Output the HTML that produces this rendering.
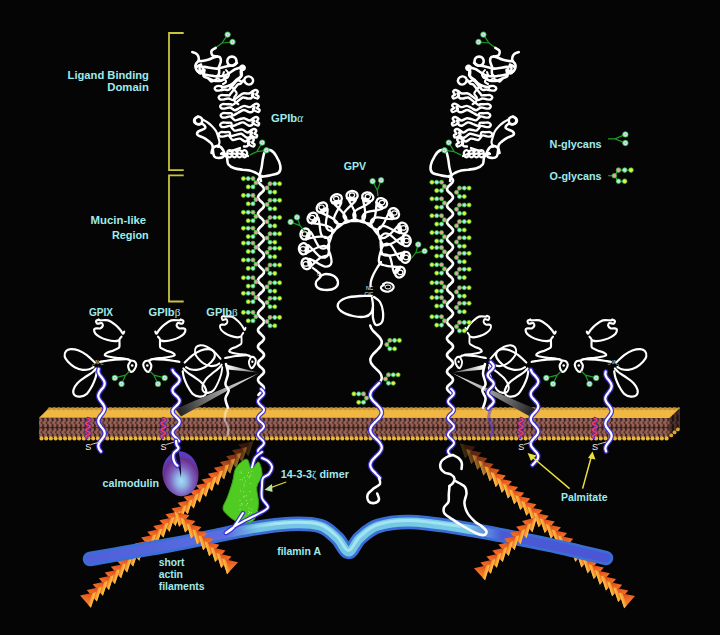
<!DOCTYPE html><html><head><meta charset="utf-8"><style>html,body{margin:0;padding:0;background:#050506;width:720px;height:635px;overflow:hidden}svg{display:block}text{font-family:"Liberation Sans",sans-serif}.t{font-weight:bold;fill:#a0eaea}</style></head><body>
<svg width="720" height="635" viewBox="0 0 720 635">
<rect width="720" height="635" fill="#050506"/>
<path d="M183.7,33 H169 V170.2 H183.7 M183.7,175.4 H169 V301.5 H183.7" fill="none" stroke="#c9c43c" stroke-width="1.8"/>
<defs><linearGradient id="actg" gradientUnits="userSpaceOnUse" x1="1" y1="5.5" x2="1" y2="-3">
<stop offset="0" stop-color="#d0341a"/><stop offset="0.35" stop-color="#e8561e"/><stop offset="1" stop-color="#f27c26"/></linearGradient>
<linearGradient id="acty" gradientUnits="userSpaceOnUse" x1="-3.7" y1="0" x2="-1.0" y2="0">
<stop offset="0" stop-color="#fbc84a"/><stop offset="0.6" stop-color="#f7a236"/><stop offset="1" stop-color="#f2862c"/></linearGradient>
<g id="atri"><polygon points="7.4,0 -3.7,6.5 -3.7,-6.5" fill="url(#actg)"/><polygon points="-3.7,6.5 -1.0,4.9 -1.0,-4.9 -3.7,-6.5" fill="url(#acty)"/></g></defs>
<use href="#atri" transform="translate(246.6,447.3) rotate(198.2) scale(1.2,1.2)" opacity="0.21"/><use href="#atri" transform="translate(240.5,453.1) rotate(198.2) scale(1.2,1.2)" opacity="0.38"/><use href="#atri" transform="translate(234.5,458.9) rotate(198.2) scale(1.2,1.2)" opacity="0.54"/><use href="#atri" transform="translate(228.4,464.7) rotate(198.2) scale(1.2,1.2)" opacity="0.71"/><use href="#atri" transform="translate(222.3,470.5) rotate(198.2) scale(1.2,1.2)" opacity="0.87"/><use href="#atri" transform="translate(216.3,476.4) rotate(198.2) scale(1.2,1.2)"/><use href="#atri" transform="translate(210.2,482.2) rotate(198.2) scale(1.2,1.2)"/><use href="#atri" transform="translate(204.2,488) rotate(198.2) scale(1.2,1.2)"/><use href="#atri" transform="translate(198.1,493.8) rotate(198.2) scale(1.2,1.2)"/><use href="#atri" transform="translate(192,499.6) rotate(198.2) scale(1.2,1.2)"/><use href="#atri" transform="translate(186,505.4) rotate(198.2) scale(1.2,1.2)"/><use href="#atri" transform="translate(179.9,511.3) rotate(198.2) scale(1.2,1.2)"/><use href="#atri" transform="translate(173.9,517.1) rotate(198.2) scale(1.2,1.2)"/><use href="#atri" transform="translate(167.8,522.9) rotate(198.2) scale(1.2,1.2)"/><use href="#atri" transform="translate(161.7,528.7) rotate(198.2) scale(1.2,1.2)"/><use href="#atri" transform="translate(155.7,534.5) rotate(198.2) scale(1.2,1.2)"/><use href="#atri" transform="translate(149.6,540.3) rotate(198.2) scale(1.2,1.2)"/><use href="#atri" transform="translate(143.5,546.2) rotate(198.2) scale(1.2,1.2)"/><use href="#atri" transform="translate(137.5,552) rotate(198.2) scale(1.2,1.2)"/><use href="#atri" transform="translate(131.4,557.8) rotate(198.2) scale(1.2,1.2)"/><use href="#atri" transform="translate(125.4,563.6) rotate(198.2) scale(1.2,1.2)"/><use href="#atri" transform="translate(119.3,569.4) rotate(198.2) scale(1.2,1.2)"/><use href="#atri" transform="translate(113.2,575.2) rotate(198.2) scale(1.2,1.2)"/><use href="#atri" transform="translate(107.2,581.1) rotate(198.2) scale(1.2,1.2)"/><use href="#atri" transform="translate(101.1,586.9) rotate(198.2) scale(1.2,1.2)"/><use href="#atri" transform="translate(95.1,592.7) rotate(198.2) scale(1.2,1.2)"/><use href="#atri" transform="translate(89,598.5) rotate(198.2) scale(1.272,1.272)"/>
<use href="#atri" transform="translate(466.8,449.5) rotate(-18.8) scale(1.2,-1.2)" opacity="0.22"/><use href="#atri" transform="translate(472.9,455.3) rotate(-18.8) scale(1.2,-1.2)" opacity="0.39"/><use href="#atri" transform="translate(479,461) rotate(-18.8) scale(1.2,-1.2)" opacity="0.55"/><use href="#atri" transform="translate(485.1,466.8) rotate(-18.8) scale(1.2,-1.2)" opacity="0.71"/><use href="#atri" transform="translate(491.3,472.5) rotate(-18.8) scale(1.2,-1.2)" opacity="0.88"/><use href="#atri" transform="translate(497.4,478.3) rotate(-18.8) scale(1.2,-1.2)"/><use href="#atri" transform="translate(503.5,484) rotate(-18.8) scale(1.2,-1.2)"/><use href="#atri" transform="translate(509.6,489.8) rotate(-18.8) scale(1.2,-1.2)"/><use href="#atri" transform="translate(515.8,495.5) rotate(-18.8) scale(1.2,-1.2)"/><use href="#atri" transform="translate(521.9,501.3) rotate(-18.8) scale(1.2,-1.2)"/><use href="#atri" transform="translate(528,507) rotate(-18.8) scale(1.2,-1.2)"/><use href="#atri" transform="translate(534.1,512.8) rotate(-18.8) scale(1.2,-1.2)"/><use href="#atri" transform="translate(540.3,518.5) rotate(-18.8) scale(1.2,-1.2)"/><use href="#atri" transform="translate(546.4,524.3) rotate(-18.8) scale(1.2,-1.2)"/><use href="#atri" transform="translate(552.5,530) rotate(-18.8) scale(1.2,-1.2)"/><use href="#atri" transform="translate(558.6,535.8) rotate(-18.8) scale(1.2,-1.2)"/><use href="#atri" transform="translate(564.8,541.5) rotate(-18.8) scale(1.2,-1.2)"/><use href="#atri" transform="translate(570.9,547.3) rotate(-18.8) scale(1.2,-1.2)"/><use href="#atri" transform="translate(577,553) rotate(-18.8) scale(1.2,-1.2)"/><use href="#atri" transform="translate(583.1,558.8) rotate(-18.8) scale(1.2,-1.2)"/><use href="#atri" transform="translate(589.3,564.5) rotate(-18.8) scale(1.2,-1.2)"/><use href="#atri" transform="translate(595.4,570.3) rotate(-18.8) scale(1.2,-1.2)"/><use href="#atri" transform="translate(601.5,576) rotate(-18.8) scale(1.2,-1.2)"/><use href="#atri" transform="translate(607.6,581.8) rotate(-18.8) scale(1.2,-1.2)"/><use href="#atri" transform="translate(613.8,587.5) rotate(-18.8) scale(1.2,-1.2)"/><use href="#atri" transform="translate(619.9,593.3) rotate(-18.8) scale(1.2,-1.2)"/><use href="#atri" transform="translate(626,599) rotate(-18.8) scale(1.272,-1.272)"/>
<defs><linearGradient id="filg" gradientUnits="userSpaceOnUse" x1="80" y1="0" x2="620" y2="0">
<stop offset="0" stop-color="#4e5ed8"/><stop offset="0.27" stop-color="#5a6ee0"/><stop offset="0.33" stop-color="#74c4e4"/>
<stop offset="0.72" stop-color="#78cce6"/><stop offset="0.78" stop-color="#4a5ad6"/><stop offset="1" stop-color="#4a56d4"/></linearGradient>
<linearGradient id="filh" gradientUnits="userSpaceOnUse" x1="80" y1="0" x2="620" y2="0">
<stop offset="0" stop-color="#5a6ee0" stop-opacity="0"/><stop offset="0.3" stop-color="#9ee0f0" stop-opacity="0"/><stop offset="0.36" stop-color="#a8e6f2" stop-opacity="1"/>
<stop offset="0.7" stop-color="#a0e2f0" stop-opacity="1"/><stop offset="0.76" stop-color="#5a6ee0" stop-opacity="0"/></linearGradient></defs><path d="M90,559 C96.7,557.8 116.7,554.3 130,552 C143.3,549.7 156.7,547.5 170,545 C183.3,542.5 196.7,539.7 210,537 C223.3,534.3 236.7,531.2 250,529 C263.3,526.8 278.3,524.5 290,524 C301.7,523.5 312.2,523.7 320,526 C327.8,528.3 332.2,533.7 337,538 C341.8,542.3 344.7,552 348.5,552 C352.3,552 355.1,542.3 360,538 C364.9,533.7 369.7,528.7 378,526 C386.3,523.3 397.2,521.8 410,522 C422.8,522.2 440,524.8 455,527 C470,529.2 484.2,532 500,535 C515.8,538 532.3,541.2 550,545 C567.7,548.8 596.7,555.8 606,558" fill="none" stroke="#3a6ed6" stroke-width="14.5" stroke-linecap="round" stroke-linejoin="round"/><path d="M90,559 C96.7,557.8 116.7,554.3 130,552 C143.3,549.7 156.7,547.5 170,545 C183.3,542.5 196.7,539.7 210,537 C223.3,534.3 236.7,531.2 250,529 C263.3,526.8 278.3,524.5 290,524 C301.7,523.5 312.2,523.7 320,526 C327.8,528.3 332.2,533.7 337,538 C341.8,542.3 344.7,552 348.5,552 C352.3,552 355.1,542.3 360,538 C364.9,533.7 369.7,528.7 378,526 C386.3,523.3 397.2,521.8 410,522 C422.8,522.2 440,524.8 455,527 C470,529.2 484.2,532 500,535 C515.8,538 532.3,541.2 550,545 C567.7,548.8 596.7,555.8 606,558" fill="none" stroke="url(#filg)" stroke-width="9" stroke-linecap="round" stroke-linejoin="round"/><path d="M90,559 C96.7,557.8 116.7,554.3 130,552 C143.3,549.7 156.7,547.5 170,545 C183.3,542.5 196.7,539.7 210,537 C223.3,534.3 236.7,531.2 250,529 C263.3,526.8 278.3,524.5 290,524 C301.7,523.5 312.2,523.7 320,526 C327.8,528.3 332.2,533.7 337,538 C341.8,542.3 344.7,552 348.5,552 C352.3,552 355.1,542.3 360,538 C364.9,533.7 369.7,528.7 378,526 C386.3,523.3 397.2,521.8 410,522 C422.8,522.2 440,524.8 455,527 C470,529.2 484.2,532 500,535 C515.8,538 532.3,541.2 550,545 C567.7,548.8 596.7,555.8 606,558" fill="none" stroke="url(#filh)" stroke-width="3" stroke-linecap="round" transform="translate(0,-1.5)"/>
<use href="#atri" transform="translate(181,517.9) rotate(-17.6) scale(1.2,-1.2)"/><use href="#atri" transform="translate(187,523.8) rotate(-17.6) scale(1.2,-1.2)"/><use href="#atri" transform="translate(193,529.7) rotate(-17.6) scale(1.2,-1.2)"/><use href="#atri" transform="translate(199,535.6) rotate(-17.6) scale(1.2,-1.2)"/><use href="#atri" transform="translate(205,541.5) rotate(-17.6) scale(1.2,-1.2)"/><use href="#atri" transform="translate(211,547.4) rotate(-17.6) scale(1.2,-1.2)"/><use href="#atri" transform="translate(217,553.2) rotate(-17.6) scale(1.2,-1.2)"/><use href="#atri" transform="translate(223,559.1) rotate(-17.6) scale(1.2,-1.2)"/><use href="#atri" transform="translate(229,565) rotate(-17.6) scale(1.272,-1.272)"/>
<use href="#atri" transform="translate(530.5,523.5) rotate(197) scale(1.2,1.2)"/><use href="#atri" transform="translate(524.6,529.4) rotate(197) scale(1.2,1.2)"/><use href="#atri" transform="translate(518.6,535.4) rotate(197) scale(1.2,1.2)"/><use href="#atri" transform="translate(512.7,541.3) rotate(197) scale(1.2,1.2)"/><use href="#atri" transform="translate(506.8,547.2) rotate(197) scale(1.2,1.2)"/><use href="#atri" transform="translate(500.8,553.2) rotate(197) scale(1.2,1.2)"/><use href="#atri" transform="translate(494.9,559.1) rotate(197) scale(1.2,1.2)"/><use href="#atri" transform="translate(488.9,565.1) rotate(197) scale(1.2,1.2)"/><use href="#atri" transform="translate(483,571) rotate(197) scale(1.272,1.272)"/>
<defs>
<pattern id="lip" x="0" y="418" width="4.7" height="9.5" patternUnits="userSpaceOnUse">
<rect width="4.7" height="9.5" fill="#3c221c"/>
<path d="M2.35,0 L3.9,2.4 L1.2,4.8 L3.9,7.1 L2.35,9.5" stroke="#976258" stroke-width="2.3" fill="none"/>
</pattern>
<pattern id="topb" x="0" y="405" width="4.7" height="6" patternUnits="userSpaceOnUse">
<circle cx="2.35" cy="3.5" r="2.1" fill="#b98a36"/>
</pattern>
</defs><polygon points="669.5,418 680,408 680,428.5 669.5,437.5" fill="url(#lip)"/><polygon points="669.5,418 680,408 680,428.5 669.5,437.5" fill="#000" opacity="0.5"/><rect x="39" y="417.5" width="630.5" height="19.5" fill="url(#lip)"/><rect x="39" y="427" width="630.5" height="1.2" fill="#2a160e" opacity="0.6"/><polygon points="39,417.8 49,408 680,408 669.5,418" fill="#f1b743"/><polygon points="46,410.5 49,407 680,407 677.5,410.5" fill="url(#topb)" opacity="0.8"/><circle cx="41.5" cy="438.4" r="2.1" fill="#eab736"/><circle cx="46.2" cy="438.4" r="2.1" fill="#eab736"/><circle cx="50.9" cy="438.4" r="2.1" fill="#eab736"/><circle cx="55.6" cy="438.4" r="2.1" fill="#eab736"/><circle cx="60.3" cy="438.4" r="2.1" fill="#eab736"/><circle cx="65" cy="438.4" r="2.1" fill="#eab736"/><circle cx="69.7" cy="438.4" r="2.1" fill="#eab736"/><circle cx="74.4" cy="438.4" r="2.1" fill="#eab736"/><circle cx="79.1" cy="438.4" r="2.1" fill="#eab736"/><circle cx="83.8" cy="438.4" r="2.1" fill="#eab736"/><circle cx="88.5" cy="438.4" r="2.1" fill="#eab736"/><circle cx="93.2" cy="438.4" r="2.1" fill="#eab736"/><circle cx="97.9" cy="438.4" r="2.1" fill="#eab736"/><circle cx="102.6" cy="438.4" r="2.1" fill="#eab736"/><circle cx="107.3" cy="438.4" r="2.1" fill="#eab736"/><circle cx="112" cy="438.4" r="2.1" fill="#eab736"/><circle cx="116.7" cy="438.4" r="2.1" fill="#eab736"/><circle cx="121.4" cy="438.4" r="2.1" fill="#eab736"/><circle cx="126.1" cy="438.4" r="2.1" fill="#eab736"/><circle cx="130.8" cy="438.4" r="2.1" fill="#eab736"/><circle cx="135.5" cy="438.4" r="2.1" fill="#eab736"/><circle cx="140.2" cy="438.4" r="2.1" fill="#eab736"/><circle cx="144.9" cy="438.4" r="2.1" fill="#eab736"/><circle cx="149.6" cy="438.4" r="2.1" fill="#eab736"/><circle cx="154.3" cy="438.4" r="2.1" fill="#eab736"/><circle cx="159" cy="438.4" r="2.1" fill="#eab736"/><circle cx="163.7" cy="438.4" r="2.1" fill="#eab736"/><circle cx="168.4" cy="438.4" r="2.1" fill="#eab736"/><circle cx="173.1" cy="438.4" r="2.1" fill="#eab736"/><circle cx="177.8" cy="438.4" r="2.1" fill="#eab736"/><circle cx="182.5" cy="438.4" r="2.1" fill="#eab736"/><circle cx="187.2" cy="438.4" r="2.1" fill="#eab736"/><circle cx="191.9" cy="438.4" r="2.1" fill="#eab736"/><circle cx="196.6" cy="438.4" r="2.1" fill="#eab736"/><circle cx="201.3" cy="438.4" r="2.1" fill="#eab736"/><circle cx="206" cy="438.4" r="2.1" fill="#eab736"/><circle cx="210.7" cy="438.4" r="2.1" fill="#eab736"/><circle cx="215.4" cy="438.4" r="2.1" fill="#eab736"/><circle cx="220.1" cy="438.4" r="2.1" fill="#eab736"/><circle cx="224.8" cy="438.4" r="2.1" fill="#eab736"/><circle cx="229.5" cy="438.4" r="2.1" fill="#eab736"/><circle cx="234.2" cy="438.4" r="2.1" fill="#eab736"/><circle cx="238.9" cy="438.4" r="2.1" fill="#eab736"/><circle cx="243.6" cy="438.4" r="2.1" fill="#eab736"/><circle cx="248.3" cy="438.4" r="2.1" fill="#eab736"/><circle cx="253" cy="438.4" r="2.1" fill="#eab736"/><circle cx="257.7" cy="438.4" r="2.1" fill="#eab736"/><circle cx="262.4" cy="438.4" r="2.1" fill="#eab736"/><circle cx="267.1" cy="438.4" r="2.1" fill="#eab736"/><circle cx="271.8" cy="438.4" r="2.1" fill="#eab736"/><circle cx="276.5" cy="438.4" r="2.1" fill="#eab736"/><circle cx="281.2" cy="438.4" r="2.1" fill="#eab736"/><circle cx="285.9" cy="438.4" r="2.1" fill="#eab736"/><circle cx="290.6" cy="438.4" r="2.1" fill="#eab736"/><circle cx="295.3" cy="438.4" r="2.1" fill="#eab736"/><circle cx="300" cy="438.4" r="2.1" fill="#eab736"/><circle cx="304.7" cy="438.4" r="2.1" fill="#eab736"/><circle cx="309.4" cy="438.4" r="2.1" fill="#eab736"/><circle cx="314.1" cy="438.4" r="2.1" fill="#eab736"/><circle cx="318.8" cy="438.4" r="2.1" fill="#eab736"/><circle cx="323.5" cy="438.4" r="2.1" fill="#eab736"/><circle cx="328.2" cy="438.4" r="2.1" fill="#eab736"/><circle cx="332.9" cy="438.4" r="2.1" fill="#eab736"/><circle cx="337.6" cy="438.4" r="2.1" fill="#eab736"/><circle cx="342.3" cy="438.4" r="2.1" fill="#eab736"/><circle cx="347" cy="438.4" r="2.1" fill="#eab736"/><circle cx="351.7" cy="438.4" r="2.1" fill="#eab736"/><circle cx="356.4" cy="438.4" r="2.1" fill="#eab736"/><circle cx="361.1" cy="438.4" r="2.1" fill="#eab736"/><circle cx="365.8" cy="438.4" r="2.1" fill="#eab736"/><circle cx="370.5" cy="438.4" r="2.1" fill="#eab736"/><circle cx="375.2" cy="438.4" r="2.1" fill="#eab736"/><circle cx="379.9" cy="438.4" r="2.1" fill="#eab736"/><circle cx="384.6" cy="438.4" r="2.1" fill="#eab736"/><circle cx="389.3" cy="438.4" r="2.1" fill="#eab736"/><circle cx="394" cy="438.4" r="2.1" fill="#eab736"/><circle cx="398.7" cy="438.4" r="2.1" fill="#eab736"/><circle cx="403.4" cy="438.4" r="2.1" fill="#eab736"/><circle cx="408.1" cy="438.4" r="2.1" fill="#eab736"/><circle cx="412.8" cy="438.4" r="2.1" fill="#eab736"/><circle cx="417.5" cy="438.4" r="2.1" fill="#eab736"/><circle cx="422.2" cy="438.4" r="2.1" fill="#eab736"/><circle cx="426.9" cy="438.4" r="2.1" fill="#eab736"/><circle cx="431.6" cy="438.4" r="2.1" fill="#eab736"/><circle cx="436.3" cy="438.4" r="2.1" fill="#eab736"/><circle cx="441" cy="438.4" r="2.1" fill="#eab736"/><circle cx="445.7" cy="438.4" r="2.1" fill="#eab736"/><circle cx="450.4" cy="438.4" r="2.1" fill="#eab736"/><circle cx="455.1" cy="438.4" r="2.1" fill="#eab736"/><circle cx="459.8" cy="438.4" r="2.1" fill="#eab736"/><circle cx="464.5" cy="438.4" r="2.1" fill="#eab736"/><circle cx="469.2" cy="438.4" r="2.1" fill="#eab736"/><circle cx="473.9" cy="438.4" r="2.1" fill="#eab736"/><circle cx="478.6" cy="438.4" r="2.1" fill="#eab736"/><circle cx="483.3" cy="438.4" r="2.1" fill="#eab736"/><circle cx="488" cy="438.4" r="2.1" fill="#eab736"/><circle cx="492.7" cy="438.4" r="2.1" fill="#eab736"/><circle cx="497.4" cy="438.4" r="2.1" fill="#eab736"/><circle cx="502.1" cy="438.4" r="2.1" fill="#eab736"/><circle cx="506.8" cy="438.4" r="2.1" fill="#eab736"/><circle cx="511.5" cy="438.4" r="2.1" fill="#eab736"/><circle cx="516.2" cy="438.4" r="2.1" fill="#eab736"/><circle cx="520.9" cy="438.4" r="2.1" fill="#eab736"/><circle cx="525.6" cy="438.4" r="2.1" fill="#eab736"/><circle cx="530.3" cy="438.4" r="2.1" fill="#eab736"/><circle cx="535" cy="438.4" r="2.1" fill="#eab736"/><circle cx="539.7" cy="438.4" r="2.1" fill="#eab736"/><circle cx="544.4" cy="438.4" r="2.1" fill="#eab736"/><circle cx="549.1" cy="438.4" r="2.1" fill="#eab736"/><circle cx="553.8" cy="438.4" r="2.1" fill="#eab736"/><circle cx="558.5" cy="438.4" r="2.1" fill="#eab736"/><circle cx="563.2" cy="438.4" r="2.1" fill="#eab736"/><circle cx="567.9" cy="438.4" r="2.1" fill="#eab736"/><circle cx="572.6" cy="438.4" r="2.1" fill="#eab736"/><circle cx="577.3" cy="438.4" r="2.1" fill="#eab736"/><circle cx="582" cy="438.4" r="2.1" fill="#eab736"/><circle cx="586.7" cy="438.4" r="2.1" fill="#eab736"/><circle cx="591.4" cy="438.4" r="2.1" fill="#eab736"/><circle cx="596.1" cy="438.4" r="2.1" fill="#eab736"/><circle cx="600.8" cy="438.4" r="2.1" fill="#eab736"/><circle cx="605.5" cy="438.4" r="2.1" fill="#eab736"/><circle cx="610.2" cy="438.4" r="2.1" fill="#eab736"/><circle cx="614.9" cy="438.4" r="2.1" fill="#eab736"/><circle cx="619.6" cy="438.4" r="2.1" fill="#eab736"/><circle cx="624.3" cy="438.4" r="2.1" fill="#eab736"/><circle cx="629" cy="438.4" r="2.1" fill="#eab736"/><circle cx="633.7" cy="438.4" r="2.1" fill="#eab736"/><circle cx="638.4" cy="438.4" r="2.1" fill="#eab736"/><circle cx="643.1" cy="438.4" r="2.1" fill="#eab736"/><circle cx="647.8" cy="438.4" r="2.1" fill="#eab736"/><circle cx="652.5" cy="438.4" r="2.1" fill="#eab736"/><circle cx="657.2" cy="438.4" r="2.1" fill="#eab736"/><circle cx="661.9" cy="438.4" r="2.1" fill="#eab736"/><circle cx="666.6" cy="438.4" r="2.1" fill="#eab736"/><circle cx="671.3" cy="435.4" r="1.9" fill="#d8a830"/><circle cx="674.6" cy="432.4" r="1.9" fill="#d8a830"/><circle cx="677.9" cy="429.4" r="1.9" fill="#d8a830"/>
<path d="M215.7,47.8 L222,43 L227.6,34.6 M222,43 L232.5,42" stroke="#1e9a22" stroke-width="1.2" fill="none"/><circle cx="227.6" cy="34.6" r="2.7" fill="#bff2fa" stroke="#3aba3a" stroke-width="0.8"/><circle cx="227.6" cy="34.6" r="0.9" fill="#d8a0b8"/><circle cx="232.5" cy="42" r="2.7" fill="#bff2fa" stroke="#3aba3a" stroke-width="0.8"/><circle cx="232.5" cy="42" r="0.9" fill="#d8a0b8"/><path d="M215.7,47.8 C215,48.2 212.5,49.5 211.8,50.4 C211.1,51.3 211.2,52.1 211.4,53 C211.6,53.9 211.7,55 212.7,55.6 C213.7,56.2 216.2,56.2 217.4,56.5 C218.6,56.8 219.4,56.6 220,57.3 C220.6,58 220.9,59.6 220.9,60.8 C220.9,61.9 220.4,63.1 220,64.2 C219.6,65.4 218.8,66.5 218.7,67.7 C218.6,68.9 219.2,70.1 219.2,71.2 C219.2,72.3 219.1,73.7 218.7,74.6 C218.3,75.5 216.9,76.1 216.6,76.4" fill="none" stroke="#fff" stroke-width="2.56" stroke-linecap="round" stroke-linejoin="round" /><path d="M198.4,61.2 C199.3,61.1 201.9,61.1 203.6,60.8 C205.3,60.5 207.2,60 208.8,59.5 C210.4,59 211.7,58.2 213.1,57.7 C214.5,57.2 216.7,56.7 217.4,56.5" fill="none" stroke="#fff" stroke-width="2.56" stroke-linecap="round" stroke-linejoin="round" /><path d="M192.3,52.1 C192.9,52.3 194.9,52.8 195.8,53.4 C196.8,54 197.5,54.7 198,55.6 C198.5,56.5 198.7,57.7 198.8,58.6 C198.9,59.5 198.8,60 198.4,60.8 C198,61.6 196.7,62.5 196.2,63.4 C195.7,64.3 195.4,65 195.4,66 C195.4,67 195.7,68.4 196.2,69.4 C196.7,70.4 197.5,71.4 198.4,72 C199.3,72.6 200.4,72.5 201.4,72.9 C202.4,73.3 203,74.2 204.5,74.6 C206,75 208.5,75.2 210.5,75.5 C212.5,75.8 214.3,76.4 216.6,76.4 C218.9,76.4 222.2,76.1 224.4,75.5 C226.6,74.9 227.9,73.9 229.6,72.9 C231.3,71.9 233.1,70.3 234.8,69.4 C236.5,68.5 238.6,68.1 240,67.7 C241.4,67.3 242.7,66.7 243.4,66.8 C244.1,66.9 244.2,68 244,68.5 C243.8,69 242.5,69.5 242,70 C241.5,70.5 241,70.1 240.8,71.2 C240.6,72.3 241.5,75 240.8,76.4 C240.1,77.8 237.8,78.7 236.5,79.8 C235.2,80.9 234.4,82.3 233,83.3 C231.6,84.3 229.8,85.3 228,86 C226.2,86.7 223,87.2 222,87.5" fill="none" stroke="#fff" stroke-width="2.56" stroke-linecap="round" stroke-linejoin="round" /><path d="M204,66.8 C204.9,67 207.5,67.4 209.6,67.7 C211.7,68 214.5,68.6 216.6,68.6 C218.7,68.6 220,67.9 222,67.5 C224,67.1 226.9,66.3 228.7,66 C230.5,65.7 231.6,66 233,65.5 C234.4,65 236.3,63.4 237,63" fill="none" stroke="#fff" stroke-width="2.56" stroke-linecap="round" stroke-linejoin="round" /><path d="M201,64.5 C200.8,65.1 199.5,66.8 199.5,68 C199.5,69.2 200.2,71.2 201,71.5 C201.8,71.8 204.1,69.2 204.5,70 C204.9,70.8 202.9,74.7 203.5,76 C204.1,77.3 206.2,77.3 207.9,78.1 C209.7,78.9 211.8,80.3 214,80.7 C216.2,81.1 219.2,81 220.9,80.7 C222.6,80.4 223.4,79.7 224.4,79 C225.4,78.3 226.6,76.9 227,76.5" fill="none" stroke="#fff" stroke-width="2.56" stroke-linecap="round" stroke-linejoin="round" /><path d="M236.5,61.2 C236.4,61.6 236.3,62.8 235.9,63.5 C235.5,64.2 234.9,64.8 234.2,65.2 C233.5,65.6 232.7,65.8 231.9,65.8 C231.1,65.8 230.3,65.6 229.6,65.2 C228.9,64.8 228.3,64.2 227.9,63.5 C227.5,62.8 227.3,62 227.3,61.2 C227.3,60.4 227.5,59.6 227.9,58.9 C228.3,58.2 228.9,57.6 229.6,57.2 C230.3,56.8 231.1,56.6 231.9,56.6 C232.7,56.6 233.5,56.8 234.2,57.2 C234.9,57.6 235.5,58.2 235.9,58.9 C236.3,59.6 236.4,60.8 236.5,61.2" fill="none" stroke="#fff" stroke-width="2.56" stroke-linecap="round" stroke-linejoin="round" /><path d="M196.5,67 C197.1,66.7 198.9,64.7 200,65 C201.1,65.3 202.9,67.6 203,69 C203.1,70.4 201.4,73.2 200.5,73.5 C199.6,73.8 198,71.4 197.5,71" fill="none" stroke="#fff" stroke-width="2.56" stroke-linecap="round" stroke-linejoin="round" /><path d="M222,87.5 C221.9,87.3 222.3,86.5 221.5,86.3 C220.7,86.1 218.1,85.8 217,86.1 C215.9,86.4 214.8,87.5 214.7,88.2 C214.6,88.9 215.5,90.2 216.5,90.5 C217.5,90.8 219.2,90.5 220.5,90.3 C221.8,90.1 223.1,89.6 224.5,89.5 C225.9,89.4 227.4,90.4 228.8,89.7 C230.3,88.9 231.8,86.6 233.2,85 C234.6,83.5 235.9,81 237.6,80.4 C239.2,79.8 241.6,82.1 242.9,81.6 C244.2,81.1 244.4,78.5 245.4,77.6 C246.4,76.7 247.7,76.2 248.9,76.4 C250.1,76.6 251.9,77.6 252.5,78.6 C253.1,79.6 253.1,81.6 252.5,82.6 C251.9,83.6 250.1,84.6 248.9,84.6 C247.7,84.6 246.2,83.6 245.4,82.8 C244.6,82 244.7,79.5 243.9,79.6 C243.2,79.7 241.9,82.8 240.9,83.6 C239.9,84.4 239,83.5 237.8,84.5 C236.6,85.5 235.1,88 233.7,89.7 C232.3,91.4 230.3,94 229.6,94.9 C228.9,95.8 230.2,95.2 229.5,95.3 C228.8,95.4 226.9,95.3 225.5,95.3 C224.1,95.3 222.1,94.8 221,95.1 C219.9,95.4 218.8,96.5 218.7,97.2 C218.6,97.9 219.5,99.2 220.5,99.5 C221.5,99.8 223.2,99.5 224.5,99.3 C225.8,99.1 227,98.4 228.5,98.5 C230,98.6 231.8,100.3 233.4,100 C235,99.7 236.6,97.8 238.2,96.8 C239.9,95.7 241.3,94 243.1,93.5 C244.9,92.9 247.4,93.8 249,93.5 C250.6,93.2 251.4,92 252.5,91.4 C253.6,90.8 254.6,89.9 255.5,90 C256.4,90.1 257.7,91.2 257.8,92 C257.9,92.8 255.9,93.8 256,94.5 C256.1,95.2 258.2,95.5 258.5,96.2 C258.8,96.9 258.2,98.3 257.5,98.5 C256.8,98.7 254.9,97.7 254,97.2 C253.1,96.7 252.1,96.1 252,95.5 C251.9,94.9 253.6,93.1 253.5,93.5 C253.4,93.9 252.4,97.2 251.5,98 C250.6,98.8 249.5,98.6 248,98.5 C246.5,98.4 244.5,97.1 242.8,97.5 C241,98 239.2,100.1 237.5,101.4 C235.8,102.7 233.3,104.8 232.2,105.2 C231.2,105.7 231.9,104.5 231,104.3 C230.1,104.1 228.4,104.3 227,104.3 C225.6,104.3 223.6,103.8 222.5,104.1 C221.4,104.4 220.3,105.5 220.2,106.2 C220.1,106.9 221,108.2 222,108.5 C223,108.8 224.7,108.5 226,108.3 C227.3,108.1 228.5,107.2 230,107.5 C231.5,107.8 233.2,110.1 234.8,110.2 C236.3,110.3 237.9,108.8 239.5,108 C241.1,107.3 242.5,106.1 244.2,105.9 C246,105.8 248.5,107.3 250,107.1 C251.5,106.9 252.4,105.6 253.5,105 C254.6,104.4 255.6,103.5 256.5,103.6 C257.4,103.7 258.7,104.8 258.8,105.6 C258.9,106.3 256.9,107.4 257,108.1 C257.1,108.8 259.2,109.1 259.5,109.8 C259.8,110.5 259.2,111.9 258.5,112.1 C257.8,112.3 255.9,111.3 255,110.8 C254.1,110.3 253.1,109.7 253,109.1 C252.9,108.5 254.6,106.7 254.5,107.1 C254.4,107.5 253.4,110.8 252.5,111.6 C251.6,112.4 250.5,112.4 249,112.1 C247.5,111.8 245.4,109.9 243.6,110 C241.8,110.1 240,111.8 238.2,112.7 C236.5,113.6 234,115.3 232.9,115.4 C231.8,115.5 232.4,113.7 231.5,113.3 C230.6,112.9 228.9,113.3 227.5,113.3 C226.1,113.3 224.1,112.8 223,113.1 C221.9,113.4 220.8,114.5 220.7,115.2 C220.6,115.9 221.5,117.2 222.5,117.5 C223.5,117.8 225.2,117.5 226.5,117.3 C227.8,117.1 229.1,116 230.5,116.5 C231.9,117 233.5,119.8 235,120.3 C236.5,120.7 238,119.6 239.5,119.2 C241,118.9 242.3,118 244,118.2 C245.7,118.4 248,120.5 249.5,120.5 C251,120.5 251.9,119 253,118.4 C254.1,117.8 255.1,116.9 256,117 C256.9,117.1 258.2,118.2 258.3,119 C258.4,119.8 256.4,120.8 256.5,121.5 C256.6,122.2 258.8,122.5 259,123.2 C259.2,123.9 258.8,125.3 258,125.5 C257.2,125.7 255.4,124.7 254.5,124.2 C253.6,123.7 252.6,123.1 252.5,122.5 C252.4,121.9 254.1,120.1 254,120.5 C253.9,120.9 252.9,124.2 252,125 C251.1,125.8 250,125.9 248.5,125.5 C247,125.1 244.9,122.6 243.1,122.4 C241.3,122.2 239.5,123.6 237.8,124.2 C236,124.7 233.5,126.1 232.4,125.9 C231.2,125.7 231.9,123.3 231,122.8 C230.1,122.3 228.4,122.8 227,122.8 C225.6,122.8 223.6,122.3 222.5,122.6 C221.4,122.9 220.3,124 220.2,124.7 C220.1,125.4 221,126.7 222,127 C223,127.3 224.7,127 226,126.8 C227.3,126.6 228.6,125.4 230,126 C231.4,126.6 232.8,129.7 234.1,130.4 C235.5,131.1 236.9,130.1 238.2,130 C239.6,129.9 240.8,129.2 242.4,129.6 C243.9,130 246.1,132.4 247.5,132.5 C248.9,132.6 249.9,131 251,130.4 C252.1,129.8 253.1,128.9 254,129 C254.9,129.1 256.2,130.2 256.3,131 C256.4,131.8 254.4,132.8 254.5,133.5 C254.6,134.2 256.8,134.5 257,135.2 C257.2,135.9 256.8,137.3 256,137.5 C255.2,137.7 253.4,136.7 252.5,136.2 C251.6,135.7 250.6,135.1 250.5,134.5 C250.4,133.9 252.1,132.1 252,132.5 C251.9,132.9 250.9,136.2 250,137 C249.1,137.8 248,138 246.5,137.5 C245,137 243,134.2 241.2,133.8 C239.5,133.4 237.8,134.5 236,134.9 C234.2,135.3 231.8,136.4 230.8,136 C229.7,135.6 230.4,132.9 229.5,132.3 C228.6,131.7 226.9,132.3 225.5,132.3 C224.1,132.3 222.1,131.8 221,132.1 C219.9,132.4 218.8,133.5 218.7,134.2 C218.6,134.9 219.5,136.2 220.5,136.5 C221.5,136.8 223.2,136.5 224.5,136.3 C225.8,136.1 227.2,134.9 228.5,135.5 C229.8,136.1 231.1,139.2 232.4,139.8 C233.7,140.4 235,139.4 236.2,139.2 C237.5,139.1 238.7,138.3 240.1,138.7 C241.6,139.1 243.6,141.4 245,141.5 C246.4,141.6 247.4,140 248.5,139.4 C249.6,138.8 250.6,137.9 251.5,138 C252.4,138.1 253.7,139.2 253.8,140 C253.9,140.8 251.9,141.8 252,142.5 C252.1,143.2 254.2,143.5 254.5,144.2 C254.8,144.9 254.2,146.3 253.5,146.5 C252.8,146.7 250.9,145.7 250,145.2 C249.1,144.7 248.1,144.1 248,143.5 C247.9,142.9 249.6,141.1 249.5,141.5 C249.4,141.9 248.4,145.2 247.5,146 C246.6,146.8 244.6,146.4 244,146.5" fill="none" stroke="#fff" stroke-width="2.43" stroke-linecap="round" stroke-linejoin="round" /><path d="M207.9,78.1 C208.4,78.7 210,81.1 211,81.5 C212,81.9 212.8,81.2 214,80.7 C215.2,80.2 216.8,78.5 218,78.5 C219.2,78.5 219.8,80.6 220.9,80.7 C222,80.8 223.6,78.8 224.4,79 C225.2,79.2 226.2,81.2 226,82 C225.8,82.8 223.5,83.7 223,84" fill="none" stroke="#fff" stroke-width="2.18" stroke-linecap="round" stroke-linejoin="round" /><path d="M226,70 C226.5,70.7 228.8,72.7 229,74 C229.2,75.3 228,77.7 227,78 C226,78.3 223.5,77 223,76 C222.5,75 223.8,72.7 224,72" fill="none" stroke="#fff" stroke-width="2.05" stroke-linecap="round" stroke-linejoin="round" /><path d="M244.8,67.8 C244.7,68 244.6,68.8 244.4,69.2 C244.1,69.5 243.6,69.8 243.2,70 C242.8,70.1 242.2,70.1 241.8,70 C241.4,69.8 240.9,69.5 240.6,69.2 C240.4,68.8 240.2,68.3 240.2,67.8 C240.2,67.3 240.4,66.8 240.6,66.4 C240.9,66.1 241.4,65.8 241.8,65.6 C242.2,65.5 242.8,65.5 243.2,65.6 C243.6,65.8 244.1,66.1 244.4,66.4 C244.6,66.8 244.7,67.6 244.8,67.8" fill="none" stroke="#fff" stroke-width="2.18" stroke-linecap="round" stroke-linejoin="round" /><path d="M241.7,70.8 C241.7,71.6 242.3,74.4 241.7,75.8 C241.1,77.2 239.5,78.2 238.3,79.2 C237.1,80.2 235.6,81 234.6,82 C233.6,83 233.3,84.2 232.5,85 C231.7,85.8 230.4,86.4 230,86.7" fill="none" stroke="#fff" stroke-width="2.3" stroke-linecap="round" stroke-linejoin="round" /><path d="M232.5,87.5 C233.2,88.5 236.4,91.6 236.7,93.3 C237,95 234.5,96.1 234.2,97.5 C233.9,98.9 234.3,100.6 235,101.7 C235.7,102.8 237.8,103.8 238.3,104.2" fill="none" stroke="#fff" stroke-width="2.18" stroke-linecap="round" stroke-linejoin="round" /><path d="M202.5,119.5 C203.2,119.9 205.4,120.9 207,122 C208.6,123.1 210.3,124.4 211.8,125.9 C213.3,127.4 215,129.2 216,131 C217,132.8 217.4,134.7 218,136.5 C218.6,138.3 219.5,140.2 219.5,142 C219.5,143.8 218.2,146.2 218,147" fill="none" stroke="#fff" stroke-width="2.18" stroke-linecap="round" stroke-linejoin="round" /><path d="M198,116.5 C197.4,116.9 195,117.9 194.5,119 C194,120.1 194.2,122.1 195,123 C195.8,123.9 197.8,124.3 199,124.5 C200.2,124.7 201.4,123.3 202.5,123.9 C203.6,124.5 206,126.7 205.3,128 C204.6,129.3 199.6,130.3 198.3,131.5 C197,132.7 196.7,133.9 197.6,135 C198.5,136.1 202,136.8 203.9,137.8 C205.8,138.8 207.4,140.1 208.8,141.2 C210.1,142.4 211.5,143.2 212.2,144.7 C212.9,146.2 212.6,148.3 212.9,150.3 C213.2,152.3 213.2,155.2 214.3,156.5 C215.4,157.8 217.6,158 219.2,157.9 C220.8,157.8 223.3,157.1 224,155.8 C224.7,154.5 224.2,151.9 223.3,150.3 C222.4,148.7 220.2,146.4 218.5,146 C216.8,145.6 214.2,146.8 213,148 C211.8,149.2 211.8,152.2 211.5,153" fill="none" stroke="#fff" stroke-width="2.56" stroke-linecap="round" stroke-linejoin="round" /><path d="M202.3,120.5 C202.2,120.9 202,122.1 201.6,122.7 C201.1,123.3 200.4,123.9 199.7,124.1 C199,124.3 198,124.3 197.3,124.1 C196.6,123.9 195.9,123.3 195.4,122.7 C195,122.1 194.7,121.2 194.7,120.5 C194.7,119.8 195,118.9 195.4,118.3 C195.9,117.7 196.6,117.1 197.3,116.9 C198,116.7 199,116.7 199.7,116.9 C200.4,117.1 201.1,117.7 201.6,118.3 C202,118.9 202.2,120.1 202.3,120.5" fill="none" stroke="#fff" stroke-width="2.56" stroke-linecap="round" stroke-linejoin="round" /><path d="M221,154 C222,153.9 225.7,154.2 226.8,153.7 C227.9,153.2 227.1,151.8 227.6,151.2 C228,150.6 228.9,150.1 229.5,150.1 C230.1,150.1 231,150.6 231.4,151.2 C231.9,151.8 232.2,152.9 232.2,153.7 C232.2,154.5 231.9,155.6 231.4,156.2 C231,156.8 230.1,157.3 229.5,157.3 C228.9,157.3 228,156.8 227.6,156.2 C227.1,155.6 226.1,154.1 226.8,153.7 C227.5,153.3 230.8,154.1 231.8,153.7 C232.8,153.3 232.1,151.8 232.6,151.2 C233,150.6 233.9,150.1 234.5,150.1 C235.1,150.1 236,150.6 236.4,151.2 C236.9,151.8 237.2,152.9 237.2,153.7 C237.2,154.5 236.9,155.6 236.4,156.2 C236,156.8 235.1,157.3 234.5,157.3 C233.9,157.3 233,156.8 232.6,156.2 C232.1,155.6 231.1,154.1 231.8,153.7 C232.5,153.3 235.8,154.1 236.8,153.7 C237.8,153.3 237.1,151.8 237.6,151.2 C238,150.6 238.9,150.1 239.5,150.1 C240.1,150.1 241,150.6 241.4,151.2 C241.9,151.8 242.2,152.9 242.2,153.7 C242.2,154.5 241.9,155.6 241.4,156.2 C241,156.8 240.1,157.3 239.5,157.3 C238.9,157.3 238,156.8 237.6,156.2 C237.1,155.6 236.1,154.1 236.8,153.7 C237.5,153.3 240.8,154.1 241.8,153.7 C242.8,153.3 242.1,151.8 242.6,151.2 C243,150.6 243.9,150.1 244.5,150.1 C245.1,150.1 246,150.6 246.4,151.2 C246.9,151.8 247.2,152.9 247.2,153.7 C247.2,154.5 246.9,155.6 246.4,156.2 C246,156.8 245.1,157.3 244.5,157.3 C243.9,157.3 243,156.8 242.6,156.2 C242.1,155.6 240.9,153.7 241.8,153.7 C242.7,153.7 247,155.6 248,156" fill="none" stroke="#fff" stroke-width="2.3" stroke-linecap="round" stroke-linejoin="round" /><path d="M222,153 C222.8,153.7 225.8,155.3 226.8,157.2 C227.8,159.1 226.9,162.3 228.2,164.2 C229.5,166 232,167.4 234.4,168.3 C236.8,169.2 240.2,169.3 242.8,169.7 C245.4,170 247.6,169.9 249.7,170.4 C251.8,170.9 253.7,171.7 255.3,172.5 C256.9,173.3 258.4,173.9 259.4,175.3 C260.3,176.7 260.7,180.1 261,181" fill="none" stroke="#fff" stroke-width="2.56" stroke-linecap="round" stroke-linejoin="round" /><path d="M259.4,175.3 C259.8,174.1 260.9,170.8 261.5,168 C262.1,165.2 262.3,161.3 262.9,158.6 C263.5,155.9 263.7,153.1 265,151.7 C266.3,150.3 268.8,149.6 270.6,150.3 C272.5,151 274.5,153.2 276.1,155.8 C277.7,158.4 279.8,162.8 280.3,165.6 C280.8,168.4 280.5,170.9 278.9,172.5 C277.3,174.1 273.4,174.6 270.6,175.3 C267.8,176 263.6,176.5 262.2,176.7" fill="none" stroke="#fff" stroke-width="2.56" stroke-linecap="round" stroke-linejoin="round" /><path d="M249.7,155.1 L256.7,151.7 L262.2,142.6 M256.7,151.7 L266.4,150.3" stroke="#1e9a22" stroke-width="1.2" fill="none"/><circle cx="262.2" cy="142.6" r="2.7" fill="#bff2fa" stroke="#3aba3a" stroke-width="0.8"/><circle cx="262.2" cy="142.6" r="0.9" fill="#d8a0b8"/><circle cx="266.4" cy="150.3" r="2.7" fill="#bff2fa" stroke="#3aba3a" stroke-width="0.8"/><circle cx="266.4" cy="150.3" r="0.9" fill="#d8a0b8"/><path d="M240,148 C239,148.3 235.7,149.5 234,150 C232.3,150.5 230.7,150.8 230,151" fill="none" stroke="#fff" stroke-width="2.3" stroke-linecap="round" stroke-linejoin="round" /><path d="M261.6,176 C261.2,176.3 260,177.4 259.4,178.1 C258.8,178.8 258.2,179.4 258.1,180.1 C257.9,180.8 258.1,181.5 258.5,182.2 C258.8,182.9 259.7,183.6 260.3,184.3 C261,185 262,185.6 262.6,186.3 C263.2,187 263.8,187.7 263.9,188.4 C264.1,189.1 263.9,189.8 263.6,190.5 C263.2,191.2 262.4,191.8 261.7,192.5 C261,193.2 260,193.9 259.4,194.6 C258.8,195.3 258.3,196 258.1,196.7 C257.9,197.3 258.1,198 258.4,198.7 C258.8,199.4 259.6,200.1 260.3,200.8 C260.9,201.5 261.9,202.2 262.5,202.9 C263.1,203.5 263.7,204.2 263.9,204.9 C264.1,205.6 263.9,206.3 263.6,207 C263.2,207.7 262.5,208.4 261.8,209.1 C261.1,209.7 260.1,210.4 259.5,211.1 C258.9,211.8 258.3,212.5 258.1,213.2 C257.9,213.9 258,214.6 258.4,215.3 C258.7,215.9 259.5,216.6 260.2,217.3 C260.9,218 261.8,218.7 262.5,219.4 C263.1,220.1 263.7,220.8 263.9,221.5 C264.1,222.1 264,222.8 263.6,223.5 C263.3,224.2 262.5,224.9 261.9,225.6 C261.2,226.3 260.2,227 259.6,227.7 C259,228.3 258.3,229 258.1,229.7 C257.9,230.4 258,231.1 258.3,231.8 C258.7,232.5 259.4,233.2 260.1,233.8 C260.8,234.5 261.8,235.2 262.4,235.9 C263,236.6 263.6,237.3 263.9,238 C264.1,238.7 264,239.4 263.7,240 C263.4,240.7 262.6,241.4 261.9,242.1 C261.3,242.8 260.3,243.5 259.7,244.2 C259,244.9 258.4,245.6 258.2,246.2 C257.9,246.9 258,247.6 258.3,248.3 C258.6,249 259.4,249.7 260,250.4 C260.7,251.1 261.7,251.8 262.3,252.4 C262.9,253.1 263.6,253.8 263.8,254.5 C264.1,255.2 264,255.9 263.7,256.6 C263.4,257.3 262.7,258 262,258.6 C261.3,259.3 260.4,260 259.7,260.7 C259.1,261.4 258.4,262.1 258.2,262.8 C257.9,263.5 258,264.2 258.3,264.8 C258.6,265.5 259.3,266.2 260,266.9 C260.6,267.6 261.6,268.3 262.2,269 C262.9,269.7 263.6,270.3 263.8,271 C264.1,271.7 264,272.4 263.7,273.1 C263.5,273.8 262.7,274.5 262.1,275.2 C261.4,275.9 260.4,276.5 259.8,277.2 C259.2,277.9 258.5,278.6 258.2,279.3 C258,280 258,280.7 258.2,281.4 C258.5,282.1 259.2,282.7 259.9,283.4 C260.5,284.1 261.5,284.8 262.2,285.5 C262.8,286.2 263.5,286.9 263.8,287.6 C264,288.3 264,288.9 263.8,289.6 C263.5,290.3 262.8,291 262.2,291.7 C261.5,292.4 260.5,293.1 259.9,293.8 C259.2,294.5 258.5,295.1 258.2,295.8 C258,296.5 258,297.2 258.2,297.9 C258.5,298.6 259.2,299.3 259.8,300 C260.4,300.7 261.4,301.3 262.1,302 C262.7,302.7 263.5,303.4 263.7,304.1 C264,304.8 264.1,305.5 263.8,306.2 C263.6,306.8 262.9,307.5 262.2,308.2 C261.6,308.9 260.6,309.6 260,310.3 C259.3,311 258.6,311.7 258.3,312.4 C258,313 257.9,313.7 258.2,314.4 C258.4,315.1 259.1,315.8 259.7,316.5 C260.4,317.2 261.3,317.9 262,318.6 C262.7,319.2 263.4,319.9 263.7,320.6 C264,321.3 264.1,322 263.8,322.7 C263.6,323.4 262.9,324.1 262.3,324.8 C261.7,325.4 260.7,326.1 260,326.8 C259.4,327.5 258.6,328.2 258.3,328.9 C258,329.6 257.9,330.3 258.2,331 C258.4,331.6 259,332.3 259.7,333 C260.3,333.7 261.3,334.4 261.9,335.1 C262.6,335.8 263.4,336.5 263.7,337.2 C264,337.8 264.1,338.5 263.9,339.2 C263.6,339.9 263,340.6 262.4,341.3 C261.8,342 260.8,342.7 260.1,343.3 C259.4,344 258.7,344.7 258.3,345.4 C258,346.1 257.9,346.8 258.1,347.5 C258.3,348.2 259,348.9 259.6,349.5 C260.2,350.2 261.2,350.9 261.9,351.6 C262.5,352.3 263.3,353 263.6,353.7 C264,354.4 264.1,355.1 263.9,355.7 C263.7,356.4 263.1,357.1 262.5,357.8 C261.8,358.5 260.9,359.2 260.2,359.9 C259.5,360.6 258.7,361.3 258.4,361.9 C258,362.6 257.9,363.3 258.1,364 C258.3,364.7 258.9,365.4 259.5,366.1 C260.1,366.8 261.1,367.5 261.8,368.1 C262.5,368.8 263.2,369.5 263.6,370.2 C263.9,370.9 264.1,371.6 263.9,372.3 C263.7,373 263.1,373.7 262.5,374.3 C261.9,375 260.9,375.7 260.3,376.4 C259.6,377.1 258.8,377.8 258.4,378.5 C258.1,379.2 257.9,379.8 258.1,380.5 C258.3,381.2 258.8,381.9 259.4,382.6 C260,383.3 261,384 261.7,384.7 C262.4,385.4 263.2,386 263.6,386.7 C263.9,387.4 264.1,388.1 263.9,388.8 C263.8,389.5 263.2,390.2 262.6,390.9 C262,391.6 261,392.2 260.3,392.9 C259.7,393.6 258.8,394.7 258.5,395" fill="none" stroke="#fff" stroke-width="2.69" stroke-linecap="round" stroke-linejoin="round" /><path d="M98.8,319.7 C98.3,319.9 96.3,320.3 96.1,321 C95.9,321.7 96.6,323.4 97.5,323.7 C98.4,324 100.6,322.7 101.5,323 C102.4,323.3 103,324.8 102.8,325.7 C102.6,326.6 101.2,327.9 100.1,328.4 C99,328.8 97.1,328.2 96.1,328.4 C95.1,328.6 94.2,328.8 94.1,329.7 C94,330.6 94.5,332.5 95.5,333.7 C96.5,334.9 98.2,336.1 100.1,337.1 C102,338.1 104.3,339 106.8,339.7 C109.2,340.4 112.8,341 114.8,341.1 C116.8,341.2 118.2,340.5 118.9,340.4" fill="none" stroke="#fff" stroke-width="2.18" stroke-linecap="round" stroke-linejoin="round" /><path d="M98.8,319.7 C99,319.8 98.5,320.3 100.1,320.4 C101.7,320.5 105.8,319.7 108.2,320.4 C110.7,321.1 112.8,322.8 114.8,324.4 C116.8,325.9 118.8,328.1 120.2,329.7 C121.6,331.2 122.2,333.4 122.9,333.7 C123.6,334 124,332 124.2,331.7" fill="none" stroke="#fff" stroke-width="2.18" stroke-linecap="round" stroke-linejoin="round" /><path d="M121.5,336.7 C121.2,337.2 119.8,338.2 119.5,339.5 C119.2,340.8 119.6,343 119.5,344.4 C119.4,345.8 119.9,346.8 118.9,347.8 C117.9,348.8 115.4,349.7 113.5,350.5 C111.6,351.3 109,351.7 107.5,352.5 C106,353.3 104.7,354.4 104.8,355.1 C104.9,355.8 106.3,356.1 108.2,356.5 C110.1,356.9 113.5,357.5 116.2,357.8 C118.9,358.1 121.8,358.1 124.2,358.5 C126.7,358.9 129.2,360.1 130.9,360.5 C132.6,360.9 133.3,360.5 134.2,361.2 C135.1,361.9 136.3,363.1 136.3,364.5 C136.3,365.9 135.1,368.6 134.2,369.8 C133.3,371 131.8,372 130.9,371.9 C130,371.8 129.4,370.3 128.9,369.2 C128.4,368.1 128,366.5 128.2,365.2 C128.4,363.9 130.4,362.2 130.2,361.2 C130,360.2 129.7,359.3 126.9,359.1 C124.1,358.9 117.3,359.5 113.5,359.8 C109.7,360.1 106.3,360.9 104.1,361.2 C101.9,361.5 100.8,361.7 100.1,361.8" fill="none" stroke="#fff" stroke-width="2.18" stroke-linecap="round" stroke-linejoin="round" /><circle cx="132.2" cy="365.5" r="1.3" fill="#fff"/><path d="M94.8,362.5 C93.5,361.3 89.5,357.1 86.8,355.1 C84.1,353.1 81.4,351.5 78.7,350.5 C76,349.5 72.8,349 70.7,349.1 C68.6,349.2 67,349.9 66,351.1 C65,352.3 64.4,354.7 64.7,356.5 C65,358.3 66.3,360 68,361.8 C69.7,363.6 72.2,365.9 74.7,367.2 C77.2,368.5 80.2,369.5 82.7,369.8 C85.2,370.1 87.6,369.6 89.4,369.2 C91.2,368.8 92.7,367.5 93.4,367.2" fill="none" stroke="#fff" stroke-width="2.18" stroke-linecap="round" stroke-linejoin="round" /><path d="M96.1,368.5 C95.4,369.2 94.1,370.9 92.1,372.5 C90.1,374.1 86.5,376.1 84.1,377.9 C81.6,379.7 79.2,381.2 77.4,383.2 C75.6,385.2 73.9,387.9 73.4,389.9 C73,391.9 73.6,394.2 74.7,395.3 C75.8,396.4 78.1,396.8 80.1,396.6 C82.1,396.4 84.8,395.7 86.8,393.9 C88.8,392.1 90.6,388.6 92.1,385.9 C93.5,383.2 94.7,380.3 95.5,377.9 C96.3,375.4 96.6,372.3 96.8,371.2" fill="none" stroke="#fff" stroke-width="2.18" stroke-linecap="round" stroke-linejoin="round" /><text x="95.5" y="364" font-family="Liberation Sans" font-size="4.5" fill="#fff">N</text><text x="92" y="367" font-family="Liberation Sans" font-size="4" fill="#fff">C</text><text x="100.5" y="365" font-family="Liberation Sans" font-size="4" fill="#fff">C</text><path d="M129.6,371.2 L125.6,375.2 L114.8,377.9 M125.6,375.2 L121.5,383.9" stroke="#1e9a22" stroke-width="1.2" fill="none"/><circle cx="114.8" cy="377.9" r="2.7" fill="#bff2fa" stroke="#3aba3a" stroke-width="0.8"/><circle cx="114.8" cy="377.9" r="0.9" fill="#d8a0b8"/><circle cx="121.5" cy="383.9" r="2.7" fill="#bff2fa" stroke="#3aba3a" stroke-width="0.8"/><circle cx="121.5" cy="383.9" r="0.9" fill="#d8a0b8"/><g transform="translate(279.5,0) scale(-1,1)"><path d="M98.8,319.7 C98.3,319.9 96.3,320.3 96.1,321 C95.9,321.7 96.6,323.4 97.5,323.7 C98.4,324 100.6,322.7 101.5,323 C102.4,323.3 103,324.8 102.8,325.7 C102.6,326.6 101.2,327.9 100.1,328.4 C99,328.8 97.1,328.2 96.1,328.4 C95.1,328.6 94.2,328.8 94.1,329.7 C94,330.6 94.5,332.5 95.5,333.7 C96.5,334.9 98.2,336.1 100.1,337.1 C102,338.1 104.3,339 106.8,339.7 C109.2,340.4 112.8,341 114.8,341.1 C116.8,341.2 118.2,340.5 118.9,340.4" fill="none" stroke="#fff" stroke-width="2.18" stroke-linecap="round" stroke-linejoin="round" /><path d="M98.8,319.7 C99,319.8 98.5,320.3 100.1,320.4 C101.7,320.5 105.8,319.7 108.2,320.4 C110.7,321.1 112.8,322.8 114.8,324.4 C116.8,325.9 118.8,328.1 120.2,329.7 C121.6,331.2 122.2,333.4 122.9,333.7 C123.6,334 124,332 124.2,331.7" fill="none" stroke="#fff" stroke-width="2.18" stroke-linecap="round" stroke-linejoin="round" /><path d="M121.5,336.7 C121.2,337.2 119.8,338.2 119.5,339.5 C119.2,340.8 119.6,343 119.5,344.4 C119.4,345.8 119.9,346.8 118.9,347.8 C117.9,348.8 115.4,349.7 113.5,350.5 C111.6,351.3 109,351.7 107.5,352.5 C106,353.3 104.7,354.4 104.8,355.1 C104.9,355.8 106.3,356.1 108.2,356.5 C110.1,356.9 113.5,357.5 116.2,357.8 C118.9,358.1 121.8,358.1 124.2,358.5 C126.7,358.9 129.2,360.1 130.9,360.5 C132.6,360.9 133.3,360.5 134.2,361.2 C135.1,361.9 136.3,363.1 136.3,364.5 C136.3,365.9 135.1,368.6 134.2,369.8 C133.3,371 131.8,372 130.9,371.9 C130,371.8 129.4,370.3 128.9,369.2 C128.4,368.1 128,366.5 128.2,365.2 C128.4,363.9 130.4,362.2 130.2,361.2 C130,360.2 129.7,359.3 126.9,359.1 C124.1,358.9 117.3,359.5 113.5,359.8 C109.7,360.1 106.3,360.9 104.1,361.2 C101.9,361.5 100.8,361.7 100.1,361.8" fill="none" stroke="#fff" stroke-width="2.18" stroke-linecap="round" stroke-linejoin="round" /><circle cx="132.2" cy="365.5" r="1.3" fill="#fff"/><path d="M94.8,362.5 C93.5,361.3 89.5,357.1 86.8,355.1 C84.1,353.1 81.4,351.5 78.7,350.5 C76,349.5 72.8,349 70.7,349.1 C68.6,349.2 67,349.9 66,351.1 C65,352.3 64.4,354.7 64.7,356.5 C65,358.3 66.3,360 68,361.8 C69.7,363.6 72.2,365.9 74.7,367.2 C77.2,368.5 80.2,369.5 82.7,369.8 C85.2,370.1 87.6,369.6 89.4,369.2 C91.2,368.8 92.7,367.5 93.4,367.2" fill="none" stroke="#fff" stroke-width="2.18" stroke-linecap="round" stroke-linejoin="round" /><path d="M96.1,368.5 C95.4,369.2 94.1,370.9 92.1,372.5 C90.1,374.1 86.5,376.1 84.1,377.9 C81.6,379.7 79.2,381.2 77.4,383.2 C75.6,385.2 73.9,387.9 73.4,389.9 C73,391.9 73.6,394.2 74.7,395.3 C75.8,396.4 78.1,396.8 80.1,396.6 C82.1,396.4 84.8,395.7 86.8,393.9 C88.8,392.1 90.6,388.6 92.1,385.9 C93.5,383.2 94.7,380.3 95.5,377.9 C96.3,375.4 96.6,372.3 96.8,371.2" fill="none" stroke="#fff" stroke-width="2.18" stroke-linecap="round" stroke-linejoin="round" /><path d="M129.6,371.2 L125.6,375.2 L114.8,377.9 M125.6,375.2 L121.5,383.9" stroke="#1e9a22" stroke-width="1.2" fill="none"/><circle cx="114.8" cy="377.9" r="2.7" fill="#bff2fa" stroke="#3aba3a" stroke-width="0.8"/><circle cx="114.8" cy="377.9" r="0.9" fill="#d8a0b8"/><circle cx="121.5" cy="383.9" r="2.7" fill="#bff2fa" stroke="#3aba3a" stroke-width="0.8"/><circle cx="121.5" cy="383.9" r="0.9" fill="#d8a0b8"/></g><g transform="translate(223.2,358) scale(0.85,1) translate(-97.9,-361.8)"><path d="M98.8,319.7 C98.3,319.9 96.3,320.3 96.1,321 C95.9,321.7 96.6,323.4 97.5,323.7 C98.4,324 100.6,322.7 101.5,323 C102.4,323.3 103,324.8 102.8,325.7 C102.6,326.6 101.2,327.9 100.1,328.4 C99,328.8 97.1,328.2 96.1,328.4 C95.1,328.6 94.2,328.8 94.1,329.7 C94,330.6 94.5,332.5 95.5,333.7 C96.5,334.9 98.2,336.1 100.1,337.1 C102,338.1 104.3,339 106.8,339.7 C109.2,340.4 112.8,341 114.8,341.1 C116.8,341.2 118.2,340.5 118.9,340.4" fill="none" stroke="#fff" stroke-width="2.18" stroke-linecap="round" stroke-linejoin="round" /><path d="M98.8,319.7 C99,319.8 98.5,320.3 100.1,320.4 C101.7,320.5 105.8,319.7 108.2,320.4 C110.7,321.1 112.8,322.8 114.8,324.4 C116.8,325.9 118.8,328.1 120.2,329.7 C121.6,331.2 122.2,333.4 122.9,333.7 C123.6,334 124,332 124.2,331.7" fill="none" stroke="#fff" stroke-width="2.18" stroke-linecap="round" stroke-linejoin="round" /><path d="M121.5,336.7 C121.2,337.2 119.8,338.2 119.5,339.5 C119.2,340.8 119.6,343 119.5,344.4 C119.4,345.8 119.9,346.8 118.9,347.8 C117.9,348.8 115.4,349.7 113.5,350.5 C111.6,351.3 109,351.7 107.5,352.5 C106,353.3 104.7,354.4 104.8,355.1 C104.9,355.8 106.3,356.1 108.2,356.5 C110.1,356.9 113.5,357.5 116.2,357.8 C118.9,358.1 121.8,358.1 124.2,358.5 C126.7,358.9 129.2,360.1 130.9,360.5 C132.6,360.9 133.3,360.5 134.2,361.2 C135.1,361.9 136.3,363.1 136.3,364.5 C136.3,365.9 135.1,368.6 134.2,369.8 C133.3,371 131.8,372 130.9,371.9 C130,371.8 129.4,370.3 128.9,369.2 C128.4,368.1 128,366.5 128.2,365.2 C128.4,363.9 130.4,362.2 130.2,361.2 C130,360.2 129.7,359.3 126.9,359.1 C124.1,358.9 117.3,359.5 113.5,359.8 C109.7,360.1 106.3,360.9 104.1,361.2 C101.9,361.5 100.8,361.7 100.1,361.8" fill="none" stroke="#fff" stroke-width="2.18" stroke-linecap="round" stroke-linejoin="round" /><circle cx="132.2" cy="365.5" r="1.3" fill="#fff"/><path d="M94.8,362.5 C93.5,361.3 89.5,357.1 86.8,355.1 C84.1,353.1 81.4,351.5 78.7,350.5 C76,349.5 72.8,349 70.7,349.1 C68.6,349.2 67,349.9 66,351.1 C65,352.3 64.4,354.7 64.7,356.5 C65,358.3 66.3,360 68,361.8 C69.7,363.6 72.2,365.9 74.7,367.2 C77.2,368.5 80.2,369.5 82.7,369.8 C85.2,370.1 87.6,369.6 89.4,369.2 C91.2,368.8 92.7,367.5 93.4,367.2" fill="none" stroke="#fff" stroke-width="2.18" stroke-linecap="round" stroke-linejoin="round" /><path d="M96.1,368.5 C95.4,369.2 94.1,370.9 92.1,372.5 C90.1,374.1 86.5,376.1 84.1,377.9 C81.6,379.7 79.2,381.2 77.4,383.2 C75.6,385.2 73.9,387.9 73.4,389.9 C73,391.9 73.6,394.2 74.7,395.3 C75.8,396.4 78.1,396.8 80.1,396.6 C82.1,396.4 84.8,395.7 86.8,393.9 C88.8,392.1 90.6,388.6 92.1,385.9 C93.5,383.2 94.7,380.3 95.5,377.9 C96.3,375.4 96.6,372.3 96.8,371.2" fill="none" stroke="#fff" stroke-width="2.18" stroke-linecap="round" stroke-linejoin="round" /></g><defs><linearGradient id="wg1" gradientUnits="userSpaceOnUse" x1="178" y1="412" x2="258" y2="373"><stop offset="0" stop-color="#222"/><stop offset="0.6" stop-color="#aaa"/><stop offset="1" stop-color="#eee"/></linearGradient>
<linearGradient id="wg2" gradientUnits="userSpaceOnUse" x1="227" y1="367" x2="258" y2="372"><stop offset="0" stop-color="#fff"/><stop offset="1" stop-color="#666"/></linearGradient></defs><polygon points="175.5,409 181,416.5 258.5,373.3" fill="url(#wg1)"/><polygon points="226.5,364.5 227,369.5 258,372.5" fill="url(#wg2)"/><path d="M226,364 C226.3,365.6 228.1,370.2 228,373.5 C227.9,376.8 225.3,381.1 225.4,384 C225.5,386.9 228.7,388.2 228.7,390.6 C228.7,393 225.5,395.6 225.4,398.5 C225.3,401.4 227.6,406.2 228,407.8" fill="none" stroke="#fff" stroke-width="2.56" stroke-linecap="round" stroke-linejoin="round" />
<g transform="translate(711,0) scale(-1,1)"><path d="M215.7,47.8 L222,43 L227.6,34.6 M222,43 L232.5,42" stroke="#1e9a22" stroke-width="1.2" fill="none"/><circle cx="227.6" cy="34.6" r="2.7" fill="#bff2fa" stroke="#3aba3a" stroke-width="0.8"/><circle cx="227.6" cy="34.6" r="0.9" fill="#d8a0b8"/><circle cx="232.5" cy="42" r="2.7" fill="#bff2fa" stroke="#3aba3a" stroke-width="0.8"/><circle cx="232.5" cy="42" r="0.9" fill="#d8a0b8"/><path d="M215.7,47.8 C215,48.2 212.5,49.5 211.8,50.4 C211.1,51.3 211.2,52.1 211.4,53 C211.6,53.9 211.7,55 212.7,55.6 C213.7,56.2 216.2,56.2 217.4,56.5 C218.6,56.8 219.4,56.6 220,57.3 C220.6,58 220.9,59.6 220.9,60.8 C220.9,61.9 220.4,63.1 220,64.2 C219.6,65.4 218.8,66.5 218.7,67.7 C218.6,68.9 219.2,70.1 219.2,71.2 C219.2,72.3 219.1,73.7 218.7,74.6 C218.3,75.5 216.9,76.1 216.6,76.4" fill="none" stroke="#fff" stroke-width="2.56" stroke-linecap="round" stroke-linejoin="round" /><path d="M198.4,61.2 C199.3,61.1 201.9,61.1 203.6,60.8 C205.3,60.5 207.2,60 208.8,59.5 C210.4,59 211.7,58.2 213.1,57.7 C214.5,57.2 216.7,56.7 217.4,56.5" fill="none" stroke="#fff" stroke-width="2.56" stroke-linecap="round" stroke-linejoin="round" /><path d="M192.3,52.1 C192.9,52.3 194.9,52.8 195.8,53.4 C196.8,54 197.5,54.7 198,55.6 C198.5,56.5 198.7,57.7 198.8,58.6 C198.9,59.5 198.8,60 198.4,60.8 C198,61.6 196.7,62.5 196.2,63.4 C195.7,64.3 195.4,65 195.4,66 C195.4,67 195.7,68.4 196.2,69.4 C196.7,70.4 197.5,71.4 198.4,72 C199.3,72.6 200.4,72.5 201.4,72.9 C202.4,73.3 203,74.2 204.5,74.6 C206,75 208.5,75.2 210.5,75.5 C212.5,75.8 214.3,76.4 216.6,76.4 C218.9,76.4 222.2,76.1 224.4,75.5 C226.6,74.9 227.9,73.9 229.6,72.9 C231.3,71.9 233.1,70.3 234.8,69.4 C236.5,68.5 238.6,68.1 240,67.7 C241.4,67.3 242.7,66.7 243.4,66.8 C244.1,66.9 244.2,68 244,68.5 C243.8,69 242.5,69.5 242,70 C241.5,70.5 241,70.1 240.8,71.2 C240.6,72.3 241.5,75 240.8,76.4 C240.1,77.8 237.8,78.7 236.5,79.8 C235.2,80.9 234.4,82.3 233,83.3 C231.6,84.3 229.8,85.3 228,86 C226.2,86.7 223,87.2 222,87.5" fill="none" stroke="#fff" stroke-width="2.56" stroke-linecap="round" stroke-linejoin="round" /><path d="M204,66.8 C204.9,67 207.5,67.4 209.6,67.7 C211.7,68 214.5,68.6 216.6,68.6 C218.7,68.6 220,67.9 222,67.5 C224,67.1 226.9,66.3 228.7,66 C230.5,65.7 231.6,66 233,65.5 C234.4,65 236.3,63.4 237,63" fill="none" stroke="#fff" stroke-width="2.56" stroke-linecap="round" stroke-linejoin="round" /><path d="M201,64.5 C200.8,65.1 199.5,66.8 199.5,68 C199.5,69.2 200.2,71.2 201,71.5 C201.8,71.8 204.1,69.2 204.5,70 C204.9,70.8 202.9,74.7 203.5,76 C204.1,77.3 206.2,77.3 207.9,78.1 C209.7,78.9 211.8,80.3 214,80.7 C216.2,81.1 219.2,81 220.9,80.7 C222.6,80.4 223.4,79.7 224.4,79 C225.4,78.3 226.6,76.9 227,76.5" fill="none" stroke="#fff" stroke-width="2.56" stroke-linecap="round" stroke-linejoin="round" /><path d="M236.5,61.2 C236.4,61.6 236.3,62.8 235.9,63.5 C235.5,64.2 234.9,64.8 234.2,65.2 C233.5,65.6 232.7,65.8 231.9,65.8 C231.1,65.8 230.3,65.6 229.6,65.2 C228.9,64.8 228.3,64.2 227.9,63.5 C227.5,62.8 227.3,62 227.3,61.2 C227.3,60.4 227.5,59.6 227.9,58.9 C228.3,58.2 228.9,57.6 229.6,57.2 C230.3,56.8 231.1,56.6 231.9,56.6 C232.7,56.6 233.5,56.8 234.2,57.2 C234.9,57.6 235.5,58.2 235.9,58.9 C236.3,59.6 236.4,60.8 236.5,61.2" fill="none" stroke="#fff" stroke-width="2.56" stroke-linecap="round" stroke-linejoin="round" /><path d="M196.5,67 C197.1,66.7 198.9,64.7 200,65 C201.1,65.3 202.9,67.6 203,69 C203.1,70.4 201.4,73.2 200.5,73.5 C199.6,73.8 198,71.4 197.5,71" fill="none" stroke="#fff" stroke-width="2.56" stroke-linecap="round" stroke-linejoin="round" /><path d="M222,87.5 C221.9,87.3 222.3,86.5 221.5,86.3 C220.7,86.1 218.1,85.8 217,86.1 C215.9,86.4 214.8,87.5 214.7,88.2 C214.6,88.9 215.5,90.2 216.5,90.5 C217.5,90.8 219.2,90.5 220.5,90.3 C221.8,90.1 223.1,89.6 224.5,89.5 C225.9,89.4 227.4,90.4 228.8,89.7 C230.3,88.9 231.8,86.6 233.2,85 C234.6,83.5 235.9,81 237.6,80.4 C239.2,79.8 241.6,82.1 242.9,81.6 C244.2,81.1 244.4,78.5 245.4,77.6 C246.4,76.7 247.7,76.2 248.9,76.4 C250.1,76.6 251.9,77.6 252.5,78.6 C253.1,79.6 253.1,81.6 252.5,82.6 C251.9,83.6 250.1,84.6 248.9,84.6 C247.7,84.6 246.2,83.6 245.4,82.8 C244.6,82 244.7,79.5 243.9,79.6 C243.2,79.7 241.9,82.8 240.9,83.6 C239.9,84.4 239,83.5 237.8,84.5 C236.6,85.5 235.1,88 233.7,89.7 C232.3,91.4 230.3,94 229.6,94.9 C228.9,95.8 230.2,95.2 229.5,95.3 C228.8,95.4 226.9,95.3 225.5,95.3 C224.1,95.3 222.1,94.8 221,95.1 C219.9,95.4 218.8,96.5 218.7,97.2 C218.6,97.9 219.5,99.2 220.5,99.5 C221.5,99.8 223.2,99.5 224.5,99.3 C225.8,99.1 227,98.4 228.5,98.5 C230,98.6 231.8,100.3 233.4,100 C235,99.7 236.6,97.8 238.2,96.8 C239.9,95.7 241.3,94 243.1,93.5 C244.9,92.9 247.4,93.8 249,93.5 C250.6,93.2 251.4,92 252.5,91.4 C253.6,90.8 254.6,89.9 255.5,90 C256.4,90.1 257.7,91.2 257.8,92 C257.9,92.8 255.9,93.8 256,94.5 C256.1,95.2 258.2,95.5 258.5,96.2 C258.8,96.9 258.2,98.3 257.5,98.5 C256.8,98.7 254.9,97.7 254,97.2 C253.1,96.7 252.1,96.1 252,95.5 C251.9,94.9 253.6,93.1 253.5,93.5 C253.4,93.9 252.4,97.2 251.5,98 C250.6,98.8 249.5,98.6 248,98.5 C246.5,98.4 244.5,97.1 242.8,97.5 C241,98 239.2,100.1 237.5,101.4 C235.8,102.7 233.3,104.8 232.2,105.2 C231.2,105.7 231.9,104.5 231,104.3 C230.1,104.1 228.4,104.3 227,104.3 C225.6,104.3 223.6,103.8 222.5,104.1 C221.4,104.4 220.3,105.5 220.2,106.2 C220.1,106.9 221,108.2 222,108.5 C223,108.8 224.7,108.5 226,108.3 C227.3,108.1 228.5,107.2 230,107.5 C231.5,107.8 233.2,110.1 234.8,110.2 C236.3,110.3 237.9,108.8 239.5,108 C241.1,107.3 242.5,106.1 244.2,105.9 C246,105.8 248.5,107.3 250,107.1 C251.5,106.9 252.4,105.6 253.5,105 C254.6,104.4 255.6,103.5 256.5,103.6 C257.4,103.7 258.7,104.8 258.8,105.6 C258.9,106.3 256.9,107.4 257,108.1 C257.1,108.8 259.2,109.1 259.5,109.8 C259.8,110.5 259.2,111.9 258.5,112.1 C257.8,112.3 255.9,111.3 255,110.8 C254.1,110.3 253.1,109.7 253,109.1 C252.9,108.5 254.6,106.7 254.5,107.1 C254.4,107.5 253.4,110.8 252.5,111.6 C251.6,112.4 250.5,112.4 249,112.1 C247.5,111.8 245.4,109.9 243.6,110 C241.8,110.1 240,111.8 238.2,112.7 C236.5,113.6 234,115.3 232.9,115.4 C231.8,115.5 232.4,113.7 231.5,113.3 C230.6,112.9 228.9,113.3 227.5,113.3 C226.1,113.3 224.1,112.8 223,113.1 C221.9,113.4 220.8,114.5 220.7,115.2 C220.6,115.9 221.5,117.2 222.5,117.5 C223.5,117.8 225.2,117.5 226.5,117.3 C227.8,117.1 229.1,116 230.5,116.5 C231.9,117 233.5,119.8 235,120.3 C236.5,120.7 238,119.6 239.5,119.2 C241,118.9 242.3,118 244,118.2 C245.7,118.4 248,120.5 249.5,120.5 C251,120.5 251.9,119 253,118.4 C254.1,117.8 255.1,116.9 256,117 C256.9,117.1 258.2,118.2 258.3,119 C258.4,119.8 256.4,120.8 256.5,121.5 C256.6,122.2 258.8,122.5 259,123.2 C259.2,123.9 258.8,125.3 258,125.5 C257.2,125.7 255.4,124.7 254.5,124.2 C253.6,123.7 252.6,123.1 252.5,122.5 C252.4,121.9 254.1,120.1 254,120.5 C253.9,120.9 252.9,124.2 252,125 C251.1,125.8 250,125.9 248.5,125.5 C247,125.1 244.9,122.6 243.1,122.4 C241.3,122.2 239.5,123.6 237.8,124.2 C236,124.7 233.5,126.1 232.4,125.9 C231.2,125.7 231.9,123.3 231,122.8 C230.1,122.3 228.4,122.8 227,122.8 C225.6,122.8 223.6,122.3 222.5,122.6 C221.4,122.9 220.3,124 220.2,124.7 C220.1,125.4 221,126.7 222,127 C223,127.3 224.7,127 226,126.8 C227.3,126.6 228.6,125.4 230,126 C231.4,126.6 232.8,129.7 234.1,130.4 C235.5,131.1 236.9,130.1 238.2,130 C239.6,129.9 240.8,129.2 242.4,129.6 C243.9,130 246.1,132.4 247.5,132.5 C248.9,132.6 249.9,131 251,130.4 C252.1,129.8 253.1,128.9 254,129 C254.9,129.1 256.2,130.2 256.3,131 C256.4,131.8 254.4,132.8 254.5,133.5 C254.6,134.2 256.8,134.5 257,135.2 C257.2,135.9 256.8,137.3 256,137.5 C255.2,137.7 253.4,136.7 252.5,136.2 C251.6,135.7 250.6,135.1 250.5,134.5 C250.4,133.9 252.1,132.1 252,132.5 C251.9,132.9 250.9,136.2 250,137 C249.1,137.8 248,138 246.5,137.5 C245,137 243,134.2 241.2,133.8 C239.5,133.4 237.8,134.5 236,134.9 C234.2,135.3 231.8,136.4 230.8,136 C229.7,135.6 230.4,132.9 229.5,132.3 C228.6,131.7 226.9,132.3 225.5,132.3 C224.1,132.3 222.1,131.8 221,132.1 C219.9,132.4 218.8,133.5 218.7,134.2 C218.6,134.9 219.5,136.2 220.5,136.5 C221.5,136.8 223.2,136.5 224.5,136.3 C225.8,136.1 227.2,134.9 228.5,135.5 C229.8,136.1 231.1,139.2 232.4,139.8 C233.7,140.4 235,139.4 236.2,139.2 C237.5,139.1 238.7,138.3 240.1,138.7 C241.6,139.1 243.6,141.4 245,141.5 C246.4,141.6 247.4,140 248.5,139.4 C249.6,138.8 250.6,137.9 251.5,138 C252.4,138.1 253.7,139.2 253.8,140 C253.9,140.8 251.9,141.8 252,142.5 C252.1,143.2 254.2,143.5 254.5,144.2 C254.8,144.9 254.2,146.3 253.5,146.5 C252.8,146.7 250.9,145.7 250,145.2 C249.1,144.7 248.1,144.1 248,143.5 C247.9,142.9 249.6,141.1 249.5,141.5 C249.4,141.9 248.4,145.2 247.5,146 C246.6,146.8 244.6,146.4 244,146.5" fill="none" stroke="#fff" stroke-width="2.43" stroke-linecap="round" stroke-linejoin="round" /><path d="M207.9,78.1 C208.4,78.7 210,81.1 211,81.5 C212,81.9 212.8,81.2 214,80.7 C215.2,80.2 216.8,78.5 218,78.5 C219.2,78.5 219.8,80.6 220.9,80.7 C222,80.8 223.6,78.8 224.4,79 C225.2,79.2 226.2,81.2 226,82 C225.8,82.8 223.5,83.7 223,84" fill="none" stroke="#fff" stroke-width="2.18" stroke-linecap="round" stroke-linejoin="round" /><path d="M226,70 C226.5,70.7 228.8,72.7 229,74 C229.2,75.3 228,77.7 227,78 C226,78.3 223.5,77 223,76 C222.5,75 223.8,72.7 224,72" fill="none" stroke="#fff" stroke-width="2.05" stroke-linecap="round" stroke-linejoin="round" /><path d="M244.8,67.8 C244.7,68 244.6,68.8 244.4,69.2 C244.1,69.5 243.6,69.8 243.2,70 C242.8,70.1 242.2,70.1 241.8,70 C241.4,69.8 240.9,69.5 240.6,69.2 C240.4,68.8 240.2,68.3 240.2,67.8 C240.2,67.3 240.4,66.8 240.6,66.4 C240.9,66.1 241.4,65.8 241.8,65.6 C242.2,65.5 242.8,65.5 243.2,65.6 C243.6,65.8 244.1,66.1 244.4,66.4 C244.6,66.8 244.7,67.6 244.8,67.8" fill="none" stroke="#fff" stroke-width="2.18" stroke-linecap="round" stroke-linejoin="round" /><path d="M241.7,70.8 C241.7,71.6 242.3,74.4 241.7,75.8 C241.1,77.2 239.5,78.2 238.3,79.2 C237.1,80.2 235.6,81 234.6,82 C233.6,83 233.3,84.2 232.5,85 C231.7,85.8 230.4,86.4 230,86.7" fill="none" stroke="#fff" stroke-width="2.3" stroke-linecap="round" stroke-linejoin="round" /><path d="M232.5,87.5 C233.2,88.5 236.4,91.6 236.7,93.3 C237,95 234.5,96.1 234.2,97.5 C233.9,98.9 234.3,100.6 235,101.7 C235.7,102.8 237.8,103.8 238.3,104.2" fill="none" stroke="#fff" stroke-width="2.18" stroke-linecap="round" stroke-linejoin="round" /><path d="M202.5,119.5 C203.2,119.9 205.4,120.9 207,122 C208.6,123.1 210.3,124.4 211.8,125.9 C213.3,127.4 215,129.2 216,131 C217,132.8 217.4,134.7 218,136.5 C218.6,138.3 219.5,140.2 219.5,142 C219.5,143.8 218.2,146.2 218,147" fill="none" stroke="#fff" stroke-width="2.18" stroke-linecap="round" stroke-linejoin="round" /><path d="M198,116.5 C197.4,116.9 195,117.9 194.5,119 C194,120.1 194.2,122.1 195,123 C195.8,123.9 197.8,124.3 199,124.5 C200.2,124.7 201.4,123.3 202.5,123.9 C203.6,124.5 206,126.7 205.3,128 C204.6,129.3 199.6,130.3 198.3,131.5 C197,132.7 196.7,133.9 197.6,135 C198.5,136.1 202,136.8 203.9,137.8 C205.8,138.8 207.4,140.1 208.8,141.2 C210.1,142.4 211.5,143.2 212.2,144.7 C212.9,146.2 212.6,148.3 212.9,150.3 C213.2,152.3 213.2,155.2 214.3,156.5 C215.4,157.8 217.6,158 219.2,157.9 C220.8,157.8 223.3,157.1 224,155.8 C224.7,154.5 224.2,151.9 223.3,150.3 C222.4,148.7 220.2,146.4 218.5,146 C216.8,145.6 214.2,146.8 213,148 C211.8,149.2 211.8,152.2 211.5,153" fill="none" stroke="#fff" stroke-width="2.56" stroke-linecap="round" stroke-linejoin="round" /><path d="M202.3,120.5 C202.2,120.9 202,122.1 201.6,122.7 C201.1,123.3 200.4,123.9 199.7,124.1 C199,124.3 198,124.3 197.3,124.1 C196.6,123.9 195.9,123.3 195.4,122.7 C195,122.1 194.7,121.2 194.7,120.5 C194.7,119.8 195,118.9 195.4,118.3 C195.9,117.7 196.6,117.1 197.3,116.9 C198,116.7 199,116.7 199.7,116.9 C200.4,117.1 201.1,117.7 201.6,118.3 C202,118.9 202.2,120.1 202.3,120.5" fill="none" stroke="#fff" stroke-width="2.56" stroke-linecap="round" stroke-linejoin="round" /><path d="M221,154 C222,153.9 225.7,154.2 226.8,153.7 C227.9,153.2 227.1,151.8 227.6,151.2 C228,150.6 228.9,150.1 229.5,150.1 C230.1,150.1 231,150.6 231.4,151.2 C231.9,151.8 232.2,152.9 232.2,153.7 C232.2,154.5 231.9,155.6 231.4,156.2 C231,156.8 230.1,157.3 229.5,157.3 C228.9,157.3 228,156.8 227.6,156.2 C227.1,155.6 226.1,154.1 226.8,153.7 C227.5,153.3 230.8,154.1 231.8,153.7 C232.8,153.3 232.1,151.8 232.6,151.2 C233,150.6 233.9,150.1 234.5,150.1 C235.1,150.1 236,150.6 236.4,151.2 C236.9,151.8 237.2,152.9 237.2,153.7 C237.2,154.5 236.9,155.6 236.4,156.2 C236,156.8 235.1,157.3 234.5,157.3 C233.9,157.3 233,156.8 232.6,156.2 C232.1,155.6 231.1,154.1 231.8,153.7 C232.5,153.3 235.8,154.1 236.8,153.7 C237.8,153.3 237.1,151.8 237.6,151.2 C238,150.6 238.9,150.1 239.5,150.1 C240.1,150.1 241,150.6 241.4,151.2 C241.9,151.8 242.2,152.9 242.2,153.7 C242.2,154.5 241.9,155.6 241.4,156.2 C241,156.8 240.1,157.3 239.5,157.3 C238.9,157.3 238,156.8 237.6,156.2 C237.1,155.6 236.1,154.1 236.8,153.7 C237.5,153.3 240.8,154.1 241.8,153.7 C242.8,153.3 242.1,151.8 242.6,151.2 C243,150.6 243.9,150.1 244.5,150.1 C245.1,150.1 246,150.6 246.4,151.2 C246.9,151.8 247.2,152.9 247.2,153.7 C247.2,154.5 246.9,155.6 246.4,156.2 C246,156.8 245.1,157.3 244.5,157.3 C243.9,157.3 243,156.8 242.6,156.2 C242.1,155.6 240.9,153.7 241.8,153.7 C242.7,153.7 247,155.6 248,156" fill="none" stroke="#fff" stroke-width="2.3" stroke-linecap="round" stroke-linejoin="round" /><path d="M222,153 C222.8,153.7 225.8,155.3 226.8,157.2 C227.8,159.1 226.9,162.3 228.2,164.2 C229.5,166 232,167.4 234.4,168.3 C236.8,169.2 240.2,169.3 242.8,169.7 C245.4,170 247.6,169.9 249.7,170.4 C251.8,170.9 253.7,171.7 255.3,172.5 C256.9,173.3 258.4,173.9 259.4,175.3 C260.3,176.7 260.7,180.1 261,181" fill="none" stroke="#fff" stroke-width="2.56" stroke-linecap="round" stroke-linejoin="round" /><path d="M259.4,175.3 C259.8,174.1 260.9,170.8 261.5,168 C262.1,165.2 262.3,161.3 262.9,158.6 C263.5,155.9 263.7,153.1 265,151.7 C266.3,150.3 268.8,149.6 270.6,150.3 C272.5,151 274.5,153.2 276.1,155.8 C277.7,158.4 279.8,162.8 280.3,165.6 C280.8,168.4 280.5,170.9 278.9,172.5 C277.3,174.1 273.4,174.6 270.6,175.3 C267.8,176 263.6,176.5 262.2,176.7" fill="none" stroke="#fff" stroke-width="2.56" stroke-linecap="round" stroke-linejoin="round" /><path d="M249.7,155.1 L256.7,151.7 L262.2,142.6 M256.7,151.7 L266.4,150.3" stroke="#1e9a22" stroke-width="1.2" fill="none"/><circle cx="262.2" cy="142.6" r="2.7" fill="#bff2fa" stroke="#3aba3a" stroke-width="0.8"/><circle cx="262.2" cy="142.6" r="0.9" fill="#d8a0b8"/><circle cx="266.4" cy="150.3" r="2.7" fill="#bff2fa" stroke="#3aba3a" stroke-width="0.8"/><circle cx="266.4" cy="150.3" r="0.9" fill="#d8a0b8"/><path d="M240,148 C239,148.3 235.7,149.5 234,150 C232.3,150.5 230.7,150.8 230,151" fill="none" stroke="#fff" stroke-width="2.3" stroke-linecap="round" stroke-linejoin="round" /><path d="M261.6,176 C261.2,176.3 260,177.4 259.4,178.1 C258.8,178.8 258.2,179.4 258.1,180.1 C257.9,180.8 258.1,181.5 258.5,182.2 C258.8,182.9 259.7,183.6 260.3,184.3 C261,185 262,185.6 262.6,186.3 C263.2,187 263.8,187.7 263.9,188.4 C264.1,189.1 263.9,189.8 263.6,190.5 C263.2,191.2 262.4,191.8 261.7,192.5 C261,193.2 260,193.9 259.4,194.6 C258.8,195.3 258.3,196 258.1,196.7 C257.9,197.3 258.1,198 258.4,198.7 C258.8,199.4 259.6,200.1 260.3,200.8 C260.9,201.5 261.9,202.2 262.5,202.9 C263.1,203.5 263.7,204.2 263.9,204.9 C264.1,205.6 263.9,206.3 263.6,207 C263.2,207.7 262.5,208.4 261.8,209.1 C261.1,209.7 260.1,210.4 259.5,211.1 C258.9,211.8 258.3,212.5 258.1,213.2 C257.9,213.9 258,214.6 258.4,215.3 C258.7,215.9 259.5,216.6 260.2,217.3 C260.9,218 261.8,218.7 262.5,219.4 C263.1,220.1 263.7,220.8 263.9,221.5 C264.1,222.1 264,222.8 263.6,223.5 C263.3,224.2 262.5,224.9 261.9,225.6 C261.2,226.3 260.2,227 259.6,227.7 C259,228.3 258.3,229 258.1,229.7 C257.9,230.4 258,231.1 258.3,231.8 C258.7,232.5 259.4,233.2 260.1,233.8 C260.8,234.5 261.8,235.2 262.4,235.9 C263,236.6 263.6,237.3 263.9,238 C264.1,238.7 264,239.4 263.7,240 C263.4,240.7 262.6,241.4 261.9,242.1 C261.3,242.8 260.3,243.5 259.7,244.2 C259,244.9 258.4,245.6 258.2,246.2 C257.9,246.9 258,247.6 258.3,248.3 C258.6,249 259.4,249.7 260,250.4 C260.7,251.1 261.7,251.8 262.3,252.4 C262.9,253.1 263.6,253.8 263.8,254.5 C264.1,255.2 264,255.9 263.7,256.6 C263.4,257.3 262.7,258 262,258.6 C261.3,259.3 260.4,260 259.7,260.7 C259.1,261.4 258.4,262.1 258.2,262.8 C257.9,263.5 258,264.2 258.3,264.8 C258.6,265.5 259.3,266.2 260,266.9 C260.6,267.6 261.6,268.3 262.2,269 C262.9,269.7 263.6,270.3 263.8,271 C264.1,271.7 264,272.4 263.7,273.1 C263.5,273.8 262.7,274.5 262.1,275.2 C261.4,275.9 260.4,276.5 259.8,277.2 C259.2,277.9 258.5,278.6 258.2,279.3 C258,280 258,280.7 258.2,281.4 C258.5,282.1 259.2,282.7 259.9,283.4 C260.5,284.1 261.5,284.8 262.2,285.5 C262.8,286.2 263.5,286.9 263.8,287.6 C264,288.3 264,288.9 263.8,289.6 C263.5,290.3 262.8,291 262.2,291.7 C261.5,292.4 260.5,293.1 259.9,293.8 C259.2,294.5 258.5,295.1 258.2,295.8 C258,296.5 258,297.2 258.2,297.9 C258.5,298.6 259.2,299.3 259.8,300 C260.4,300.7 261.4,301.3 262.1,302 C262.7,302.7 263.5,303.4 263.7,304.1 C264,304.8 264.1,305.5 263.8,306.2 C263.6,306.8 262.9,307.5 262.2,308.2 C261.6,308.9 260.6,309.6 260,310.3 C259.3,311 258.6,311.7 258.3,312.4 C258,313 257.9,313.7 258.2,314.4 C258.4,315.1 259.1,315.8 259.7,316.5 C260.4,317.2 261.3,317.9 262,318.6 C262.7,319.2 263.4,319.9 263.7,320.6 C264,321.3 264.1,322 263.8,322.7 C263.6,323.4 262.9,324.1 262.3,324.8 C261.7,325.4 260.7,326.1 260,326.8 C259.4,327.5 258.6,328.2 258.3,328.9 C258,329.6 257.9,330.3 258.2,331 C258.4,331.6 259,332.3 259.7,333 C260.3,333.7 261.3,334.4 261.9,335.1 C262.6,335.8 263.4,336.5 263.7,337.2 C264,337.8 264.1,338.5 263.9,339.2 C263.6,339.9 263,340.6 262.4,341.3 C261.8,342 260.8,342.7 260.1,343.3 C259.4,344 258.7,344.7 258.3,345.4 C258,346.1 257.9,346.8 258.1,347.5 C258.3,348.2 259,348.9 259.6,349.5 C260.2,350.2 261.2,350.9 261.9,351.6 C262.5,352.3 263.3,353 263.6,353.7 C264,354.4 264.1,355.1 263.9,355.7 C263.7,356.4 263.1,357.1 262.5,357.8 C261.8,358.5 260.9,359.2 260.2,359.9 C259.5,360.6 258.7,361.3 258.4,361.9 C258,362.6 257.9,363.3 258.1,364 C258.3,364.7 258.9,365.4 259.5,366.1 C260.1,366.8 261.1,367.5 261.8,368.1 C262.5,368.8 263.2,369.5 263.6,370.2 C263.9,370.9 264.1,371.6 263.9,372.3 C263.7,373 263.1,373.7 262.5,374.3 C261.9,375 260.9,375.7 260.3,376.4 C259.6,377.1 258.8,377.8 258.4,378.5 C258.1,379.2 257.9,379.8 258.1,380.5 C258.3,381.2 258.8,381.9 259.4,382.6 C260,383.3 261,384 261.7,384.7 C262.4,385.4 263.2,386 263.6,386.7 C263.9,387.4 264.1,388.1 263.9,388.8 C263.8,389.5 263.2,390.2 262.6,390.9 C262,391.6 261,392.2 260.3,392.9 C259.7,393.6 258.8,394.7 258.5,395" fill="none" stroke="#fff" stroke-width="2.69" stroke-linecap="round" stroke-linejoin="round" /><path d="M98.8,319.7 C98.3,319.9 96.3,320.3 96.1,321 C95.9,321.7 96.6,323.4 97.5,323.7 C98.4,324 100.6,322.7 101.5,323 C102.4,323.3 103,324.8 102.8,325.7 C102.6,326.6 101.2,327.9 100.1,328.4 C99,328.8 97.1,328.2 96.1,328.4 C95.1,328.6 94.2,328.8 94.1,329.7 C94,330.6 94.5,332.5 95.5,333.7 C96.5,334.9 98.2,336.1 100.1,337.1 C102,338.1 104.3,339 106.8,339.7 C109.2,340.4 112.8,341 114.8,341.1 C116.8,341.2 118.2,340.5 118.9,340.4" fill="none" stroke="#fff" stroke-width="2.18" stroke-linecap="round" stroke-linejoin="round" /><path d="M98.8,319.7 C99,319.8 98.5,320.3 100.1,320.4 C101.7,320.5 105.8,319.7 108.2,320.4 C110.7,321.1 112.8,322.8 114.8,324.4 C116.8,325.9 118.8,328.1 120.2,329.7 C121.6,331.2 122.2,333.4 122.9,333.7 C123.6,334 124,332 124.2,331.7" fill="none" stroke="#fff" stroke-width="2.18" stroke-linecap="round" stroke-linejoin="round" /><path d="M121.5,336.7 C121.2,337.2 119.8,338.2 119.5,339.5 C119.2,340.8 119.6,343 119.5,344.4 C119.4,345.8 119.9,346.8 118.9,347.8 C117.9,348.8 115.4,349.7 113.5,350.5 C111.6,351.3 109,351.7 107.5,352.5 C106,353.3 104.7,354.4 104.8,355.1 C104.9,355.8 106.3,356.1 108.2,356.5 C110.1,356.9 113.5,357.5 116.2,357.8 C118.9,358.1 121.8,358.1 124.2,358.5 C126.7,358.9 129.2,360.1 130.9,360.5 C132.6,360.9 133.3,360.5 134.2,361.2 C135.1,361.9 136.3,363.1 136.3,364.5 C136.3,365.9 135.1,368.6 134.2,369.8 C133.3,371 131.8,372 130.9,371.9 C130,371.8 129.4,370.3 128.9,369.2 C128.4,368.1 128,366.5 128.2,365.2 C128.4,363.9 130.4,362.2 130.2,361.2 C130,360.2 129.7,359.3 126.9,359.1 C124.1,358.9 117.3,359.5 113.5,359.8 C109.7,360.1 106.3,360.9 104.1,361.2 C101.9,361.5 100.8,361.7 100.1,361.8" fill="none" stroke="#fff" stroke-width="2.18" stroke-linecap="round" stroke-linejoin="round" /><circle cx="132.2" cy="365.5" r="1.3" fill="#fff"/><path d="M94.8,362.5 C93.5,361.3 89.5,357.1 86.8,355.1 C84.1,353.1 81.4,351.5 78.7,350.5 C76,349.5 72.8,349 70.7,349.1 C68.6,349.2 67,349.9 66,351.1 C65,352.3 64.4,354.7 64.7,356.5 C65,358.3 66.3,360 68,361.8 C69.7,363.6 72.2,365.9 74.7,367.2 C77.2,368.5 80.2,369.5 82.7,369.8 C85.2,370.1 87.6,369.6 89.4,369.2 C91.2,368.8 92.7,367.5 93.4,367.2" fill="none" stroke="#fff" stroke-width="2.18" stroke-linecap="round" stroke-linejoin="round" /><path d="M96.1,368.5 C95.4,369.2 94.1,370.9 92.1,372.5 C90.1,374.1 86.5,376.1 84.1,377.9 C81.6,379.7 79.2,381.2 77.4,383.2 C75.6,385.2 73.9,387.9 73.4,389.9 C73,391.9 73.6,394.2 74.7,395.3 C75.8,396.4 78.1,396.8 80.1,396.6 C82.1,396.4 84.8,395.7 86.8,393.9 C88.8,392.1 90.6,388.6 92.1,385.9 C93.5,383.2 94.7,380.3 95.5,377.9 C96.3,375.4 96.6,372.3 96.8,371.2" fill="none" stroke="#fff" stroke-width="2.18" stroke-linecap="round" stroke-linejoin="round" /><text x="95.5" y="364" font-family="Liberation Sans" font-size="4.5" fill="#fff">N</text><text x="92" y="367" font-family="Liberation Sans" font-size="4" fill="#fff">C</text><text x="100.5" y="365" font-family="Liberation Sans" font-size="4" fill="#fff">C</text><path d="M129.6,371.2 L125.6,375.2 L114.8,377.9 M125.6,375.2 L121.5,383.9" stroke="#1e9a22" stroke-width="1.2" fill="none"/><circle cx="114.8" cy="377.9" r="2.7" fill="#bff2fa" stroke="#3aba3a" stroke-width="0.8"/><circle cx="114.8" cy="377.9" r="0.9" fill="#d8a0b8"/><circle cx="121.5" cy="383.9" r="2.7" fill="#bff2fa" stroke="#3aba3a" stroke-width="0.8"/><circle cx="121.5" cy="383.9" r="0.9" fill="#d8a0b8"/><g transform="translate(279.5,0) scale(-1,1)"><path d="M98.8,319.7 C98.3,319.9 96.3,320.3 96.1,321 C95.9,321.7 96.6,323.4 97.5,323.7 C98.4,324 100.6,322.7 101.5,323 C102.4,323.3 103,324.8 102.8,325.7 C102.6,326.6 101.2,327.9 100.1,328.4 C99,328.8 97.1,328.2 96.1,328.4 C95.1,328.6 94.2,328.8 94.1,329.7 C94,330.6 94.5,332.5 95.5,333.7 C96.5,334.9 98.2,336.1 100.1,337.1 C102,338.1 104.3,339 106.8,339.7 C109.2,340.4 112.8,341 114.8,341.1 C116.8,341.2 118.2,340.5 118.9,340.4" fill="none" stroke="#fff" stroke-width="2.18" stroke-linecap="round" stroke-linejoin="round" /><path d="M98.8,319.7 C99,319.8 98.5,320.3 100.1,320.4 C101.7,320.5 105.8,319.7 108.2,320.4 C110.7,321.1 112.8,322.8 114.8,324.4 C116.8,325.9 118.8,328.1 120.2,329.7 C121.6,331.2 122.2,333.4 122.9,333.7 C123.6,334 124,332 124.2,331.7" fill="none" stroke="#fff" stroke-width="2.18" stroke-linecap="round" stroke-linejoin="round" /><path d="M121.5,336.7 C121.2,337.2 119.8,338.2 119.5,339.5 C119.2,340.8 119.6,343 119.5,344.4 C119.4,345.8 119.9,346.8 118.9,347.8 C117.9,348.8 115.4,349.7 113.5,350.5 C111.6,351.3 109,351.7 107.5,352.5 C106,353.3 104.7,354.4 104.8,355.1 C104.9,355.8 106.3,356.1 108.2,356.5 C110.1,356.9 113.5,357.5 116.2,357.8 C118.9,358.1 121.8,358.1 124.2,358.5 C126.7,358.9 129.2,360.1 130.9,360.5 C132.6,360.9 133.3,360.5 134.2,361.2 C135.1,361.9 136.3,363.1 136.3,364.5 C136.3,365.9 135.1,368.6 134.2,369.8 C133.3,371 131.8,372 130.9,371.9 C130,371.8 129.4,370.3 128.9,369.2 C128.4,368.1 128,366.5 128.2,365.2 C128.4,363.9 130.4,362.2 130.2,361.2 C130,360.2 129.7,359.3 126.9,359.1 C124.1,358.9 117.3,359.5 113.5,359.8 C109.7,360.1 106.3,360.9 104.1,361.2 C101.9,361.5 100.8,361.7 100.1,361.8" fill="none" stroke="#fff" stroke-width="2.18" stroke-linecap="round" stroke-linejoin="round" /><circle cx="132.2" cy="365.5" r="1.3" fill="#fff"/><path d="M94.8,362.5 C93.5,361.3 89.5,357.1 86.8,355.1 C84.1,353.1 81.4,351.5 78.7,350.5 C76,349.5 72.8,349 70.7,349.1 C68.6,349.2 67,349.9 66,351.1 C65,352.3 64.4,354.7 64.7,356.5 C65,358.3 66.3,360 68,361.8 C69.7,363.6 72.2,365.9 74.7,367.2 C77.2,368.5 80.2,369.5 82.7,369.8 C85.2,370.1 87.6,369.6 89.4,369.2 C91.2,368.8 92.7,367.5 93.4,367.2" fill="none" stroke="#fff" stroke-width="2.18" stroke-linecap="round" stroke-linejoin="round" /><path d="M96.1,368.5 C95.4,369.2 94.1,370.9 92.1,372.5 C90.1,374.1 86.5,376.1 84.1,377.9 C81.6,379.7 79.2,381.2 77.4,383.2 C75.6,385.2 73.9,387.9 73.4,389.9 C73,391.9 73.6,394.2 74.7,395.3 C75.8,396.4 78.1,396.8 80.1,396.6 C82.1,396.4 84.8,395.7 86.8,393.9 C88.8,392.1 90.6,388.6 92.1,385.9 C93.5,383.2 94.7,380.3 95.5,377.9 C96.3,375.4 96.6,372.3 96.8,371.2" fill="none" stroke="#fff" stroke-width="2.18" stroke-linecap="round" stroke-linejoin="round" /><path d="M129.6,371.2 L125.6,375.2 L114.8,377.9 M125.6,375.2 L121.5,383.9" stroke="#1e9a22" stroke-width="1.2" fill="none"/><circle cx="114.8" cy="377.9" r="2.7" fill="#bff2fa" stroke="#3aba3a" stroke-width="0.8"/><circle cx="114.8" cy="377.9" r="0.9" fill="#d8a0b8"/><circle cx="121.5" cy="383.9" r="2.7" fill="#bff2fa" stroke="#3aba3a" stroke-width="0.8"/><circle cx="121.5" cy="383.9" r="0.9" fill="#d8a0b8"/></g><g transform="translate(223.2,358) scale(0.85,1) translate(-97.9,-361.8)"><path d="M98.8,319.7 C98.3,319.9 96.3,320.3 96.1,321 C95.9,321.7 96.6,323.4 97.5,323.7 C98.4,324 100.6,322.7 101.5,323 C102.4,323.3 103,324.8 102.8,325.7 C102.6,326.6 101.2,327.9 100.1,328.4 C99,328.8 97.1,328.2 96.1,328.4 C95.1,328.6 94.2,328.8 94.1,329.7 C94,330.6 94.5,332.5 95.5,333.7 C96.5,334.9 98.2,336.1 100.1,337.1 C102,338.1 104.3,339 106.8,339.7 C109.2,340.4 112.8,341 114.8,341.1 C116.8,341.2 118.2,340.5 118.9,340.4" fill="none" stroke="#fff" stroke-width="2.18" stroke-linecap="round" stroke-linejoin="round" /><path d="M98.8,319.7 C99,319.8 98.5,320.3 100.1,320.4 C101.7,320.5 105.8,319.7 108.2,320.4 C110.7,321.1 112.8,322.8 114.8,324.4 C116.8,325.9 118.8,328.1 120.2,329.7 C121.6,331.2 122.2,333.4 122.9,333.7 C123.6,334 124,332 124.2,331.7" fill="none" stroke="#fff" stroke-width="2.18" stroke-linecap="round" stroke-linejoin="round" /><path d="M121.5,336.7 C121.2,337.2 119.8,338.2 119.5,339.5 C119.2,340.8 119.6,343 119.5,344.4 C119.4,345.8 119.9,346.8 118.9,347.8 C117.9,348.8 115.4,349.7 113.5,350.5 C111.6,351.3 109,351.7 107.5,352.5 C106,353.3 104.7,354.4 104.8,355.1 C104.9,355.8 106.3,356.1 108.2,356.5 C110.1,356.9 113.5,357.5 116.2,357.8 C118.9,358.1 121.8,358.1 124.2,358.5 C126.7,358.9 129.2,360.1 130.9,360.5 C132.6,360.9 133.3,360.5 134.2,361.2 C135.1,361.9 136.3,363.1 136.3,364.5 C136.3,365.9 135.1,368.6 134.2,369.8 C133.3,371 131.8,372 130.9,371.9 C130,371.8 129.4,370.3 128.9,369.2 C128.4,368.1 128,366.5 128.2,365.2 C128.4,363.9 130.4,362.2 130.2,361.2 C130,360.2 129.7,359.3 126.9,359.1 C124.1,358.9 117.3,359.5 113.5,359.8 C109.7,360.1 106.3,360.9 104.1,361.2 C101.9,361.5 100.8,361.7 100.1,361.8" fill="none" stroke="#fff" stroke-width="2.18" stroke-linecap="round" stroke-linejoin="round" /><circle cx="132.2" cy="365.5" r="1.3" fill="#fff"/><path d="M94.8,362.5 C93.5,361.3 89.5,357.1 86.8,355.1 C84.1,353.1 81.4,351.5 78.7,350.5 C76,349.5 72.8,349 70.7,349.1 C68.6,349.2 67,349.9 66,351.1 C65,352.3 64.4,354.7 64.7,356.5 C65,358.3 66.3,360 68,361.8 C69.7,363.6 72.2,365.9 74.7,367.2 C77.2,368.5 80.2,369.5 82.7,369.8 C85.2,370.1 87.6,369.6 89.4,369.2 C91.2,368.8 92.7,367.5 93.4,367.2" fill="none" stroke="#fff" stroke-width="2.18" stroke-linecap="round" stroke-linejoin="round" /><path d="M96.1,368.5 C95.4,369.2 94.1,370.9 92.1,372.5 C90.1,374.1 86.5,376.1 84.1,377.9 C81.6,379.7 79.2,381.2 77.4,383.2 C75.6,385.2 73.9,387.9 73.4,389.9 C73,391.9 73.6,394.2 74.7,395.3 C75.8,396.4 78.1,396.8 80.1,396.6 C82.1,396.4 84.8,395.7 86.8,393.9 C88.8,392.1 90.6,388.6 92.1,385.9 C93.5,383.2 94.7,380.3 95.5,377.9 C96.3,375.4 96.6,372.3 96.8,371.2" fill="none" stroke="#fff" stroke-width="2.18" stroke-linecap="round" stroke-linejoin="round" /></g><defs><linearGradient id="wg1" gradientUnits="userSpaceOnUse" x1="178" y1="412" x2="258" y2="373"><stop offset="0" stop-color="#222"/><stop offset="0.6" stop-color="#aaa"/><stop offset="1" stop-color="#eee"/></linearGradient>
<linearGradient id="wg2" gradientUnits="userSpaceOnUse" x1="227" y1="367" x2="258" y2="372"><stop offset="0" stop-color="#fff"/><stop offset="1" stop-color="#666"/></linearGradient></defs><polygon points="175.5,409 181,416.5 258.5,373.3" fill="url(#wg1)"/><polygon points="226.5,364.5 227,369.5 258,372.5" fill="url(#wg2)"/><path d="M226,364 C226.3,365.6 228.1,370.2 228,373.5 C227.9,376.8 225.3,381.1 225.4,384 C225.5,386.9 228.7,388.2 228.7,390.6 C228.7,393 225.5,395.6 225.4,398.5 C225.3,401.4 227.6,406.2 228,407.8" fill="none" stroke="#fff" stroke-width="2.56" stroke-linecap="round" stroke-linejoin="round" /></g>
<path d="M256,182.8 L253,178.6 L243.4,178.6 M256,182.8 L253,186.9 L248.2,186.9" stroke="#22c020" stroke-width="1.2" fill="none"/><circle cx="256" cy="182.8" r="2.05" fill="#e8a0b4" stroke="#3cc834" stroke-width="0.75"/><circle cx="253" cy="178.6" r="2.05" fill="#e8a0b4" stroke="#3cc834" stroke-width="0.75"/><circle cx="248.2" cy="178.6" r="2.05" fill="#aee8f0" stroke="#3cc834" stroke-width="0.75"/><circle cx="243.4" cy="178.6" r="2.05" fill="#eef048" stroke="#3cc834" stroke-width="0.75"/><circle cx="253" cy="186.9" r="2.05" fill="#aee8f0" stroke="#3cc834" stroke-width="0.75"/><circle cx="248.2" cy="186.9" r="2.05" fill="#eef048" stroke="#3cc834" stroke-width="0.75"/>
<path d="M256,199.6 L253,195.4 L243.4,195.4 M256,199.6 L253,203.8 L248.2,203.8" stroke="#22c020" stroke-width="1.2" fill="none"/><circle cx="256" cy="199.6" r="2.05" fill="#e8a0b4" stroke="#3cc834" stroke-width="0.75"/><circle cx="253" cy="195.4" r="2.05" fill="#e8a0b4" stroke="#3cc834" stroke-width="0.75"/><circle cx="248.2" cy="195.4" r="2.05" fill="#aee8f0" stroke="#3cc834" stroke-width="0.75"/><circle cx="243.4" cy="195.4" r="2.05" fill="#eef048" stroke="#3cc834" stroke-width="0.75"/><circle cx="253" cy="203.8" r="2.05" fill="#aee8f0" stroke="#3cc834" stroke-width="0.75"/><circle cx="248.2" cy="203.8" r="2.05" fill="#eef048" stroke="#3cc834" stroke-width="0.75"/>
<path d="M256,216.5 L253,212.3 L243.4,212.3 M256,216.5 L253,220.7 L248.2,220.7" stroke="#22c020" stroke-width="1.2" fill="none"/><circle cx="256" cy="216.5" r="2.05" fill="#e8a0b4" stroke="#3cc834" stroke-width="0.75"/><circle cx="253" cy="212.3" r="2.05" fill="#e8a0b4" stroke="#3cc834" stroke-width="0.75"/><circle cx="248.2" cy="212.3" r="2.05" fill="#aee8f0" stroke="#3cc834" stroke-width="0.75"/><circle cx="243.4" cy="212.3" r="2.05" fill="#eef048" stroke="#3cc834" stroke-width="0.75"/><circle cx="253" cy="220.7" r="2.05" fill="#aee8f0" stroke="#3cc834" stroke-width="0.75"/><circle cx="248.2" cy="220.7" r="2.05" fill="#eef048" stroke="#3cc834" stroke-width="0.75"/>
<path d="M256,232.4 L253,228.2 L243.4,228.2 M256,232.4 L253,236.6 L248.2,236.6" stroke="#22c020" stroke-width="1.2" fill="none"/><circle cx="256" cy="232.4" r="2.05" fill="#e8a0b4" stroke="#3cc834" stroke-width="0.75"/><circle cx="253" cy="228.2" r="2.05" fill="#e8a0b4" stroke="#3cc834" stroke-width="0.75"/><circle cx="248.2" cy="228.2" r="2.05" fill="#aee8f0" stroke="#3cc834" stroke-width="0.75"/><circle cx="243.4" cy="228.2" r="2.05" fill="#eef048" stroke="#3cc834" stroke-width="0.75"/><circle cx="253" cy="236.6" r="2.05" fill="#aee8f0" stroke="#3cc834" stroke-width="0.75"/><circle cx="248.2" cy="236.6" r="2.05" fill="#eef048" stroke="#3cc834" stroke-width="0.75"/>
<path d="M256,247.3 L253,243.1 L243.4,243.1 M256,247.3 L253,251.5 L248.2,251.5" stroke="#22c020" stroke-width="1.2" fill="none"/><circle cx="256" cy="247.3" r="2.05" fill="#e8a0b4" stroke="#3cc834" stroke-width="0.75"/><circle cx="253" cy="243.1" r="2.05" fill="#e8a0b4" stroke="#3cc834" stroke-width="0.75"/><circle cx="248.2" cy="243.1" r="2.05" fill="#aee8f0" stroke="#3cc834" stroke-width="0.75"/><circle cx="243.4" cy="243.1" r="2.05" fill="#eef048" stroke="#3cc834" stroke-width="0.75"/><circle cx="253" cy="251.5" r="2.05" fill="#aee8f0" stroke="#3cc834" stroke-width="0.75"/><circle cx="248.2" cy="251.5" r="2.05" fill="#eef048" stroke="#3cc834" stroke-width="0.75"/>
<path d="M256,264.2 L253,260 L243.4,260 M256,264.2 L253,268.4 L248.2,268.4" stroke="#22c020" stroke-width="1.2" fill="none"/><circle cx="256" cy="264.2" r="2.05" fill="#e8a0b4" stroke="#3cc834" stroke-width="0.75"/><circle cx="253" cy="260" r="2.05" fill="#e8a0b4" stroke="#3cc834" stroke-width="0.75"/><circle cx="248.2" cy="260" r="2.05" fill="#aee8f0" stroke="#3cc834" stroke-width="0.75"/><circle cx="243.4" cy="260" r="2.05" fill="#eef048" stroke="#3cc834" stroke-width="0.75"/><circle cx="253" cy="268.4" r="2.05" fill="#aee8f0" stroke="#3cc834" stroke-width="0.75"/><circle cx="248.2" cy="268.4" r="2.05" fill="#eef048" stroke="#3cc834" stroke-width="0.75"/>
<path d="M256,281.9 L253,277.7 L243.4,277.7 M256,281.9 L253,286.1 L248.2,286.1" stroke="#22c020" stroke-width="1.2" fill="none"/><circle cx="256" cy="281.9" r="2.05" fill="#e8a0b4" stroke="#3cc834" stroke-width="0.75"/><circle cx="253" cy="277.7" r="2.05" fill="#e8a0b4" stroke="#3cc834" stroke-width="0.75"/><circle cx="248.2" cy="277.7" r="2.05" fill="#aee8f0" stroke="#3cc834" stroke-width="0.75"/><circle cx="243.4" cy="277.7" r="2.05" fill="#eef048" stroke="#3cc834" stroke-width="0.75"/><circle cx="253" cy="286.1" r="2.05" fill="#aee8f0" stroke="#3cc834" stroke-width="0.75"/><circle cx="248.2" cy="286.1" r="2.05" fill="#eef048" stroke="#3cc834" stroke-width="0.75"/>
<path d="M256,297.5 L253,293.3 L243.4,293.3 M256,297.5 L253,301.7 L248.2,301.7" stroke="#22c020" stroke-width="1.2" fill="none"/><circle cx="256" cy="297.5" r="2.05" fill="#e8a0b4" stroke="#3cc834" stroke-width="0.75"/><circle cx="253" cy="293.3" r="2.05" fill="#e8a0b4" stroke="#3cc834" stroke-width="0.75"/><circle cx="248.2" cy="293.3" r="2.05" fill="#aee8f0" stroke="#3cc834" stroke-width="0.75"/><circle cx="243.4" cy="293.3" r="2.05" fill="#eef048" stroke="#3cc834" stroke-width="0.75"/><circle cx="253" cy="301.7" r="2.05" fill="#aee8f0" stroke="#3cc834" stroke-width="0.75"/><circle cx="248.2" cy="301.7" r="2.05" fill="#eef048" stroke="#3cc834" stroke-width="0.75"/>
<path d="M256,316.6 L253,312.4 L243.4,312.4 M256,316.6 L253,320.8 L248.2,320.8" stroke="#22c020" stroke-width="1.2" fill="none"/><circle cx="256" cy="316.6" r="2.05" fill="#e8a0b4" stroke="#3cc834" stroke-width="0.75"/><circle cx="253" cy="312.4" r="2.05" fill="#e8a0b4" stroke="#3cc834" stroke-width="0.75"/><circle cx="248.2" cy="312.4" r="2.05" fill="#aee8f0" stroke="#3cc834" stroke-width="0.75"/><circle cx="243.4" cy="312.4" r="2.05" fill="#eef048" stroke="#3cc834" stroke-width="0.75"/><circle cx="253" cy="320.8" r="2.05" fill="#aee8f0" stroke="#3cc834" stroke-width="0.75"/><circle cx="248.2" cy="320.8" r="2.05" fill="#eef048" stroke="#3cc834" stroke-width="0.75"/>
<path d="M267,187.9 L270,183.7 L279.6,183.7 M267,187.9 L270,192.1 L274.8,192.1" stroke="#22c020" stroke-width="1.2" fill="none"/><circle cx="267" cy="187.9" r="2.05" fill="#e8a0b4" stroke="#3cc834" stroke-width="0.75"/><circle cx="270" cy="183.7" r="2.05" fill="#e8a0b4" stroke="#3cc834" stroke-width="0.75"/><circle cx="274.8" cy="183.7" r="2.05" fill="#aee8f0" stroke="#3cc834" stroke-width="0.75"/><circle cx="279.6" cy="183.7" r="2.05" fill="#eef048" stroke="#3cc834" stroke-width="0.75"/><circle cx="270" cy="192.1" r="2.05" fill="#aee8f0" stroke="#3cc834" stroke-width="0.75"/><circle cx="274.8" cy="192.1" r="2.05" fill="#eef048" stroke="#3cc834" stroke-width="0.75"/>
<path d="M267,204.5 L270,200.3 L279.6,200.3 M267,204.5 L270,208.7 L274.8,208.7" stroke="#22c020" stroke-width="1.2" fill="none"/><circle cx="267" cy="204.5" r="2.05" fill="#e8a0b4" stroke="#3cc834" stroke-width="0.75"/><circle cx="270" cy="200.3" r="2.05" fill="#e8a0b4" stroke="#3cc834" stroke-width="0.75"/><circle cx="274.8" cy="200.3" r="2.05" fill="#aee8f0" stroke="#3cc834" stroke-width="0.75"/><circle cx="279.6" cy="200.3" r="2.05" fill="#eef048" stroke="#3cc834" stroke-width="0.75"/><circle cx="270" cy="208.7" r="2.05" fill="#aee8f0" stroke="#3cc834" stroke-width="0.75"/><circle cx="274.8" cy="208.7" r="2.05" fill="#eef048" stroke="#3cc834" stroke-width="0.75"/>
<path d="M267,221.7 L270,217.5 L279.6,217.5 M267,221.7 L270,225.9 L274.8,225.9" stroke="#22c020" stroke-width="1.2" fill="none"/><circle cx="267" cy="221.7" r="2.05" fill="#e8a0b4" stroke="#3cc834" stroke-width="0.75"/><circle cx="270" cy="217.5" r="2.05" fill="#e8a0b4" stroke="#3cc834" stroke-width="0.75"/><circle cx="274.8" cy="217.5" r="2.05" fill="#aee8f0" stroke="#3cc834" stroke-width="0.75"/><circle cx="279.6" cy="217.5" r="2.05" fill="#eef048" stroke="#3cc834" stroke-width="0.75"/><circle cx="270" cy="225.9" r="2.05" fill="#aee8f0" stroke="#3cc834" stroke-width="0.75"/><circle cx="274.8" cy="225.9" r="2.05" fill="#eef048" stroke="#3cc834" stroke-width="0.75"/>
<path d="M267,238 L270,233.8 L279.6,233.8 M267,238 L270,242.2 L274.8,242.2" stroke="#22c020" stroke-width="1.2" fill="none"/><circle cx="267" cy="238" r="2.05" fill="#e8a0b4" stroke="#3cc834" stroke-width="0.75"/><circle cx="270" cy="233.8" r="2.05" fill="#e8a0b4" stroke="#3cc834" stroke-width="0.75"/><circle cx="274.8" cy="233.8" r="2.05" fill="#aee8f0" stroke="#3cc834" stroke-width="0.75"/><circle cx="279.6" cy="233.8" r="2.05" fill="#eef048" stroke="#3cc834" stroke-width="0.75"/><circle cx="270" cy="242.2" r="2.05" fill="#aee8f0" stroke="#3cc834" stroke-width="0.75"/><circle cx="274.8" cy="242.2" r="2.05" fill="#eef048" stroke="#3cc834" stroke-width="0.75"/>
<path d="M267,252.5 L270,248.3 L279.6,248.3 M267,252.5 L270,256.7 L274.8,256.7" stroke="#22c020" stroke-width="1.2" fill="none"/><circle cx="267" cy="252.5" r="2.05" fill="#e8a0b4" stroke="#3cc834" stroke-width="0.75"/><circle cx="270" cy="248.3" r="2.05" fill="#e8a0b4" stroke="#3cc834" stroke-width="0.75"/><circle cx="274.8" cy="248.3" r="2.05" fill="#aee8f0" stroke="#3cc834" stroke-width="0.75"/><circle cx="279.6" cy="248.3" r="2.05" fill="#eef048" stroke="#3cc834" stroke-width="0.75"/><circle cx="270" cy="256.7" r="2.05" fill="#aee8f0" stroke="#3cc834" stroke-width="0.75"/><circle cx="274.8" cy="256.7" r="2.05" fill="#eef048" stroke="#3cc834" stroke-width="0.75"/>
<path d="M267,269.2 L270,265 L279.6,265 M267,269.2 L270,273.4 L274.8,273.4" stroke="#22c020" stroke-width="1.2" fill="none"/><circle cx="267" cy="269.2" r="2.05" fill="#e8a0b4" stroke="#3cc834" stroke-width="0.75"/><circle cx="270" cy="265" r="2.05" fill="#e8a0b4" stroke="#3cc834" stroke-width="0.75"/><circle cx="274.8" cy="265" r="2.05" fill="#aee8f0" stroke="#3cc834" stroke-width="0.75"/><circle cx="279.6" cy="265" r="2.05" fill="#eef048" stroke="#3cc834" stroke-width="0.75"/><circle cx="270" cy="273.4" r="2.05" fill="#aee8f0" stroke="#3cc834" stroke-width="0.75"/><circle cx="274.8" cy="273.4" r="2.05" fill="#eef048" stroke="#3cc834" stroke-width="0.75"/>
<path d="M267,286.9 L270,282.7 L279.6,282.7 M267,286.9 L270,291.1 L274.8,291.1" stroke="#22c020" stroke-width="1.2" fill="none"/><circle cx="267" cy="286.9" r="2.05" fill="#e8a0b4" stroke="#3cc834" stroke-width="0.75"/><circle cx="270" cy="282.7" r="2.05" fill="#e8a0b4" stroke="#3cc834" stroke-width="0.75"/><circle cx="274.8" cy="282.7" r="2.05" fill="#aee8f0" stroke="#3cc834" stroke-width="0.75"/><circle cx="279.6" cy="282.7" r="2.05" fill="#eef048" stroke="#3cc834" stroke-width="0.75"/><circle cx="270" cy="291.1" r="2.05" fill="#aee8f0" stroke="#3cc834" stroke-width="0.75"/><circle cx="274.8" cy="291.1" r="2.05" fill="#eef048" stroke="#3cc834" stroke-width="0.75"/>
<path d="M267,302.5 L270,298.3 L279.6,298.3 M267,302.5 L270,306.7 L274.8,306.7" stroke="#22c020" stroke-width="1.2" fill="none"/><circle cx="267" cy="302.5" r="2.05" fill="#e8a0b4" stroke="#3cc834" stroke-width="0.75"/><circle cx="270" cy="298.3" r="2.05" fill="#e8a0b4" stroke="#3cc834" stroke-width="0.75"/><circle cx="274.8" cy="298.3" r="2.05" fill="#aee8f0" stroke="#3cc834" stroke-width="0.75"/><circle cx="279.6" cy="298.3" r="2.05" fill="#eef048" stroke="#3cc834" stroke-width="0.75"/><circle cx="270" cy="306.7" r="2.05" fill="#aee8f0" stroke="#3cc834" stroke-width="0.75"/><circle cx="274.8" cy="306.7" r="2.05" fill="#eef048" stroke="#3cc834" stroke-width="0.75"/>
<path d="M267,321.6 L270,317.4 L279.6,317.4 M267,321.6 L270,325.8 L274.8,325.8" stroke="#22c020" stroke-width="1.2" fill="none"/><circle cx="267" cy="321.6" r="2.05" fill="#e8a0b4" stroke="#3cc834" stroke-width="0.75"/><circle cx="270" cy="317.4" r="2.05" fill="#e8a0b4" stroke="#3cc834" stroke-width="0.75"/><circle cx="274.8" cy="317.4" r="2.05" fill="#aee8f0" stroke="#3cc834" stroke-width="0.75"/><circle cx="279.6" cy="317.4" r="2.05" fill="#eef048" stroke="#3cc834" stroke-width="0.75"/><circle cx="270" cy="325.8" r="2.05" fill="#aee8f0" stroke="#3cc834" stroke-width="0.75"/><circle cx="274.8" cy="325.8" r="2.05" fill="#eef048" stroke="#3cc834" stroke-width="0.75"/>
<path d="M444.5,186.4 L441.5,182.2 L431.9,182.2 M444.5,186.4 L441.5,190.6 L436.7,190.6" stroke="#22c020" stroke-width="1.2" fill="none"/><circle cx="444.5" cy="186.4" r="2.05" fill="#e8a0b4" stroke="#3cc834" stroke-width="0.75"/><circle cx="441.5" cy="182.2" r="2.05" fill="#e8a0b4" stroke="#3cc834" stroke-width="0.75"/><circle cx="436.7" cy="182.2" r="2.05" fill="#aee8f0" stroke="#3cc834" stroke-width="0.75"/><circle cx="431.9" cy="182.2" r="2.05" fill="#eef048" stroke="#3cc834" stroke-width="0.75"/><circle cx="441.5" cy="190.6" r="2.05" fill="#aee8f0" stroke="#3cc834" stroke-width="0.75"/><circle cx="436.7" cy="190.6" r="2.05" fill="#eef048" stroke="#3cc834" stroke-width="0.75"/>
<path d="M444.5,203 L441.5,198.8 L431.9,198.8 M444.5,203 L441.5,207.2 L436.7,207.2" stroke="#22c020" stroke-width="1.2" fill="none"/><circle cx="444.5" cy="203" r="2.05" fill="#e8a0b4" stroke="#3cc834" stroke-width="0.75"/><circle cx="441.5" cy="198.8" r="2.05" fill="#e8a0b4" stroke="#3cc834" stroke-width="0.75"/><circle cx="436.7" cy="198.8" r="2.05" fill="#aee8f0" stroke="#3cc834" stroke-width="0.75"/><circle cx="431.9" cy="198.8" r="2.05" fill="#eef048" stroke="#3cc834" stroke-width="0.75"/><circle cx="441.5" cy="207.2" r="2.05" fill="#aee8f0" stroke="#3cc834" stroke-width="0.75"/><circle cx="436.7" cy="207.2" r="2.05" fill="#eef048" stroke="#3cc834" stroke-width="0.75"/>
<path d="M444.5,219.9 L441.5,215.7 L431.9,215.7 M444.5,219.9 L441.5,224.1 L436.7,224.1" stroke="#22c020" stroke-width="1.2" fill="none"/><circle cx="444.5" cy="219.9" r="2.05" fill="#e8a0b4" stroke="#3cc834" stroke-width="0.75"/><circle cx="441.5" cy="215.7" r="2.05" fill="#e8a0b4" stroke="#3cc834" stroke-width="0.75"/><circle cx="436.7" cy="215.7" r="2.05" fill="#aee8f0" stroke="#3cc834" stroke-width="0.75"/><circle cx="431.9" cy="215.7" r="2.05" fill="#eef048" stroke="#3cc834" stroke-width="0.75"/><circle cx="441.5" cy="224.1" r="2.05" fill="#aee8f0" stroke="#3cc834" stroke-width="0.75"/><circle cx="436.7" cy="224.1" r="2.05" fill="#eef048" stroke="#3cc834" stroke-width="0.75"/>
<path d="M444.5,236.8 L441.5,232.6 L431.9,232.6 M444.5,236.8 L441.5,241 L436.7,241" stroke="#22c020" stroke-width="1.2" fill="none"/><circle cx="444.5" cy="236.8" r="2.05" fill="#e8a0b4" stroke="#3cc834" stroke-width="0.75"/><circle cx="441.5" cy="232.6" r="2.05" fill="#e8a0b4" stroke="#3cc834" stroke-width="0.75"/><circle cx="436.7" cy="232.6" r="2.05" fill="#aee8f0" stroke="#3cc834" stroke-width="0.75"/><circle cx="431.9" cy="232.6" r="2.05" fill="#eef048" stroke="#3cc834" stroke-width="0.75"/><circle cx="441.5" cy="241" r="2.05" fill="#aee8f0" stroke="#3cc834" stroke-width="0.75"/><circle cx="436.7" cy="241" r="2.05" fill="#eef048" stroke="#3cc834" stroke-width="0.75"/>
<path d="M444.5,251.8 L441.5,247.6 L431.9,247.6 M444.5,251.8 L441.5,256 L436.7,256" stroke="#22c020" stroke-width="1.2" fill="none"/><circle cx="444.5" cy="251.8" r="2.05" fill="#e8a0b4" stroke="#3cc834" stroke-width="0.75"/><circle cx="441.5" cy="247.6" r="2.05" fill="#e8a0b4" stroke="#3cc834" stroke-width="0.75"/><circle cx="436.7" cy="247.6" r="2.05" fill="#aee8f0" stroke="#3cc834" stroke-width="0.75"/><circle cx="431.9" cy="247.6" r="2.05" fill="#eef048" stroke="#3cc834" stroke-width="0.75"/><circle cx="441.5" cy="256" r="2.05" fill="#aee8f0" stroke="#3cc834" stroke-width="0.75"/><circle cx="436.7" cy="256" r="2.05" fill="#eef048" stroke="#3cc834" stroke-width="0.75"/>
<path d="M444.5,268.9 L441.5,264.7 L431.9,264.7 M444.5,268.9 L441.5,273.1 L436.7,273.1" stroke="#22c020" stroke-width="1.2" fill="none"/><circle cx="444.5" cy="268.9" r="2.05" fill="#e8a0b4" stroke="#3cc834" stroke-width="0.75"/><circle cx="441.5" cy="264.7" r="2.05" fill="#e8a0b4" stroke="#3cc834" stroke-width="0.75"/><circle cx="436.7" cy="264.7" r="2.05" fill="#aee8f0" stroke="#3cc834" stroke-width="0.75"/><circle cx="431.9" cy="264.7" r="2.05" fill="#eef048" stroke="#3cc834" stroke-width="0.75"/><circle cx="441.5" cy="273.1" r="2.05" fill="#aee8f0" stroke="#3cc834" stroke-width="0.75"/><circle cx="436.7" cy="273.1" r="2.05" fill="#eef048" stroke="#3cc834" stroke-width="0.75"/>
<path d="M444.5,286.9 L441.5,282.7 L431.9,282.7 M444.5,286.9 L441.5,291.1 L436.7,291.1" stroke="#22c020" stroke-width="1.2" fill="none"/><circle cx="444.5" cy="286.9" r="2.05" fill="#e8a0b4" stroke="#3cc834" stroke-width="0.75"/><circle cx="441.5" cy="282.7" r="2.05" fill="#e8a0b4" stroke="#3cc834" stroke-width="0.75"/><circle cx="436.7" cy="282.7" r="2.05" fill="#aee8f0" stroke="#3cc834" stroke-width="0.75"/><circle cx="431.9" cy="282.7" r="2.05" fill="#eef048" stroke="#3cc834" stroke-width="0.75"/><circle cx="441.5" cy="291.1" r="2.05" fill="#aee8f0" stroke="#3cc834" stroke-width="0.75"/><circle cx="436.7" cy="291.1" r="2.05" fill="#eef048" stroke="#3cc834" stroke-width="0.75"/>
<path d="M444.5,301.8 L441.5,297.6 L431.9,297.6 M444.5,301.8 L441.5,306 L436.7,306" stroke="#22c020" stroke-width="1.2" fill="none"/><circle cx="444.5" cy="301.8" r="2.05" fill="#e8a0b4" stroke="#3cc834" stroke-width="0.75"/><circle cx="441.5" cy="297.6" r="2.05" fill="#e8a0b4" stroke="#3cc834" stroke-width="0.75"/><circle cx="436.7" cy="297.6" r="2.05" fill="#aee8f0" stroke="#3cc834" stroke-width="0.75"/><circle cx="431.9" cy="297.6" r="2.05" fill="#eef048" stroke="#3cc834" stroke-width="0.75"/><circle cx="441.5" cy="306" r="2.05" fill="#aee8f0" stroke="#3cc834" stroke-width="0.75"/><circle cx="436.7" cy="306" r="2.05" fill="#eef048" stroke="#3cc834" stroke-width="0.75"/>
<path d="M444.5,320.9 L441.5,316.7 L431.9,316.7 M444.5,320.9 L441.5,325.1 L436.7,325.1" stroke="#22c020" stroke-width="1.2" fill="none"/><circle cx="444.5" cy="320.9" r="2.05" fill="#e8a0b4" stroke="#3cc834" stroke-width="0.75"/><circle cx="441.5" cy="316.7" r="2.05" fill="#e8a0b4" stroke="#3cc834" stroke-width="0.75"/><circle cx="436.7" cy="316.7" r="2.05" fill="#aee8f0" stroke="#3cc834" stroke-width="0.75"/><circle cx="431.9" cy="316.7" r="2.05" fill="#eef048" stroke="#3cc834" stroke-width="0.75"/><circle cx="441.5" cy="325.1" r="2.05" fill="#aee8f0" stroke="#3cc834" stroke-width="0.75"/><circle cx="436.7" cy="325.1" r="2.05" fill="#eef048" stroke="#3cc834" stroke-width="0.75"/>
<path d="M456.5,192.3 L459.5,188.1 L469.1,188.1 M456.5,192.3 L459.5,196.5 L464.3,196.5" stroke="#22c020" stroke-width="1.2" fill="none"/><circle cx="456.5" cy="192.3" r="2.05" fill="#e8a0b4" stroke="#3cc834" stroke-width="0.75"/><circle cx="459.5" cy="188.1" r="2.05" fill="#e8a0b4" stroke="#3cc834" stroke-width="0.75"/><circle cx="464.3" cy="188.1" r="2.05" fill="#aee8f0" stroke="#3cc834" stroke-width="0.75"/><circle cx="469.1" cy="188.1" r="2.05" fill="#eef048" stroke="#3cc834" stroke-width="0.75"/><circle cx="459.5" cy="196.5" r="2.05" fill="#aee8f0" stroke="#3cc834" stroke-width="0.75"/><circle cx="464.3" cy="196.5" r="2.05" fill="#eef048" stroke="#3cc834" stroke-width="0.75"/>
<path d="M456.5,209.2 L459.5,205 L469.1,205 M456.5,209.2 L459.5,213.4 L464.3,213.4" stroke="#22c020" stroke-width="1.2" fill="none"/><circle cx="456.5" cy="209.2" r="2.05" fill="#e8a0b4" stroke="#3cc834" stroke-width="0.75"/><circle cx="459.5" cy="205" r="2.05" fill="#e8a0b4" stroke="#3cc834" stroke-width="0.75"/><circle cx="464.3" cy="205" r="2.05" fill="#aee8f0" stroke="#3cc834" stroke-width="0.75"/><circle cx="469.1" cy="205" r="2.05" fill="#eef048" stroke="#3cc834" stroke-width="0.75"/><circle cx="459.5" cy="213.4" r="2.05" fill="#aee8f0" stroke="#3cc834" stroke-width="0.75"/><circle cx="464.3" cy="213.4" r="2.05" fill="#eef048" stroke="#3cc834" stroke-width="0.75"/>
<path d="M456.5,225.8 L459.5,221.6 L469.1,221.6 M456.5,225.8 L459.5,230 L464.3,230" stroke="#22c020" stroke-width="1.2" fill="none"/><circle cx="456.5" cy="225.8" r="2.05" fill="#e8a0b4" stroke="#3cc834" stroke-width="0.75"/><circle cx="459.5" cy="221.6" r="2.05" fill="#e8a0b4" stroke="#3cc834" stroke-width="0.75"/><circle cx="464.3" cy="221.6" r="2.05" fill="#aee8f0" stroke="#3cc834" stroke-width="0.75"/><circle cx="469.1" cy="221.6" r="2.05" fill="#eef048" stroke="#3cc834" stroke-width="0.75"/><circle cx="459.5" cy="230" r="2.05" fill="#aee8f0" stroke="#3cc834" stroke-width="0.75"/><circle cx="464.3" cy="230" r="2.05" fill="#eef048" stroke="#3cc834" stroke-width="0.75"/>
<path d="M456.5,242 L459.5,237.8 L469.1,237.8 M456.5,242 L459.5,246.2 L464.3,246.2" stroke="#22c020" stroke-width="1.2" fill="none"/><circle cx="456.5" cy="242" r="2.05" fill="#e8a0b4" stroke="#3cc834" stroke-width="0.75"/><circle cx="459.5" cy="237.8" r="2.05" fill="#e8a0b4" stroke="#3cc834" stroke-width="0.75"/><circle cx="464.3" cy="237.8" r="2.05" fill="#aee8f0" stroke="#3cc834" stroke-width="0.75"/><circle cx="469.1" cy="237.8" r="2.05" fill="#eef048" stroke="#3cc834" stroke-width="0.75"/><circle cx="459.5" cy="246.2" r="2.05" fill="#aee8f0" stroke="#3cc834" stroke-width="0.75"/><circle cx="464.3" cy="246.2" r="2.05" fill="#eef048" stroke="#3cc834" stroke-width="0.75"/>
<path d="M456.5,257.5 L459.5,253.3 L469.1,253.3 M456.5,257.5 L459.5,261.7 L464.3,261.7" stroke="#22c020" stroke-width="1.2" fill="none"/><circle cx="456.5" cy="257.5" r="2.05" fill="#e8a0b4" stroke="#3cc834" stroke-width="0.75"/><circle cx="459.5" cy="253.3" r="2.05" fill="#e8a0b4" stroke="#3cc834" stroke-width="0.75"/><circle cx="464.3" cy="253.3" r="2.05" fill="#aee8f0" stroke="#3cc834" stroke-width="0.75"/><circle cx="469.1" cy="253.3" r="2.05" fill="#eef048" stroke="#3cc834" stroke-width="0.75"/><circle cx="459.5" cy="261.7" r="2.05" fill="#aee8f0" stroke="#3cc834" stroke-width="0.75"/><circle cx="464.3" cy="261.7" r="2.05" fill="#eef048" stroke="#3cc834" stroke-width="0.75"/>
<path d="M456.5,273.4 L459.5,269.2 L469.1,269.2 M456.5,273.4 L459.5,277.6 L464.3,277.6" stroke="#22c020" stroke-width="1.2" fill="none"/><circle cx="456.5" cy="273.4" r="2.05" fill="#e8a0b4" stroke="#3cc834" stroke-width="0.75"/><circle cx="459.5" cy="269.2" r="2.05" fill="#e8a0b4" stroke="#3cc834" stroke-width="0.75"/><circle cx="464.3" cy="269.2" r="2.05" fill="#aee8f0" stroke="#3cc834" stroke-width="0.75"/><circle cx="469.1" cy="269.2" r="2.05" fill="#eef048" stroke="#3cc834" stroke-width="0.75"/><circle cx="459.5" cy="277.6" r="2.05" fill="#aee8f0" stroke="#3cc834" stroke-width="0.75"/><circle cx="464.3" cy="277.6" r="2.05" fill="#eef048" stroke="#3cc834" stroke-width="0.75"/>
<path d="M456.5,291.9 L459.5,287.7 L469.1,287.7 M456.5,291.9 L459.5,296.1 L464.3,296.1" stroke="#22c020" stroke-width="1.2" fill="none"/><circle cx="456.5" cy="291.9" r="2.05" fill="#e8a0b4" stroke="#3cc834" stroke-width="0.75"/><circle cx="459.5" cy="287.7" r="2.05" fill="#e8a0b4" stroke="#3cc834" stroke-width="0.75"/><circle cx="464.3" cy="287.7" r="2.05" fill="#aee8f0" stroke="#3cc834" stroke-width="0.75"/><circle cx="469.1" cy="287.7" r="2.05" fill="#eef048" stroke="#3cc834" stroke-width="0.75"/><circle cx="459.5" cy="296.1" r="2.05" fill="#aee8f0" stroke="#3cc834" stroke-width="0.75"/><circle cx="464.3" cy="296.1" r="2.05" fill="#eef048" stroke="#3cc834" stroke-width="0.75"/>
<path d="M456.5,307.5 L459.5,303.3 L469.1,303.3 M456.5,307.5 L459.5,311.7 L464.3,311.7" stroke="#22c020" stroke-width="1.2" fill="none"/><circle cx="456.5" cy="307.5" r="2.05" fill="#e8a0b4" stroke="#3cc834" stroke-width="0.75"/><circle cx="459.5" cy="303.3" r="2.05" fill="#e8a0b4" stroke="#3cc834" stroke-width="0.75"/><circle cx="464.3" cy="303.3" r="2.05" fill="#aee8f0" stroke="#3cc834" stroke-width="0.75"/><circle cx="469.1" cy="303.3" r="2.05" fill="#eef048" stroke="#3cc834" stroke-width="0.75"/><circle cx="459.5" cy="311.7" r="2.05" fill="#aee8f0" stroke="#3cc834" stroke-width="0.75"/><circle cx="464.3" cy="311.7" r="2.05" fill="#eef048" stroke="#3cc834" stroke-width="0.75"/>
<path d="M456.5,326.6 L459.5,322.4 L469.1,322.4 M456.5,326.6 L459.5,330.8 L464.3,330.8" stroke="#22c020" stroke-width="1.2" fill="none"/><circle cx="456.5" cy="326.6" r="2.05" fill="#e8a0b4" stroke="#3cc834" stroke-width="0.75"/><circle cx="459.5" cy="322.4" r="2.05" fill="#e8a0b4" stroke="#3cc834" stroke-width="0.75"/><circle cx="464.3" cy="322.4" r="2.05" fill="#aee8f0" stroke="#3cc834" stroke-width="0.75"/><circle cx="469.1" cy="322.4" r="2.05" fill="#eef048" stroke="#3cc834" stroke-width="0.75"/><circle cx="459.5" cy="330.8" r="2.05" fill="#aee8f0" stroke="#3cc834" stroke-width="0.75"/><circle cx="464.3" cy="330.8" r="2.05" fill="#eef048" stroke="#3cc834" stroke-width="0.75"/>
<path d="M328.2,255.2 C326.9,255.6 323.3,255.8 320.6,257.5 C317.8,259.3 313.5,263.9 311.7,265.6 C309.9,267.3 310.6,267.2 309.9,267.8 C309.2,268.4 308.3,269.1 307.4,269.2 C306.5,269.4 305.4,269.1 304.5,268.6 C303.7,268 302.8,267.1 302.3,266.1 C301.8,265.1 301.5,263.8 301.6,262.7 C301.7,261.6 302.1,260.5 302.7,259.7 C303.3,259 304.3,258.4 305.2,258.3 C306.1,258.2 307.2,258.4 308.1,259 C308.9,259.5 309.8,260.5 310.3,261.5 C310.8,262.4 311.1,263.8 311,264.8 C310.9,265.9 310.2,268.8 309.9,267.8 C309.6,266.8 306.9,259.2 309.4,259 C311.9,258.8 321.1,266.1 324.8,266.6 C328.5,267.1 331.2,265.5 331.5,262.2 C331.9,259 329.1,249.5 327,247 C324.9,244.5 322.1,246.1 319,247 C315.9,247.9 310.4,251 308.2,252.1 C305.9,253.3 306.7,253.3 305.8,253.7 C304.9,254.1 303.9,254.5 303,254.4 C302.1,254.2 301.1,253.6 300.4,252.9 C299.8,252.1 299.2,250.9 299,249.8 C298.8,248.8 299,247.4 299.3,246.4 C299.7,245.4 300.5,244.4 301.3,243.9 C302.1,243.4 303.2,243.1 304.1,243.2 C305,243.4 306,244 306.6,244.7 C307.3,245.5 307.9,246.7 308,247.8 C308.2,248.8 308.1,250.2 307.7,251.2 C307.3,252.2 305.8,254.7 305.8,253.7 C305.8,252.7 305.5,244.6 307.9,245.1 C310.3,245.7 317,255.3 320.4,256.9 C323.8,258.5 326.8,257.7 328.1,254.7 C329.4,251.7 329.4,242 328.2,239 C326.9,236 323.8,236.8 320.5,236.7 C317.2,236.6 311.1,238.1 308.6,238.5 C306.2,239 306.9,239.3 305.9,239.4 C305,239.5 303.9,239.6 303.1,239.2 C302.3,238.8 301.4,237.9 301,237 C300.6,236.1 300.4,234.8 300.5,233.7 C300.7,232.6 301.2,231.4 301.8,230.5 C302.5,229.7 303.5,228.9 304.4,228.7 C305.3,228.4 306.4,228.5 307.3,228.8 C308.1,229.2 308.9,230.1 309.3,231 C309.7,231.9 309.9,233.2 309.8,234.3 C309.6,235.4 309.1,236.7 308.5,237.5 C307.8,238.4 305.6,240.3 305.9,239.4 C306.2,238.4 308.2,230.6 310.4,231.8 C312.6,233 316.2,244.1 319,246.6 C321.8,249.1 324.8,249.4 327,246.7 C329.2,244 332.6,233.9 332.5,230.4 C332.3,226.9 329.1,226.8 326,225.6 C323,224.5 316.7,223.7 314.2,223.3 C311.8,222.9 312.3,223.4 311.4,223.2 C310.5,223 309.4,222.7 308.8,222.1 C308.2,221.4 307.7,220.3 307.6,219.3 C307.5,218.3 307.8,217 308.3,216.1 C308.8,215.1 309.7,214.1 310.6,213.5 C311.5,212.9 312.7,212.6 313.6,212.6 C314.5,212.7 315.6,213.1 316.2,213.7 C316.9,214.4 317.3,215.5 317.4,216.5 C317.5,217.5 317.2,218.8 316.8,219.7 C316.3,220.7 315.3,221.7 314.5,222.3 C313.6,222.9 310.8,224 311.4,223.2 C312,222.4 316.6,215.7 318.2,217.6 C319.8,219.4 319.5,231.2 321.3,234.5 C323,237.7 326,238.8 328.8,237.2 C331.5,235.7 337.1,228 337.8,224.9 C338.4,221.8 335.4,220.6 332.8,218.6 C330.2,216.7 324.3,214.3 322.1,213.2 C319.9,212.2 320.2,212.8 319.4,212.4 C318.6,211.9 317.6,211.3 317.2,210.6 C316.8,209.8 316.6,208.6 316.8,207.6 C317,206.6 317.6,205.4 318.3,204.6 C319,203.8 320.2,203.1 321.2,202.8 C322.2,202.5 323.5,202.4 324.4,202.7 C325.3,203 326.2,203.8 326.6,204.5 C327,205.3 327.2,206.5 327,207.5 C326.8,208.5 326.2,209.7 325.5,210.5 C324.7,211.3 323.6,212 322.6,212.3 C321.6,212.6 318.6,213 319.4,212.4 C320.2,211.8 326.4,206.5 327.5,208.7 C328.5,211 325.1,222.2 325.9,225.8 C326.7,229.5 329,231.4 332.3,230.5 C335.7,229.7 344,223.5 345.8,220.6 C347.6,217.6 345,215.7 343.2,213 C341.3,210.3 336.5,206.2 334.7,204.4 C333,202.7 333.1,203.4 332.5,202.7 C331.8,202 331.1,201.2 331,200.3 C330.8,199.4 331,198.3 331.5,197.4 C332,196.5 333,195.6 333.9,195.1 C334.9,194.5 336.2,194.2 337.3,194.2 C338.3,194.3 339.5,194.7 340.3,195.2 C341,195.8 341.6,196.8 341.8,197.7 C342,198.5 341.7,199.7 341.2,200.6 C340.8,201.5 339.8,202.4 338.8,202.9 C337.9,203.4 336.5,203.8 335.5,203.7 C334.4,203.7 331.5,203 332.5,202.7 C333.4,202.4 341,199.4 341.3,201.9 C341.6,204.4 334.6,213.9 334.2,217.6 C333.8,221.3 335.5,223.9 338.9,224.1 C342.2,224.4 351.8,221.2 354.4,219 C356.9,216.8 355.1,214.1 354.2,211 C353.3,207.9 350,202.5 348.8,200.3 C347.6,198.1 347.6,198.8 347.2,198 C346.8,197.1 346.4,196.1 346.5,195.2 C346.6,194.3 347.2,193.2 347.9,192.6 C348.6,191.9 349.8,191.3 350.9,191.1 C352,190.9 353.3,191 354.3,191.3 C355.3,191.7 356.4,192.4 356.9,193.2 C357.4,194 357.7,195.1 357.6,196 C357.5,196.9 356.9,197.9 356.2,198.6 C355.4,199.3 354.2,199.9 353.2,200.1 C352.1,200.3 350.7,200.2 349.7,199.8 C348.7,199.5 346.2,197.9 347.2,198 C348.2,198 356.3,197.4 355.8,199.9 C355.3,202.3 345.8,209.2 344.3,212.6 C342.8,216 343.6,219 346.7,220.3 C349.8,221.5 359.8,221.4 362.9,220.1 C365.9,218.8 365,215.7 365.1,212.4 C365.2,209.2 363.7,203 363.2,200.6 C362.8,198.2 362.5,198.8 362.4,197.9 C362.3,197 362.2,195.9 362.5,195 C362.9,194.2 363.8,193.4 364.7,193 C365.6,192.5 366.9,192.3 368,192.5 C369.1,192.6 370.4,193.1 371.2,193.8 C372,194.4 372.8,195.4 373.1,196.3 C373.4,197.2 373.3,198.3 372.9,199.2 C372.5,200 371.7,200.8 370.8,201.2 C369.8,201.7 368.5,201.8 367.4,201.7 C366.4,201.6 365.1,201.1 364.2,200.4 C363.4,199.8 361.4,197.6 362.4,197.9 C363.3,198.2 371.2,200.1 370,202.3 C368.8,204.5 357.7,208.2 355.2,211 C352.7,213.8 352.6,216.9 355.1,219 C357.7,221.1 367.1,223.9 370.4,223.6 C373.6,223.2 373.8,220 374.8,216.9 C375.8,213.8 376.2,207.5 376.4,205 C376.7,202.6 376.2,203.1 376.4,202.2 C376.6,201.3 376.8,200.2 377.4,199.5 C378,198.8 379.1,198.3 380.1,198.2 C381.1,198 382.4,198.2 383.4,198.7 C384.4,199.1 385.4,200 386.1,200.8 C386.7,201.7 387.1,202.9 387.1,203.8 C387.1,204.7 386.7,205.8 386.1,206.5 C385.5,207.2 384.4,207.7 383.4,207.8 C382.5,208 381.1,207.8 380.1,207.3 C379.1,206.9 378.1,206 377.5,205.2 C376.8,204.3 375.6,201.6 376.4,202.2 C377.2,202.8 384.2,206.9 382.4,208.7 C380.6,210.4 368.9,210.7 365.7,212.6 C362.5,214.6 361.5,217.5 363.3,220.3 C365.2,223.1 373.5,228.8 376.8,229.5 C380.1,230.2 381.1,227.1 383.1,224.4 C385,221.8 387.3,215.9 388.3,213.6 C389.3,211.4 388.7,211.8 389.1,210.9 C389.6,210.1 390.1,209.1 390.9,208.7 C391.7,208.2 392.9,208.1 393.9,208.2 C394.8,208.4 396,209 396.9,209.7 C397.7,210.4 398.4,211.6 398.7,212.6 C399.1,213.6 399.1,214.9 398.8,215.8 C398.5,216.7 397.8,217.6 397.1,218 C396.3,218.5 395.1,218.6 394.1,218.5 C393.1,218.3 391.9,217.7 391.1,217 C390.3,216.3 389.6,215.1 389.2,214.1 C388.9,213.1 388.5,210.1 389.1,210.9 C389.8,211.7 395.1,217.8 392.9,218.9 C390.6,220 379.4,216.7 375.8,217.6 C372.1,218.4 370.2,220.8 371.1,224.1 C372.1,227.5 378.4,235.8 381.4,237.7 C384.4,239.5 386.3,236.8 388.9,235 C391.6,233.1 395.7,228.3 397.4,226.5 C399.1,224.7 398.5,224.9 399.1,224.2 C399.8,223.6 400.7,222.9 401.6,222.7 C402.5,222.5 403.6,222.8 404.5,223.2 C405.4,223.7 406.3,224.7 406.8,225.6 C407.4,226.6 407.7,227.9 407.7,229 C407.6,230 407.3,231.2 406.7,232 C406.1,232.8 405.2,233.4 404.3,233.5 C403.4,233.7 402.2,233.5 401.3,233 C400.5,232.5 399.5,231.6 399,230.6 C398.5,229.6 398.1,228.3 398.2,227.3 C398.2,226.2 398.8,223.3 399.1,224.2 C399.5,225.2 402.5,232.7 400,233 C397.5,233.3 388,226.5 384.3,226.1 C380.6,225.7 378,227.7 377.8,230.7 C377.6,233.8 380.7,242.3 382.9,244.5 C385.1,246.7 387.8,244.9 390.9,243.8 C393.9,242.7 399.1,239 401.2,237.7 C403.3,236.4 402.6,236.4 403.4,235.9 C404.2,235.5 405.2,235 406.1,235.1 C407,235.1 408.1,235.6 408.8,236.3 C409.6,237 410.2,238.1 410.5,239.2 C410.8,240.3 410.8,241.6 410.5,242.7 C410.2,243.7 409.5,244.7 408.8,245.3 C408.1,245.9 407,246.3 406.1,246.2 C405.2,246.2 404.1,245.7 403.4,245 C402.6,244.3 402,243.1 401.7,242.1 C401.4,241 401.4,239.6 401.7,238.6 C402,237.6 403.4,234.9 403.4,235.9 C403.5,236.9 404.5,245 402.1,244.7 C399.6,244.3 392.1,235.3 388.6,234 C385.1,232.7 382.2,233.7 381.1,236.9 C380.1,240.2 380.7,250.5 382.2,253.5 C383.7,256.6 386.8,255.5 390,255.4 C393.3,255.3 399.4,253.5 401.8,252.9 C404.2,252.4 403.5,252.1 404.4,252 C405.3,251.8 406.4,251.6 407.3,252 C408.1,252.3 409,253.1 409.4,254 C409.9,254.9 410.2,256.2 410.1,257.3 C410,258.4 409.6,259.7 409,260.6 C408.4,261.5 407.4,262.2 406.5,262.6 C405.6,262.9 404.5,262.9 403.7,262.5 C402.8,262.2 402,261.4 401.5,260.5 C401,259.6 400.8,258.3 400.8,257.2 C400.9,256.1 401.4,254.8 402,254 C402.6,253.1 404.7,251 404.4,252 C404.1,252.9 402.6,260.9 400.4,259.8 C398.1,258.7 393.9,247.8 391,245.4 C388.1,243.1 385,243.1 383,245.8 C381,248.5 378.5,258.2 378.9,261.5 C379.4,264.9 382.6,264.8 385.8,265.7 C388.9,266.6 395.2,266.8 397.7,266.9 C400.2,267.1 399.6,266.7 400.5,266.8 C401.5,267 402.6,267.1 403.2,267.7 C403.9,268.3 404.5,269.4 404.7,270.3 C404.9,271.3 404.7,272.6 404.3,273.7 C403.9,274.7 403.1,275.8 402.2,276.4 C401.4,277.1 400.2,277.5 399.3,277.6 C398.3,277.6 397.3,277.3 396.6,276.7 C395.9,276.1 395.3,275.1 395.1,274.1 C395,273.1 395.1,271.8 395.5,270.7 C395.9,269.7 396.7,268.6 397.6,268 C398.4,267.3 401.1,266 400.5,266.8 C400,267.7 396.1,274.8 394.3,273.1 C392.5,271.3 391.8,259.6 389.7,256.5 C387.7,253.4 383.3,254.7 382,254.4" fill="none" stroke="#fff" stroke-width="2.3" stroke-linecap="round" stroke-linejoin="round" /><ellipse cx="305.8" cy="263.9" rx="2.6" ry="2.2" fill="none" stroke="#fff" stroke-width="1.2"/><ellipse cx="303" cy="248.8" rx="2.6" ry="2.2" fill="none" stroke="#fff" stroke-width="1.2"/><ellipse cx="304.7" cy="233.9" rx="2.6" ry="2.2" fill="none" stroke="#fff" stroke-width="1.2"/><ellipse cx="312.1" cy="217.6" rx="2.6" ry="2.2" fill="none" stroke="#fff" stroke-width="1.2"/><ellipse cx="321.6" cy="207.2" rx="2.6" ry="2.2" fill="none" stroke="#fff" stroke-width="1.2"/><ellipse cx="336.2" cy="198.5" rx="2.6" ry="2.2" fill="none" stroke="#fff" stroke-width="1.2"/><ellipse cx="352" cy="195.1" rx="2.6" ry="2.2" fill="none" stroke="#fff" stroke-width="1.2"/><ellipse cx="367.8" cy="196.6" rx="2.6" ry="2.2" fill="none" stroke="#fff" stroke-width="1.2"/><ellipse cx="382" cy="202.6" rx="2.6" ry="2.2" fill="none" stroke="#fff" stroke-width="1.2"/><ellipse cx="394.4" cy="213" rx="2.6" ry="2.2" fill="none" stroke="#fff" stroke-width="1.2"/><ellipse cx="403.4" cy="227.9" rx="2.6" ry="2.2" fill="none" stroke="#fff" stroke-width="1.2"/><ellipse cx="406.6" cy="240.6" rx="2.6" ry="2.2" fill="none" stroke="#fff" stroke-width="1.2"/><ellipse cx="406" cy="257.4" rx="2.6" ry="2.2" fill="none" stroke="#fff" stroke-width="1.2"/><ellipse cx="400.3" cy="272.4" rx="2.6" ry="2.2" fill="none" stroke="#fff" stroke-width="1.2"/><path d="M313,268 C313.8,268.7 316.7,270.7 318,272 C319.3,273.3 321.3,274.3 321,276 C320.7,277.7 316.5,280 316,282 C315.5,284 316.2,286.7 318,288 C319.8,289.3 324.2,290 327,290 C329.8,290 333.2,289.3 335,288 C336.8,286.7 338.2,284 338,282 C337.8,280 336,277.3 334,276 C332,274.7 328.3,274 326,274 C323.7,274 321,275.7 320,276" fill="none" stroke="#fff" stroke-width="2.3" stroke-linecap="round" stroke-linejoin="round" /><text x="317" y="276" font-family="Liberation Sans" font-size="5" font-weight="normal" fill="#fff">C</text><path d="M381,262 C380.3,263 378.3,265.9 377,268 C375.7,270.1 374.4,272.4 373.4,274.6 C372.4,276.8 371.5,279.1 371,281 C370.5,282.9 370.6,285.2 370.5,286" fill="none" stroke="#fff" stroke-width="2.3" stroke-linecap="round" stroke-linejoin="round" /><path d="M383,284 C383.7,283.8 385.5,282.5 387,282.5 C388.5,282.5 390.9,283.1 392,284 C393.1,284.9 394,286.8 393.5,288 C393,289.2 390.8,291.1 389,291.5 C387.2,291.9 384.3,291.2 383,290.5 C381.7,289.8 380.8,287.9 381,287 C381.2,286.1 383.5,285.3 384,285" fill="none" stroke="#fff" stroke-width="2.05" stroke-linecap="round" stroke-linejoin="round" /><ellipse cx="388" cy="287" rx="3" ry="2" fill="none" stroke="#fff" stroke-width="1"/><text x="366" y="290" font-family="Liberation Sans" font-size="5" font-weight="normal" fill="#fff">NC</text><text x="364.5" y="296" font-family="Liberation Sans" font-size="5" font-weight="normal" fill="#fff">C/C</text><path d="M371.6,296 C369.7,296 364.3,295.7 360,296 C355.7,296.3 349.7,296.7 346,298 C342.3,299.3 338.8,301.8 338,304 C337.2,306.2 338.5,309 341,311 C343.5,313 349,315.1 353,316 C357,316.9 362,317.2 365,316.7 C368,316.2 369.7,314.8 371,313 C372.3,311.2 372.8,308.5 373,306 C373.2,303.5 372.2,299.3 372,298" fill="none" stroke="#fff" stroke-width="2.3" stroke-linecap="round" stroke-linejoin="round" /><path d="M374,297 C375,297.8 378.5,299.5 380,302 C381.5,304.5 382.7,308.7 383,312 C383.3,315.3 383.2,319.8 382,322 C380.8,324.2 377.5,325.7 376,325 C374.5,324.3 373.5,320.8 373,318 C372.5,315.2 373,309.7 373,308" fill="none" stroke="#fff" stroke-width="2.3" stroke-linecap="round" stroke-linejoin="round" /><path d="M370.2,325.5 C370.5,326.2 371.1,328.2 372.1,329.6 C373,331 374.7,332.3 376,333.7 C377.3,335.1 378.9,336.5 379.9,337.8 C380.8,339.2 381.6,340.6 381.8,341.9 C381.9,343.3 381.4,344.7 380.7,346 C379.9,347.4 378.4,348.8 377.1,350.1 C375.9,351.5 374.1,352.9 373,354.2 C371.9,355.6 370.8,357 370.5,358.4 C370.1,359.7 370.2,361.1 370.8,362.5 C371.3,363.8 372.6,365.2 373.8,366.6 C375,367.9 376.7,369.3 378,370.7 C379.2,372 380.5,373.4 381.1,374.8 C381.7,376.2 381.9,377.5 381.6,378.9 C381.3,380.3 379.6,382.3 379.2,383" fill="none" stroke="#fff" stroke-width="2.56" stroke-linecap="round" stroke-linejoin="round" /><path d="M379.2,383 C378.5,383.7 376.2,385.9 374.9,387.3 C373.6,388.8 372,390.2 371.2,391.6 C370.5,393.1 370.1,394.5 370.3,396 C370.5,397.4 371.5,398.8 372.6,400.3 C373.7,401.7 375.5,403.2 376.9,404.6 C378.2,406 379.8,407.5 380.6,408.9 C381.4,410.3 381.9,411.8 381.8,413.2 C381.6,414.7 380.6,416.1 379.6,417.5 C378.5,419 376.7,420.4 375.4,421.9 C374,423.3 372.4,424.7 371.5,426.2 C370.7,427.6 370.1,429.1 370.2,430.5 C370.3,431.9 371.2,433.4 372.2,434.8 C373.3,436.3 375.1,437.7 376.4,439.1 C377.8,440.6 379.4,442 380.3,443.5 C381.2,444.9 381.9,446.3 381.8,447.8 C381.7,449.2 380.9,450.7 379.9,452.1 C378.9,453.5 377.2,455 375.8,456.4 C374.5,457.8 372.8,459.3 371.8,460.7 C370.9,462.2 370.2,463.6 370.2,465 C370.2,466.5 370.9,467.9 371.9,469.4 C372.8,470.8 374.6,472.2 375.9,473.7 C377.3,475.1 379.3,477.3 380,478" fill="none" stroke="#3f2ed8" stroke-width="4.8" stroke-linecap="round" opacity="0.95"/><path d="M379.2,383 C378.5,383.7 376.2,385.9 374.9,387.3 C373.6,388.8 372,390.2 371.2,391.6 C370.5,393.1 370.1,394.5 370.3,396 C370.5,397.4 371.5,398.8 372.6,400.3 C373.7,401.7 375.5,403.2 376.9,404.6 C378.2,406 379.8,407.5 380.6,408.9 C381.4,410.3 381.9,411.8 381.8,413.2 C381.6,414.7 380.6,416.1 379.6,417.5 C378.5,419 376.7,420.4 375.4,421.9 C374,423.3 372.4,424.7 371.5,426.2 C370.7,427.6 370.1,429.1 370.2,430.5 C370.3,431.9 371.2,433.4 372.2,434.8 C373.3,436.3 375.1,437.7 376.4,439.1 C377.8,440.6 379.4,442 380.3,443.5 C381.2,444.9 381.9,446.3 381.8,447.8 C381.7,449.2 380.9,450.7 379.9,452.1 C378.9,453.5 377.2,455 375.8,456.4 C374.5,457.8 372.8,459.3 371.8,460.7 C370.9,462.2 370.2,463.6 370.2,465 C370.2,466.5 370.9,467.9 371.9,469.4 C372.8,470.8 374.6,472.2 375.9,473.7 C377.3,475.1 379.3,477.3 380,478" fill="none" stroke="#fff" stroke-width="2.3" stroke-linecap="round"/><path d="M379,478 C379.2,479 380.9,482.3 380,484 C379.1,485.7 375.9,486.6 373.8,488.3 C371.8,490 368.6,492.2 367.7,494.4 C366.8,496.6 367.5,499.9 368.6,501.3 C369.8,502.7 372.9,503.3 374.6,503 C376.3,502.7 378.6,501.2 379,499.6 C379.4,498 377.5,494.5 377.2,493.5" fill="none" stroke="#fff" stroke-width="2.56" stroke-linecap="round" stroke-linejoin="round" /><path d="M378,196 L377.3,190.2 L372.6,181.2 M377.3,190.2 L381.1,180.2" stroke="#1e9a22" stroke-width="1.2" fill="none"/><circle cx="372.6" cy="181.2" r="2.7" fill="#bff2fa" stroke="#3aba3a" stroke-width="0.8"/><circle cx="372.6" cy="181.2" r="0.9" fill="#d8a0b8"/><circle cx="381.1" cy="180.2" r="2.7" fill="#bff2fa" stroke="#3aba3a" stroke-width="0.8"/><circle cx="381.1" cy="180.2" r="0.9" fill="#d8a0b8"/><path d="M304.8,231.5 L300,225.6 L290.6,222 M300,225.6 L297,217.3" stroke="#1e9a22" stroke-width="1.2" fill="none"/><circle cx="290.6" cy="222" r="2.7" fill="#bff2fa" stroke="#3aba3a" stroke-width="0.8"/><circle cx="290.6" cy="222" r="0.9" fill="#d8a0b8"/><circle cx="297" cy="217.3" r="2.7" fill="#bff2fa" stroke="#3aba3a" stroke-width="0.8"/><circle cx="297" cy="217.3" r="0.9" fill="#d8a0b8"/><path d="M411.1,258.7 L415.8,252.8 L418.2,244.5 M415.8,252.8 L424.6,251.1" stroke="#1e9a22" stroke-width="1.2" fill="none"/><circle cx="418.2" cy="244.5" r="2.7" fill="#bff2fa" stroke="#3aba3a" stroke-width="0.8"/><circle cx="418.2" cy="244.5" r="0.9" fill="#d8a0b8"/><circle cx="424.6" cy="251.1" r="2.7" fill="#bff2fa" stroke="#3aba3a" stroke-width="0.8"/><circle cx="424.6" cy="251.1" r="0.9" fill="#d8a0b8"/><path d="M386.8,344.6 L389.8,340.4 L399.4,340.4 M386.8,344.6 L389.8,348.8 L394.6,348.8" stroke="#22c020" stroke-width="1.2" fill="none"/><circle cx="386.8" cy="344.6" r="2.05" fill="#e8a0b4" stroke="#3cc834" stroke-width="0.75"/><circle cx="389.8" cy="340.4" r="2.05" fill="#e8a0b4" stroke="#3cc834" stroke-width="0.75"/><circle cx="394.6" cy="340.4" r="2.05" fill="#aee8f0" stroke="#3cc834" stroke-width="0.75"/><circle cx="399.4" cy="340.4" r="2.05" fill="#eef048" stroke="#3cc834" stroke-width="0.75"/><circle cx="389.8" cy="348.8" r="2.05" fill="#aee8f0" stroke="#3cc834" stroke-width="0.75"/><circle cx="394.6" cy="348.8" r="2.05" fill="#eef048" stroke="#3cc834" stroke-width="0.75"/><path d="M385.5,379 L388.5,374.8 L398.1,374.8 M385.5,379 L388.5,383.2 L393.3,383.2" stroke="#22c020" stroke-width="1.2" fill="none"/><circle cx="385.5" cy="379" r="2.05" fill="#e8a0b4" stroke="#3cc834" stroke-width="0.75"/><circle cx="388.5" cy="374.8" r="2.05" fill="#e8a0b4" stroke="#3cc834" stroke-width="0.75"/><circle cx="393.3" cy="374.8" r="2.05" fill="#aee8f0" stroke="#3cc834" stroke-width="0.75"/><circle cx="398.1" cy="374.8" r="2.05" fill="#eef048" stroke="#3cc834" stroke-width="0.75"/><circle cx="388.5" cy="383.2" r="2.05" fill="#aee8f0" stroke="#3cc834" stroke-width="0.75"/><circle cx="393.3" cy="383.2" r="2.05" fill="#eef048" stroke="#3cc834" stroke-width="0.75"/><path d="M366.5,398.1 L363.5,393.9 L353.9,393.9 M366.5,398.1 L363.5,402.3 L358.7,402.3" stroke="#22c020" stroke-width="1.2" fill="none"/><circle cx="366.5" cy="398.1" r="2.05" fill="#e8a0b4" stroke="#3cc834" stroke-width="0.75"/><circle cx="363.5" cy="393.9" r="2.05" fill="#e8a0b4" stroke="#3cc834" stroke-width="0.75"/><circle cx="358.7" cy="393.9" r="2.05" fill="#aee8f0" stroke="#3cc834" stroke-width="0.75"/><circle cx="353.9" cy="393.9" r="2.05" fill="#eef048" stroke="#3cc834" stroke-width="0.75"/><circle cx="363.5" cy="402.3" r="2.05" fill="#aee8f0" stroke="#3cc834" stroke-width="0.75"/><circle cx="358.7" cy="402.3" r="2.05" fill="#eef048" stroke="#3cc834" stroke-width="0.75"/>
<path d="M98.7,369 C98.6,369.5 98.2,371 98.4,372.1 C98.6,373.1 99.3,374.1 99.9,375.1 C100.6,376.1 101.6,377.1 102.3,378.2 C103,379.2 103.8,380.2 104.2,381.2 C104.6,382.2 104.8,383.3 104.6,384.3 C104.5,385.3 103.9,386.3 103.3,387.3 C102.6,388.4 101.6,389.4 100.9,390.4 C100.2,391.4 99.3,392.4 98.9,393.4 C98.5,394.5 98.2,395.5 98.3,396.5 C98.4,397.5 99,398.5 99.6,399.6 C100.1,400.6 101.1,401.6 101.9,402.6 C102.6,403.6 103.5,404.6 104,405.7 C104.4,406.7 104.7,407.7 104.7,408.7 C104.6,409.7 104.2,410.8 103.6,411.8 C103.1,412.8 102.1,413.8 101.4,414.8 C100.6,415.9 99.7,416.9 99.2,417.9 C98.7,418.9 98.3,419.9 98.3,420.9 C98.3,422 98.7,423 99.2,424 C99.7,425 100.7,426 101.4,427.1 C102.2,428.1 103.1,429.1 103.7,430.1 C104.2,431.1 104.6,432.1 104.7,433.2 C104.7,434.2 104.4,435.2 103.9,436.2 C103.5,437.2 102.5,438.3 101.8,439.3 C101.1,440.3 100.1,441.3 99.5,442.3 C98.9,443.4 98.4,444.4 98.3,445.4 C98.2,446.4 98.5,447.4 98.9,448.4 C99.4,449.5 100.6,451 101,451.5" fill="none" stroke="#3f2ed8" stroke-width="4.8" stroke-linecap="round" opacity="0.95"/><path d="M98.7,369 C98.6,369.5 98.2,371 98.4,372.1 C98.6,373.1 99.3,374.1 99.9,375.1 C100.6,376.1 101.6,377.1 102.3,378.2 C103,379.2 103.8,380.2 104.2,381.2 C104.6,382.2 104.8,383.3 104.6,384.3 C104.5,385.3 103.9,386.3 103.3,387.3 C102.6,388.4 101.6,389.4 100.9,390.4 C100.2,391.4 99.3,392.4 98.9,393.4 C98.5,394.5 98.2,395.5 98.3,396.5 C98.4,397.5 99,398.5 99.6,399.6 C100.1,400.6 101.1,401.6 101.9,402.6 C102.6,403.6 103.5,404.6 104,405.7 C104.4,406.7 104.7,407.7 104.7,408.7 C104.6,409.7 104.2,410.8 103.6,411.8 C103.1,412.8 102.1,413.8 101.4,414.8 C100.6,415.9 99.7,416.9 99.2,417.9 C98.7,418.9 98.3,419.9 98.3,420.9 C98.3,422 98.7,423 99.2,424 C99.7,425 100.7,426 101.4,427.1 C102.2,428.1 103.1,429.1 103.7,430.1 C104.2,431.1 104.6,432.1 104.7,433.2 C104.7,434.2 104.4,435.2 103.9,436.2 C103.5,437.2 102.5,438.3 101.8,439.3 C101.1,440.3 100.1,441.3 99.5,442.3 C98.9,443.4 98.4,444.4 98.3,445.4 C98.2,446.4 98.5,447.4 98.9,448.4 C99.4,449.5 100.6,451 101,451.5" fill="none" stroke="#fff" stroke-width="2.3" stroke-linecap="round"/>
<path d="M172.5,370 C172.7,370.4 173.2,371.7 173.9,372.5 C174.5,373.4 175.6,374.2 176.5,375.1 C177.3,375.9 178.3,376.8 178.8,377.6 C179.3,378.5 179.7,379.3 179.6,380.1 C179.5,381 179,381.8 178.4,382.7 C177.8,383.5 176.8,384.4 175.9,385.2 C175.1,386.1 174.1,386.9 173.5,387.8 C172.9,388.6 172.4,389.4 172.4,390.3 C172.4,391.1 172.8,392 173.3,392.8 C173.9,393.7 174.9,394.5 175.7,395.4 C176.5,396.2 177.6,397 178.2,397.9 C178.9,398.7 179.4,399.6 179.6,400.4 C179.7,401.3 179.4,402.1 178.9,403 C178.5,403.8 177.5,404.7 176.7,405.5 C175.9,406.3 174.8,407.2 174.1,408 C173.4,408.9 172.7,409.7 172.5,410.6 C172.3,411.4 172.5,412.3 172.9,413.1 C173.3,414 174.1,414.8 174.9,415.6 C175.7,416.5 176.9,417.3 177.6,418.2 C178.3,419 179.1,419.9 179.4,420.7 C179.7,421.6 179.6,422.4 179.3,423.2 C179,424.1 178.2,424.9 177.4,425.8 C176.7,426.6 175.5,427.5 174.8,428.3 C174,429.2 173.1,430 172.8,430.9 C172.4,431.7 172.3,432.5 172.6,433.4 C172.8,434.2 173.5,435.1 174.2,435.9 C174.9,436.8 176.1,437.6 176.9,438.5 C177.7,439.3 178.7,440.6 179,441" fill="none" stroke="#3f2ed8" stroke-width="4.8" stroke-linecap="round" opacity="0.95"/><path d="M172.5,370 C172.7,370.4 173.2,371.7 173.9,372.5 C174.5,373.4 175.6,374.2 176.5,375.1 C177.3,375.9 178.3,376.8 178.8,377.6 C179.3,378.5 179.7,379.3 179.6,380.1 C179.5,381 179,381.8 178.4,382.7 C177.8,383.5 176.8,384.4 175.9,385.2 C175.1,386.1 174.1,386.9 173.5,387.8 C172.9,388.6 172.4,389.4 172.4,390.3 C172.4,391.1 172.8,392 173.3,392.8 C173.9,393.7 174.9,394.5 175.7,395.4 C176.5,396.2 177.6,397 178.2,397.9 C178.9,398.7 179.4,399.6 179.6,400.4 C179.7,401.3 179.4,402.1 178.9,403 C178.5,403.8 177.5,404.7 176.7,405.5 C175.9,406.3 174.8,407.2 174.1,408 C173.4,408.9 172.7,409.7 172.5,410.6 C172.3,411.4 172.5,412.3 172.9,413.1 C173.3,414 174.1,414.8 174.9,415.6 C175.7,416.5 176.9,417.3 177.6,418.2 C178.3,419 179.1,419.9 179.4,420.7 C179.7,421.6 179.6,422.4 179.3,423.2 C179,424.1 178.2,424.9 177.4,425.8 C176.7,426.6 175.5,427.5 174.8,428.3 C174,429.2 173.1,430 172.8,430.9 C172.4,431.7 172.3,432.5 172.6,433.4 C172.8,434.2 173.5,435.1 174.2,435.9 C174.9,436.8 176.1,437.6 176.9,438.5 C177.7,439.3 178.7,440.6 179,441" fill="none" stroke="#fff" stroke-width="2.3" stroke-linecap="round"/>
<path d="M261,389 C261.3,389.3 262.6,390.4 263.1,391 C263.6,391.7 264,392.4 264,393.1 C264,393.7 263.7,394.4 263.2,395.1 C262.8,395.8 261.9,396.5 261.2,397.1 C260.5,397.8 259.6,398.5 259.1,399.2 C258.5,399.8 258.1,400.5 258,401.2 C257.9,401.9 258.2,402.5 258.7,403.2 C259.1,403.9 259.9,404.6 260.6,405.3 C261.3,405.9 262.2,406.6 262.8,407.3 C263.3,408 263.8,408.6 264,409.3 C264.1,410 263.9,410.7 263.5,411.4 C263.1,412 262.3,412.7 261.6,413.4 C260.9,414.1 260,414.7 259.4,415.4 C258.8,416.1 258.2,416.8 258.1,417.5 C257.9,418.1 258.1,418.8 258.4,419.5 C258.8,420.2 259.6,420.8 260.2,421.5 C260.9,422.2 261.9,422.9 262.5,423.5 C263.1,424.2 263.7,424.9 263.9,425.6 C264.1,426.3 264,426.9 263.7,427.6 C263.3,428.3 262.6,429 262,429.6 C261.3,430.3 260.3,431 259.7,431.7 C259.1,432.4 258.4,433 258.2,433.7 C257.9,434.4 258,435.1 258.3,435.7 C258.5,436.4 259.2,437.1 259.9,437.8 C260.5,438.5 261.5,439.1 262.1,439.8 C262.8,440.5 263.5,441.2 263.7,441.8 C264,442.5 264.1,443.2 263.8,443.9 C263.6,444.5 262.9,445.2 262.3,445.9 C261.7,446.6 260.7,447.3 260.1,447.9 C259.4,448.6 258.7,449.3 258.3,450 C258,450.6 258.2,451.7 258.1,452" fill="none" stroke="#3f2ed8" stroke-width="4.5" stroke-linecap="round" opacity="0.95"/><path d="M261,389 C261.3,389.3 262.6,390.4 263.1,391 C263.6,391.7 264,392.4 264,393.1 C264,393.7 263.7,394.4 263.2,395.1 C262.8,395.8 261.9,396.5 261.2,397.1 C260.5,397.8 259.6,398.5 259.1,399.2 C258.5,399.8 258.1,400.5 258,401.2 C257.9,401.9 258.2,402.5 258.7,403.2 C259.1,403.9 259.9,404.6 260.6,405.3 C261.3,405.9 262.2,406.6 262.8,407.3 C263.3,408 263.8,408.6 264,409.3 C264.1,410 263.9,410.7 263.5,411.4 C263.1,412 262.3,412.7 261.6,413.4 C260.9,414.1 260,414.7 259.4,415.4 C258.8,416.1 258.2,416.8 258.1,417.5 C257.9,418.1 258.1,418.8 258.4,419.5 C258.8,420.2 259.6,420.8 260.2,421.5 C260.9,422.2 261.9,422.9 262.5,423.5 C263.1,424.2 263.7,424.9 263.9,425.6 C264.1,426.3 264,426.9 263.7,427.6 C263.3,428.3 262.6,429 262,429.6 C261.3,430.3 260.3,431 259.7,431.7 C259.1,432.4 258.4,433 258.2,433.7 C257.9,434.4 258,435.1 258.3,435.7 C258.5,436.4 259.2,437.1 259.9,437.8 C260.5,438.5 261.5,439.1 262.1,439.8 C262.8,440.5 263.5,441.2 263.7,441.8 C264,442.5 264.1,443.2 263.8,443.9 C263.6,444.5 262.9,445.2 262.3,445.9 C261.7,446.6 260.7,447.3 260.1,447.9 C259.4,448.6 258.7,449.3 258.3,450 C258,450.6 258.2,451.7 258.1,452" fill="none" stroke="#fff" stroke-width="2" stroke-linecap="round"/>
<path d="M262,452 C260.8,453 256.7,455.2 255,458 C253.3,460.8 252.2,467.2 251.6,469" fill="none" stroke="#3f2ed8" stroke-width="4.5" stroke-linecap="round" opacity="0.95"/><path d="M262,452 C260.8,453 256.7,455.2 255,458 C253.3,460.8 252.2,467.2 251.6,469" fill="none" stroke="#fff" stroke-width="2" stroke-linecap="round"/>
<path d="M605.7,371.7 C605.6,372.2 605.2,373.7 605.4,374.8 C605.6,375.8 606.3,376.8 606.9,377.8 C607.6,378.9 608.6,379.9 609.3,380.9 C610,381.9 610.9,382.9 611.2,384 C611.6,385 611.8,386 611.6,387 C611.4,388 610.9,389.1 610.2,390.1 C609.6,391.1 608.6,392.1 607.9,393.2 C607.1,394.2 606.3,395.2 605.9,396.2 C605.4,397.2 605.2,398.3 605.3,399.3 C605.5,400.3 606,401.3 606.6,402.4 C607.2,403.4 608.2,404.4 609,405.4 C609.7,406.4 610.6,407.5 611,408.5 C611.5,409.5 611.8,410.5 611.7,411.5 C611.6,412.6 611.1,413.6 610.5,414.6 C610,415.6 609,416.7 608.2,417.7 C607.5,418.7 606.6,419.7 606.1,420.7 C605.6,421.8 605.3,422.8 605.3,423.8 C605.3,424.8 605.8,425.9 606.3,426.9 C606.9,427.9 607.8,428.9 608.6,429.9 C609.3,431 610.3,432 610.8,433 C611.3,434 611.7,435.1 611.7,436.1 C611.7,437.1 611.3,438.1 610.8,439.1 C610.3,440.2 609.4,441.2 608.6,442.2 C607.9,443.2 606.9,444.2 606.4,445.3 C605.8,446.3 605.4,447.3 605.3,448.3 C605.3,449.4 605.9,450.9 606.1,451.4" fill="none" stroke="#3f2ed8" stroke-width="4.8" stroke-linecap="round" opacity="0.95"/><path d="M605.7,371.7 C605.6,372.2 605.2,373.7 605.4,374.8 C605.6,375.8 606.3,376.8 606.9,377.8 C607.6,378.9 608.6,379.9 609.3,380.9 C610,381.9 610.9,382.9 611.2,384 C611.6,385 611.8,386 611.6,387 C611.4,388 610.9,389.1 610.2,390.1 C609.6,391.1 608.6,392.1 607.9,393.2 C607.1,394.2 606.3,395.2 605.9,396.2 C605.4,397.2 605.2,398.3 605.3,399.3 C605.5,400.3 606,401.3 606.6,402.4 C607.2,403.4 608.2,404.4 609,405.4 C609.7,406.4 610.6,407.5 611,408.5 C611.5,409.5 611.8,410.5 611.7,411.5 C611.6,412.6 611.1,413.6 610.5,414.6 C610,415.6 609,416.7 608.2,417.7 C607.5,418.7 606.6,419.7 606.1,420.7 C605.6,421.8 605.3,422.8 605.3,423.8 C605.3,424.8 605.8,425.9 606.3,426.9 C606.9,427.9 607.8,428.9 608.6,429.9 C609.3,431 610.3,432 610.8,433 C611.3,434 611.7,435.1 611.7,436.1 C611.7,437.1 611.3,438.1 610.8,439.1 C610.3,440.2 609.4,441.2 608.6,442.2 C607.9,443.2 606.9,444.2 606.4,445.3 C605.8,446.3 605.4,447.3 605.3,448.3 C605.3,449.4 605.9,450.9 606.1,451.4" fill="none" stroke="#fff" stroke-width="2.3" stroke-linecap="round"/>
<path d="M530.8,369.7 C531,370.2 531.6,371.7 532.3,372.8 C533,373.8 534.2,374.8 535.1,375.8 C536,376.9 537,377.9 537.5,378.9 C538.1,379.9 538.4,381 538.3,382 C538.2,383 537.5,384 536.9,385.1 C536.2,386.1 535,387.1 534.1,388.1 C533.2,389.2 532.1,390.2 531.6,391.2 C531,392.2 530.6,393.3 530.7,394.3 C530.8,395.3 531.3,396.3 532,397.4 C532.7,398.4 533.8,399.4 534.7,400.4 C535.6,401.5 536.7,402.5 537.3,403.5 C537.9,404.5 538.3,405.6 538.3,406.6 C538.3,407.6 537.8,408.6 537.1,409.7 C536.5,410.7 535.4,411.7 534.5,412.7 C533.6,413.8 532.5,414.8 531.8,415.8 C531.2,416.8 530.7,417.9 530.7,418.9 C530.7,419.9 531.1,420.9 531.7,422 C532.3,423 533.4,424 534.3,425 C535.2,426.1 536.4,427.1 537,428.1 C537.7,429.1 538.2,430.2 538.3,431.2 C538.4,432.2 538,433.2 537.4,434.3 C536.8,435.3 535.8,436.3 534.9,437.3 C534,438.4 532.8,439.4 532.1,440.4 C531.4,441.4 530.8,442.5 530.7,443.5 C530.6,444.5 530.9,445.5 531.5,446.6 C532,447.6 533.1,448.6 533.9,449.6 C534.8,450.7 536,451.7 536.7,452.7 C537.4,453.7 538.1,454.8 538.2,455.8 C538.4,456.8 538.1,457.8 537.6,458.9 C537.1,459.9 536.1,460.9 535.3,461.9 C534.4,463 532.9,464.5 532.4,465" fill="none" stroke="#3f2ed8" stroke-width="4.8" stroke-linecap="round" opacity="0.95"/><path d="M530.8,369.7 C531,370.2 531.6,371.7 532.3,372.8 C533,373.8 534.2,374.8 535.1,375.8 C536,376.9 537,377.9 537.5,378.9 C538.1,379.9 538.4,381 538.3,382 C538.2,383 537.5,384 536.9,385.1 C536.2,386.1 535,387.1 534.1,388.1 C533.2,389.2 532.1,390.2 531.6,391.2 C531,392.2 530.6,393.3 530.7,394.3 C530.8,395.3 531.3,396.3 532,397.4 C532.7,398.4 533.8,399.4 534.7,400.4 C535.6,401.5 536.7,402.5 537.3,403.5 C537.9,404.5 538.3,405.6 538.3,406.6 C538.3,407.6 537.8,408.6 537.1,409.7 C536.5,410.7 535.4,411.7 534.5,412.7 C533.6,413.8 532.5,414.8 531.8,415.8 C531.2,416.8 530.7,417.9 530.7,418.9 C530.7,419.9 531.1,420.9 531.7,422 C532.3,423 533.4,424 534.3,425 C535.2,426.1 536.4,427.1 537,428.1 C537.7,429.1 538.2,430.2 538.3,431.2 C538.4,432.2 538,433.2 537.4,434.3 C536.8,435.3 535.8,436.3 534.9,437.3 C534,438.4 532.8,439.4 532.1,440.4 C531.4,441.4 530.8,442.5 530.7,443.5 C530.6,444.5 530.9,445.5 531.5,446.6 C532,447.6 533.1,448.6 533.9,449.6 C534.8,450.7 536,451.7 536.7,452.7 C537.4,453.7 538.1,454.8 538.2,455.8 C538.4,456.8 538.1,457.8 537.6,458.9 C537.1,459.9 536.1,460.9 535.3,461.9 C534.4,463 532.9,464.5 532.4,465" fill="none" stroke="#fff" stroke-width="2.3" stroke-linecap="round"/>
<path d="M490.7,362 C491,362.4 492.3,363.4 492.8,364.1 C493.3,364.8 493.7,365.5 493.7,366.2 C493.7,366.9 493.4,367.6 493,368.4 C492.5,369.1 491.7,369.8 491,370.5 C490.3,371.2 489.4,371.9 488.9,372.6 C488.3,373.3 487.8,374 487.7,374.7 C487.6,375.4 487.8,376.1 488.2,376.8 C488.6,377.5 489.4,378.2 490.1,378.9 C490.8,379.7 491.7,380.4 492.3,381.1 C492.9,381.8 493.4,382.5 493.6,383.2 C493.8,383.9 493.7,384.6 493.3,385.3 C493,386 492.2,386.7 491.6,387.4 C490.9,388.1 490,388.8 489.4,389.5 C488.7,390.2 488.1,390.9 487.9,391.7 C487.6,392.4 487.7,393.1 488,393.8 C488.2,394.5 488.9,395.2 489.5,395.9 C490.2,396.6 491.1,397.3 491.8,398 C492.4,398.7 493.1,399.4 493.4,400.1 C493.7,400.8 493.8,401.5 493.6,402.2 C493.3,403 492.7,403.7 492.1,404.4 C491.5,405.1 490.6,405.8 489.9,406.5 C489.3,407.2 488.4,408.2 488.1,408.6" fill="none" stroke="#3f2ed8" stroke-width="4.8" stroke-linecap="round" opacity="0.95"/><path d="M490.7,362 C491,362.4 492.3,363.4 492.8,364.1 C493.3,364.8 493.7,365.5 493.7,366.2 C493.7,366.9 493.4,367.6 493,368.4 C492.5,369.1 491.7,369.8 491,370.5 C490.3,371.2 489.4,371.9 488.9,372.6 C488.3,373.3 487.8,374 487.7,374.7 C487.6,375.4 487.8,376.1 488.2,376.8 C488.6,377.5 489.4,378.2 490.1,378.9 C490.8,379.7 491.7,380.4 492.3,381.1 C492.9,381.8 493.4,382.5 493.6,383.2 C493.8,383.9 493.7,384.6 493.3,385.3 C493,386 492.2,386.7 491.6,387.4 C490.9,388.1 490,388.8 489.4,389.5 C488.7,390.2 488.1,390.9 487.9,391.7 C487.6,392.4 487.7,393.1 488,393.8 C488.2,394.5 488.9,395.2 489.5,395.9 C490.2,396.6 491.1,397.3 491.8,398 C492.4,398.7 493.1,399.4 493.4,400.1 C493.7,400.8 493.8,401.5 493.6,402.2 C493.3,403 492.7,403.7 492.1,404.4 C491.5,405.1 490.6,405.8 489.9,406.5 C489.3,407.2 488.4,408.2 488.1,408.6" fill="none" stroke="#fff" stroke-width="2.3" stroke-linecap="round"/>
<path d="M451,389 C451.4,389.3 452.6,390.4 453.1,391.1 C453.6,391.8 454,392.4 454,393.1 C454,393.8 453.6,394.5 453.2,395.2 C452.7,395.9 451.8,396.6 451.1,397.2 C450.4,397.9 449.4,398.6 448.9,399.3 C448.4,400 448,400.7 448,401.4 C448,402.1 448.3,402.8 448.8,403.4 C449.3,404.1 450.2,404.8 450.9,405.5 C451.6,406.2 452.5,406.9 453,407.6 C453.5,408.2 454,408.9 454,409.6 C454,410.3 453.7,411 453.2,411.7 C452.8,412.4 451.9,413.1 451.2,413.8 C450.5,414.4 449.5,415.1 449,415.8 C448.5,416.5 448.1,417.2 448,417.9 C448,418.6 448.3,419.2 448.7,419.9 C449.2,420.6 450.1,421.3 450.8,422 C451.5,422.7 452.4,423.4 452.9,424.1 C453.5,424.8 453.9,425.4 454,426.1 C454,426.8 453.8,427.5 453.3,428.2 C452.9,428.9 452,429.6 451.3,430.2 C450.6,430.9 449.6,431.6 449.1,432.3 C448.6,433 448.1,433.7 448,434.4 C447.9,435.1 448.2,435.8 448.7,436.4 C449.1,437.1 450,437.8 450.7,438.5 C451.4,439.2 452.3,439.9 452.9,440.6 C453.4,441.2 453.9,441.9 454,442.6 C454.1,443.3 453.8,444 453.4,444.7 C452.9,445.4 452.1,446.1 451.4,446.8 C450.7,447.4 449.7,448.1 449.2,448.8 C448.6,449.5 448.1,450.2 448,450.9 C447.9,451.6 448.2,452.2 448.6,452.9 C449,453.6 450.2,454.7 450.5,455" fill="none" stroke="#3f2ed8" stroke-width="4.5" stroke-linecap="round" opacity="0.95"/><path d="M451,389 C451.4,389.3 452.6,390.4 453.1,391.1 C453.6,391.8 454,392.4 454,393.1 C454,393.8 453.6,394.5 453.2,395.2 C452.7,395.9 451.8,396.6 451.1,397.2 C450.4,397.9 449.4,398.6 448.9,399.3 C448.4,400 448,400.7 448,401.4 C448,402.1 448.3,402.8 448.8,403.4 C449.3,404.1 450.2,404.8 450.9,405.5 C451.6,406.2 452.5,406.9 453,407.6 C453.5,408.2 454,408.9 454,409.6 C454,410.3 453.7,411 453.2,411.7 C452.8,412.4 451.9,413.1 451.2,413.8 C450.5,414.4 449.5,415.1 449,415.8 C448.5,416.5 448.1,417.2 448,417.9 C448,418.6 448.3,419.2 448.7,419.9 C449.2,420.6 450.1,421.3 450.8,422 C451.5,422.7 452.4,423.4 452.9,424.1 C453.5,424.8 453.9,425.4 454,426.1 C454,426.8 453.8,427.5 453.3,428.2 C452.9,428.9 452,429.6 451.3,430.2 C450.6,430.9 449.6,431.6 449.1,432.3 C448.6,433 448.1,433.7 448,434.4 C447.9,435.1 448.2,435.8 448.7,436.4 C449.1,437.1 450,437.8 450.7,438.5 C451.4,439.2 452.3,439.9 452.9,440.6 C453.4,441.2 453.9,441.9 454,442.6 C454.1,443.3 453.8,444 453.4,444.7 C452.9,445.4 452.1,446.1 451.4,446.8 C450.7,447.4 449.7,448.1 449.2,448.8 C448.6,449.5 448.1,450.2 448,450.9 C447.9,451.6 448.2,452.2 448.6,452.9 C449,453.6 450.2,454.7 450.5,455" fill="none" stroke="#fff" stroke-width="2" stroke-linecap="round"/>
<path d="M228,408 C224,414 224,420 227,425 C229,429 229,432 227,436" fill="none" stroke="#fff" stroke-width="2.4" stroke-linecap="round" opacity="0.45"/>
<path d="M491,409 C488,414 488,419 491,424 C493,428 493,432 491,436" fill="none" stroke="#4a3ae0" stroke-width="3" stroke-linecap="round" opacity="0.5"/>
<path d="M88,418.5 C88.3,418.6 89.2,419 89.5,419.3 C89.9,419.6 90.2,419.8 90.2,420.1 C90.2,420.3 90,420.6 89.6,420.9 C89.3,421.1 88.7,421.4 88.2,421.7 C87.7,421.9 87,422.2 86.6,422.5 C86.2,422.7 85.9,423 85.8,423.2 C85.8,423.5 85.9,423.8 86.2,424 C86.5,424.3 87.1,424.6 87.6,424.8 C88.1,425.1 88.8,425.4 89.2,425.6 C89.7,425.9 90.1,426.2 90.2,426.4 C90.3,426.7 90.1,426.9 89.9,427.2 C89.6,427.5 89,427.7 88.5,428 C88,428.3 87.3,428.5 86.9,428.8 C86.5,429.1 86,429.3 85.9,429.6 C85.7,429.8 85.8,430.1 86.1,430.4 C86.3,430.6 86.8,430.9 87.3,431.2 C87.8,431.4 88.5,431.7 88.9,432 C89.4,432.2 89.9,432.5 90.1,432.8 C90.2,433 90.2,433.3 90,433.5 C89.8,433.8 89.3,434.1 88.9,434.3 C88.4,434.6 87.7,434.9 87.2,435.1 C86.7,435.4 86.2,435.7 86,435.9 C85.8,436.2 85.8,436.4 85.9,436.7 C86.1,437 86.8,437.4 87,437.5" fill="none" stroke="#5a2ab0" stroke-width="3.2" stroke-linecap="round" stroke-linejoin="round" /><path d="M88,418.5 C88.3,418.6 89.2,419 89.5,419.3 C89.9,419.6 90.2,419.8 90.2,420.1 C90.2,420.3 90,420.6 89.6,420.9 C89.3,421.1 88.7,421.4 88.2,421.7 C87.7,421.9 87,422.2 86.6,422.5 C86.2,422.7 85.9,423 85.8,423.2 C85.8,423.5 85.9,423.8 86.2,424 C86.5,424.3 87.1,424.6 87.6,424.8 C88.1,425.1 88.8,425.4 89.2,425.6 C89.7,425.9 90.1,426.2 90.2,426.4 C90.3,426.7 90.1,426.9 89.9,427.2 C89.6,427.5 89,427.7 88.5,428 C88,428.3 87.3,428.5 86.9,428.8 C86.5,429.1 86,429.3 85.9,429.6 C85.7,429.8 85.8,430.1 86.1,430.4 C86.3,430.6 86.8,430.9 87.3,431.2 C87.8,431.4 88.5,431.7 88.9,432 C89.4,432.2 89.9,432.5 90.1,432.8 C90.2,433 90.2,433.3 90,433.5 C89.8,433.8 89.3,434.1 88.9,434.3 C88.4,434.6 87.7,434.9 87.2,435.1 C86.7,435.4 86.2,435.7 86,435.9 C85.8,436.2 85.8,436.4 85.9,436.7 C86.1,437 86.8,437.4 87,437.5" fill="none" stroke="#f04050" stroke-width="1.5" stroke-linecap="round" stroke-linejoin="round" /><line x1="91" y1="444.5" x2="100" y2="442" stroke="#ccc" stroke-width="1"/><text x="85.2" y="449.5" font-size="9" fill="#f0f0f0">S</text>
<path d="M163.3,418.5 C163.6,418.6 164.5,419 164.8,419.3 C165.2,419.6 165.5,419.8 165.5,420.1 C165.5,420.3 165.3,420.6 164.9,420.9 C164.6,421.1 164,421.4 163.5,421.7 C163,421.9 162.3,422.2 161.9,422.5 C161.5,422.7 161.2,423 161.1,423.2 C161.1,423.5 161.2,423.8 161.5,424 C161.8,424.3 162.4,424.6 162.9,424.8 C163.4,425.1 164.1,425.4 164.5,425.6 C165,425.9 165.4,426.2 165.5,426.4 C165.6,426.7 165.4,426.9 165.2,427.2 C164.9,427.5 164.3,427.7 163.8,428 C163.3,428.3 162.6,428.5 162.2,428.8 C161.8,429.1 161.3,429.3 161.2,429.6 C161,429.8 161.1,430.1 161.4,430.4 C161.6,430.6 162.1,430.9 162.6,431.2 C163.1,431.4 163.8,431.7 164.2,432 C164.7,432.2 165.2,432.5 165.4,432.8 C165.5,433 165.5,433.3 165.3,433.5 C165.1,433.8 164.6,434.1 164.2,434.3 C163.7,434.6 163,434.9 162.5,435.1 C162,435.4 161.5,435.7 161.3,435.9 C161.1,436.2 161.1,436.4 161.2,436.7 C161.4,437 162.1,437.4 162.3,437.5" fill="none" stroke="#5a2ab0" stroke-width="3.2" stroke-linecap="round" stroke-linejoin="round" /><path d="M163.3,418.5 C163.6,418.6 164.5,419 164.8,419.3 C165.2,419.6 165.5,419.8 165.5,420.1 C165.5,420.3 165.3,420.6 164.9,420.9 C164.6,421.1 164,421.4 163.5,421.7 C163,421.9 162.3,422.2 161.9,422.5 C161.5,422.7 161.2,423 161.1,423.2 C161.1,423.5 161.2,423.8 161.5,424 C161.8,424.3 162.4,424.6 162.9,424.8 C163.4,425.1 164.1,425.4 164.5,425.6 C165,425.9 165.4,426.2 165.5,426.4 C165.6,426.7 165.4,426.9 165.2,427.2 C164.9,427.5 164.3,427.7 163.8,428 C163.3,428.3 162.6,428.5 162.2,428.8 C161.8,429.1 161.3,429.3 161.2,429.6 C161,429.8 161.1,430.1 161.4,430.4 C161.6,430.6 162.1,430.9 162.6,431.2 C163.1,431.4 163.8,431.7 164.2,432 C164.7,432.2 165.2,432.5 165.4,432.8 C165.5,433 165.5,433.3 165.3,433.5 C165.1,433.8 164.6,434.1 164.2,434.3 C163.7,434.6 163,434.9 162.5,435.1 C162,435.4 161.5,435.7 161.3,435.9 C161.1,436.2 161.1,436.4 161.2,436.7 C161.4,437 162.1,437.4 162.3,437.5" fill="none" stroke="#f04050" stroke-width="1.5" stroke-linecap="round" stroke-linejoin="round" /><line x1="166.3" y1="444.5" x2="174.5" y2="442" stroke="#ccc" stroke-width="1"/><text x="160.5" y="449.5" font-size="9" fill="#f0f0f0">S</text>
<path d="M521,418.5 C521.3,418.6 522.2,419 522.5,419.3 C522.9,419.6 523.2,419.8 523.2,420.1 C523.2,420.3 523,420.6 522.6,420.9 C522.3,421.1 521.7,421.4 521.2,421.7 C520.7,421.9 520,422.2 519.6,422.5 C519.2,422.7 518.9,423 518.8,423.2 C518.8,423.5 518.9,423.8 519.2,424 C519.5,424.3 520.1,424.6 520.6,424.8 C521.1,425.1 521.8,425.4 522.2,425.6 C522.7,425.9 523.1,426.2 523.2,426.4 C523.3,426.7 523.1,426.9 522.9,427.2 C522.6,427.5 522,427.7 521.5,428 C521,428.3 520.3,428.5 519.9,428.8 C519.5,429.1 519,429.3 518.9,429.6 C518.7,429.8 518.8,430.1 519.1,430.4 C519.3,430.6 519.8,430.9 520.3,431.2 C520.8,431.4 521.5,431.7 521.9,432 C522.4,432.2 522.9,432.5 523.1,432.8 C523.2,433 523.2,433.3 523,433.5 C522.8,433.8 522.3,434.1 521.9,434.3 C521.4,434.6 520.7,434.9 520.2,435.1 C519.7,435.4 519.2,435.7 519,435.9 C518.8,436.2 518.8,436.4 518.9,436.7 C519.1,437 519.8,437.4 520,437.5" fill="none" stroke="#5a2ab0" stroke-width="3.2" stroke-linecap="round" stroke-linejoin="round" /><path d="M521,418.5 C521.3,418.6 522.2,419 522.5,419.3 C522.9,419.6 523.2,419.8 523.2,420.1 C523.2,420.3 523,420.6 522.6,420.9 C522.3,421.1 521.7,421.4 521.2,421.7 C520.7,421.9 520,422.2 519.6,422.5 C519.2,422.7 518.9,423 518.8,423.2 C518.8,423.5 518.9,423.8 519.2,424 C519.5,424.3 520.1,424.6 520.6,424.8 C521.1,425.1 521.8,425.4 522.2,425.6 C522.7,425.9 523.1,426.2 523.2,426.4 C523.3,426.7 523.1,426.9 522.9,427.2 C522.6,427.5 522,427.7 521.5,428 C521,428.3 520.3,428.5 519.9,428.8 C519.5,429.1 519,429.3 518.9,429.6 C518.7,429.8 518.8,430.1 519.1,430.4 C519.3,430.6 519.8,430.9 520.3,431.2 C520.8,431.4 521.5,431.7 521.9,432 C522.4,432.2 522.9,432.5 523.1,432.8 C523.2,433 523.2,433.3 523,433.5 C522.8,433.8 522.3,434.1 521.9,434.3 C521.4,434.6 520.7,434.9 520.2,435.1 C519.7,435.4 519.2,435.7 519,435.9 C518.8,436.2 518.8,436.4 518.9,436.7 C519.1,437 519.8,437.4 520,437.5" fill="none" stroke="#f04050" stroke-width="1.5" stroke-linecap="round" stroke-linejoin="round" /><line x1="524" y1="444.5" x2="532.5" y2="442" stroke="#ccc" stroke-width="1"/><text x="518.2" y="449.5" font-size="9" fill="#f0f0f0">S</text>
<path d="M594.7,418.5 C595,418.6 595.9,419 596.2,419.3 C596.6,419.6 596.9,419.8 596.9,420.1 C596.9,420.3 596.7,420.6 596.3,420.9 C596,421.1 595.4,421.4 594.9,421.7 C594.4,421.9 593.7,422.2 593.3,422.5 C592.9,422.7 592.6,423 592.5,423.2 C592.5,423.5 592.6,423.8 592.9,424 C593.2,424.3 593.8,424.6 594.3,424.8 C594.8,425.1 595.5,425.4 595.9,425.6 C596.4,425.9 596.8,426.2 596.9,426.4 C597,426.7 596.8,426.9 596.6,427.2 C596.3,427.5 595.7,427.7 595.2,428 C594.7,428.3 594,428.5 593.6,428.8 C593.2,429.1 592.7,429.3 592.6,429.6 C592.4,429.8 592.5,430.1 592.8,430.4 C593,430.6 593.5,430.9 594,431.2 C594.5,431.4 595.2,431.7 595.6,432 C596.1,432.2 596.6,432.5 596.8,432.8 C596.9,433 596.9,433.3 596.7,433.5 C596.5,433.8 596,434.1 595.6,434.3 C595.1,434.6 594.4,434.9 593.9,435.1 C593.4,435.4 592.9,435.7 592.7,435.9 C592.5,436.2 592.5,436.4 592.6,436.7 C592.8,437 593.5,437.4 593.7,437.5" fill="none" stroke="#5a2ab0" stroke-width="3.2" stroke-linecap="round" stroke-linejoin="round" /><path d="M594.7,418.5 C595,418.6 595.9,419 596.2,419.3 C596.6,419.6 596.9,419.8 596.9,420.1 C596.9,420.3 596.7,420.6 596.3,420.9 C596,421.1 595.4,421.4 594.9,421.7 C594.4,421.9 593.7,422.2 593.3,422.5 C592.9,422.7 592.6,423 592.5,423.2 C592.5,423.5 592.6,423.8 592.9,424 C593.2,424.3 593.8,424.6 594.3,424.8 C594.8,425.1 595.5,425.4 595.9,425.6 C596.4,425.9 596.8,426.2 596.9,426.4 C597,426.7 596.8,426.9 596.6,427.2 C596.3,427.5 595.7,427.7 595.2,428 C594.7,428.3 594,428.5 593.6,428.8 C593.2,429.1 592.7,429.3 592.6,429.6 C592.4,429.8 592.5,430.1 592.8,430.4 C593,430.6 593.5,430.9 594,431.2 C594.5,431.4 595.2,431.7 595.6,432 C596.1,432.2 596.6,432.5 596.8,432.8 C596.9,433 596.9,433.3 596.7,433.5 C596.5,433.8 596,434.1 595.6,434.3 C595.1,434.6 594.4,434.9 593.9,435.1 C593.4,435.4 592.9,435.7 592.7,435.9 C592.5,436.2 592.5,436.4 592.6,436.7 C592.8,437 593.5,437.4 593.7,437.5" fill="none" stroke="#f04050" stroke-width="1.5" stroke-linecap="round" stroke-linejoin="round" /><line x1="597.7" y1="444.5" x2="606" y2="442" stroke="#ccc" stroke-width="1"/><text x="591.9" y="449.5" font-size="9" fill="#f0f0f0">S</text>
<defs><radialGradient id="cal" cx="0.5" cy="0.66" r="0.58"><stop offset="0" stop-color="#a4dcf2"/><stop offset="0.25" stop-color="#90b4e4"/><stop offset="0.55" stop-color="#7c60bc"/><stop offset="0.85" stop-color="#6c2e8c"/><stop offset="1" stop-color="#5a3cc0"/></radialGradient></defs>
<ellipse cx="180.5" cy="473.7" rx="18" ry="22.5" transform="rotate(-7 180.5 473.7)" fill="url(#cal)"/>
<path d="M173.5,452.5 Q178.5,463 181,477.5 Q181.5,464 178.5,451.8 Z" fill="#0a0a30"/>
<path d="M176,441 C176.1,441.7 176.3,443.8 176.7,445 C177.1,446.2 178.8,447.2 178.4,448.5 C178,449.8 174.9,451.2 174,452.8 C173.1,454.4 173,456.3 173.2,458 C173.4,459.7 174.3,461.9 175,463.2 C175.7,464.5 177.1,465.4 177.5,465.8" fill="none" stroke="#3f2ed8" stroke-width="4.8" stroke-linecap="round" opacity="0.95"/><path d="M176,441 C176.1,441.7 176.3,443.8 176.7,445 C177.1,446.2 178.8,447.2 178.4,448.5 C178,449.8 174.9,451.2 174,452.8 C173.1,454.4 173,456.3 173.2,458 C173.4,459.7 174.3,461.9 175,463.2 C175.7,464.5 177.1,465.4 177.5,465.8" fill="none" stroke="#fff" stroke-width="2.3" stroke-linecap="round"/>
<path d="M247.2,459.4 C249.1,460.4 249.7,468.6 251.6,469 C253.5,469.4 256.8,461 258.5,462 C260.2,463 262.3,470.8 262,475 C261.7,479.2 257.4,482.5 256.8,487.1 C256.2,491.7 258.6,497.8 258.5,502.7 C258.4,507.6 257.4,513.3 255.9,516.6 C254.5,519.9 252.8,521.7 249.8,522.6 C246.8,523.5 241.4,523.1 237.7,521.8 C233.9,520.5 229.8,517.1 227.3,514.8 C224.9,512.5 223,510.9 223,508 C223,505.1 225.7,501.8 227.3,497.5 C228.9,493.2 231.2,486.6 232.5,482 C233.8,477.4 233.8,473 235.1,469.8 C236.4,466.6 238.3,464.6 240.3,462.9 C242.3,461.2 245.3,458.4 247.2,459.4Z" fill="#4fcb22" stroke="#3aa418" stroke-width="1"/>
<circle cx="247.5" cy="503.4" r="0.5" fill="#c8f0a0"/><circle cx="249.5" cy="512.4" r="0.5" fill="#c8f0a0"/><circle cx="248.9" cy="511.5" r="0.5" fill="#c8f0a0"/><circle cx="240.3" cy="491.0" r="0.5" fill="#c8f0a0"/><circle cx="251.3" cy="499.2" r="0.5" fill="#c8f0a0"/><circle cx="250.8" cy="475.1" r="0.5" fill="#c8f0a0"/><circle cx="245.6" cy="481.1" r="0.5" fill="#c8f0a0"/><circle cx="246.5" cy="495.8" r="0.5" fill="#c8f0a0"/><circle cx="240.2" cy="479.8" r="0.5" fill="#c8f0a0"/><circle cx="243.4" cy="511.2" r="0.5" fill="#c8f0a0"/><circle cx="249.2" cy="477.2" r="0.5" fill="#c8f0a0"/><circle cx="249.6" cy="476.2" r="0.5" fill="#c8f0a0"/><circle cx="247.4" cy="475.7" r="0.5" fill="#c8f0a0"/><circle cx="240.0" cy="509.2" r="0.5" fill="#c8f0a0"/><circle cx="242.5" cy="479.7" r="0.5" fill="#c8f0a0"/><circle cx="251.8" cy="509.3" r="0.5" fill="#c8f0a0"/><circle cx="243.5" cy="513.3" r="0.5" fill="#c8f0a0"/><circle cx="246.5" cy="500.5" r="0.5" fill="#c8f0a0"/><circle cx="242.5" cy="512.3" r="0.5" fill="#c8f0a0"/><circle cx="248.3" cy="513.5" r="0.5" fill="#c8f0a0"/><circle cx="250.7" cy="483.4" r="0.5" fill="#c8f0a0"/><circle cx="244.3" cy="477.5" r="0.5" fill="#c8f0a0"/><circle cx="241.7" cy="472.9" r="0.5" fill="#c8f0a0"/><circle cx="243.6" cy="497.1" r="0.5" fill="#c8f0a0"/><circle cx="240.0" cy="500.5" r="0.5" fill="#c8f0a0"/><circle cx="244.1" cy="483.9" r="0.5" fill="#c8f0a0"/><circle cx="249.8" cy="491.6" r="0.5" fill="#c8f0a0"/><circle cx="243.8" cy="491.7" r="0.5" fill="#c8f0a0"/><circle cx="248.5" cy="472.6" r="0.5" fill="#c8f0a0"/><circle cx="251.7" cy="471.0" r="0.5" fill="#c8f0a0"/><circle cx="249.0" cy="508.0" r="0.5" fill="#c8f0a0"/><circle cx="240.2" cy="505.4" r="0.5" fill="#c8f0a0"/><circle cx="244.4" cy="496.0" r="0.5" fill="#c8f0a0"/><circle cx="240.1" cy="472.1" r="0.5" fill="#c8f0a0"/><circle cx="242.2" cy="513.0" r="0.5" fill="#c8f0a0"/><circle cx="242.4" cy="504.0" r="0.5" fill="#c8f0a0"/><circle cx="251.2" cy="512.4" r="0.5" fill="#c8f0a0"/><circle cx="244.1" cy="486.0" r="0.5" fill="#c8f0a0"/><circle cx="246.3" cy="504.9" r="0.5" fill="#c8f0a0"/><circle cx="241.3" cy="503.7" r="0.5" fill="#c8f0a0"/>
<path d="M262,458 C263,458.5 266.3,459.5 268,461 C269.7,462.5 271.8,464.8 272,467 C272.2,469.2 270.5,472.2 269,474 C267.5,475.8 264.2,476 263,478 C261.8,480 262.2,482.7 262,486 C261.8,489.3 261,494.5 262,498 C263,501.5 268,504.7 268,507 C268,509.3 265,510.2 262,512 C259,513.8 254.2,515.8 250,518 C245.8,520.2 240.7,522.8 237,525 C233.3,527.2 229.8,529.7 228,531 C226.2,532.3 225.2,533.5 226,533 C226.8,532.5 230.2,531.3 233,528 C235.8,524.7 241.3,515.5 243,513" fill="none" stroke="#3f2ed8" stroke-width="4.5" stroke-linecap="round" opacity="0.95"/><path d="M262,458 C263,458.5 266.3,459.5 268,461 C269.7,462.5 271.8,464.8 272,467 C272.2,469.2 270.5,472.2 269,474 C267.5,475.8 264.2,476 263,478 C261.8,480 262.2,482.7 262,486 C261.8,489.3 261,494.5 262,498 C263,501.5 268,504.7 268,507 C268,509.3 265,510.2 262,512 C259,513.8 254.2,515.8 250,518 C245.8,520.2 240.7,522.8 237,525 C233.3,527.2 229.8,529.7 228,531 C226.2,532.3 225.2,533.5 226,533 C226.8,532.5 230.2,531.3 233,528 C235.8,524.7 241.3,515.5 243,513" fill="none" stroke="#fff" stroke-width="2" stroke-linecap="round"/>
<path d="M453,455 C451.8,455.4 448,456.3 446,457.5 C444,458.7 441.9,460.2 441,462 C440.1,463.8 439.9,466.2 440.5,468 C441.1,469.8 442.8,471.4 444.5,472.5 C446.2,473.6 449.3,473.5 451,474.5 C452.7,475.5 454.2,477.1 454.5,478.5 C454.8,479.9 453.8,481.8 453,483 C452.2,484.2 450.1,485.5 449.5,486" fill="none" stroke="#fff" stroke-width="2.56" stroke-linecap="round" stroke-linejoin="round" />
<path d="M453,455 C453.9,455.5 457,456.7 458.5,458 C460,459.3 461.3,461.2 461.8,463 C462.3,464.8 461.6,468 461.5,469" fill="none" stroke="#fff" stroke-width="2.56" stroke-linecap="round" stroke-linejoin="round" />
<path d="M449.5,486 C449.4,487.3 449,491.3 448.8,494 C448.6,496.7 449.2,499.8 448.4,502 C447.6,504.2 444.6,505.6 444,507.5 C443.4,509.4 443.2,511.6 444.5,513.5 C445.8,515.4 449.1,517 452,519 C454.9,521 457.9,523.1 462,525.5 C466.1,527.9 473,531.9 476.7,533.5 C480.4,535.1 482.4,535.3 484,535 C485.6,534.7 486.8,532.9 486.5,531.5 C486.2,530.1 483.9,528.2 482,526.5 C480.1,524.8 477.2,523.8 474.8,521.5 C472.4,519.2 469.2,516.1 467.5,513 C465.8,509.9 464.6,506.2 464.4,503 C464.2,499.8 466.4,496.2 466.5,493.5 C466.6,490.8 466.1,488.7 465,487 C463.9,485.3 461.6,484.5 460,483.5 C458.4,482.5 456.2,481.4 455.5,481" fill="none" stroke="#fff" stroke-width="2.56" stroke-linecap="round" stroke-linejoin="round" />
<line x1="286.2" y1="482" x2="268" y2="488.7" stroke="#d8d040" stroke-width="1.3"/><polygon points="264.5,489.7 272,484 272.5,492" fill="#b8e0a0"/>
<line x1="569.6" y1="488.6" x2="531" y2="456" stroke="#e8e040" stroke-width="1.5"/><polygon points="527.6,453 536.5,455.5 531,461" fill="#e8e040"/>
<line x1="582.6" y1="488.6" x2="591.5" y2="456" stroke="#e8e040" stroke-width="1.5"/><polygon points="592.5,451.5 595.5,459.5 588,458" fill="#e8e040"/>
<text class="t" x="67.6" y="78.8" font-size="11" text-anchor="start" textLength="81.3" lengthAdjust="spacingAndGlyphs">Ligand Binding</text>
<text class="t" x="107.2" y="91.2" font-size="11" text-anchor="start" textLength="41.7" lengthAdjust="spacingAndGlyphs">Domain</text>
<text class="t" x="90.6" y="224.4" font-size="11" text-anchor="start" textLength="55.6" lengthAdjust="spacingAndGlyphs">Mucin-like</text>
<text class="t" x="111.9" y="238.8" font-size="11" text-anchor="start" textLength="36.8" lengthAdjust="spacingAndGlyphs">Region</text>
<text class="t" x="270.9" y="121.8" font-size="11.5" text-anchor="start" textLength="32.2" lengthAdjust="spacingAndGlyphs">GPIb<tspan font-weight="normal" font-family="Liberation Serif" font-style="italic">α</tspan></text>
<text class="t" x="343.8" y="170.3" font-size="11.5" text-anchor="start" textLength="22.4" lengthAdjust="spacingAndGlyphs">GPV</text>
<text class="t" x="549.6" y="147.5" font-size="11.5" text-anchor="start" textLength="52" lengthAdjust="spacingAndGlyphs">N-glycans</text>
<text class="t" x="549.6" y="180" font-size="11.5" text-anchor="start" textLength="52" lengthAdjust="spacingAndGlyphs">O-glycans</text>
<text class="t" x="89" y="316" font-size="11" text-anchor="start" textLength="24" lengthAdjust="spacingAndGlyphs">GPIX</text>
<text class="t" x="148.5" y="316" font-size="11" text-anchor="start" textLength="31.9" lengthAdjust="spacingAndGlyphs">GPIb<tspan font-weight="normal" font-family="Liberation Serif">β</tspan></text>
<text class="t" x="206.3" y="316" font-size="11" text-anchor="start" textLength="31.4" lengthAdjust="spacingAndGlyphs">GPIb<tspan font-weight="normal" font-family="Liberation Serif">β</tspan></text>
<text class="t" x="102.6" y="487" font-size="10.5" text-anchor="start" textLength="56.5" lengthAdjust="spacingAndGlyphs">calmodulin</text>
<text class="t" x="280.8" y="478" font-size="10.5" text-anchor="start" textLength="68.1" lengthAdjust="spacingAndGlyphs">14-3-3<tspan font-weight="normal" font-family="Liberation Serif">ζ</tspan> dimer</text>
<text class="t" x="560.9" y="500.8" font-size="10.5" text-anchor="start" textLength="46.6" lengthAdjust="spacingAndGlyphs">Palmitate</text>
<text class="t" x="277.2" y="555.3" font-size="10.5" text-anchor="start" textLength="43.8" lengthAdjust="spacingAndGlyphs">filamin A</text>
<text class="t" x="158.7" y="565.6" font-size="10.5" text-anchor="start" textLength="25.6" lengthAdjust="spacingAndGlyphs">short</text>
<text class="t" x="158.7" y="578.3" font-size="10.5" text-anchor="start" textLength="24.3" lengthAdjust="spacingAndGlyphs">actin</text>
<text class="t" x="158.7" y="590.1" font-size="10.5" text-anchor="start" textLength="45.9" lengthAdjust="spacingAndGlyphs">filaments</text>
<path d="M608,138.9 L615,138.9 L625.4,134.4 M615,138.9 L625.4,143" stroke="#1e9a22" stroke-width="1.2" fill="none"/><circle cx="625.4" cy="134.4" r="2.7" fill="#bff2fa" stroke="#3aba3a" stroke-width="0.8"/><circle cx="625.4" cy="134.4" r="0.9" fill="#d8a0b8"/><circle cx="625.4" cy="143" r="2.7" fill="#bff2fa" stroke="#3aba3a" stroke-width="0.8"/><circle cx="625.4" cy="143" r="0.9" fill="#d8a0b8"/>
<line x1="608" y1="175.7" x2="614.3" y2="175.7" stroke="#2a8a2a" stroke-width="1.2"/>
<path d="M614.3,175.7 L618.5,170.1 L631,170.1 M614.3,175.7 L618.5,181.25 L624.7,181.25" stroke="#22c020" stroke-width="1.2" fill="none"/>
<circle cx="614.3" cy="175.7" r="2.3" fill="#e8a0b4" stroke="#3cc834" stroke-width="0.75"/>
<circle cx="618.5" cy="170.1" r="2.3" fill="#e8a0b4" stroke="#3cc834" stroke-width="0.75"/>
<circle cx="624.7" cy="170.1" r="2.3" fill="#aee8f0" stroke="#3cc834" stroke-width="0.75"/>
<circle cx="631" cy="170.1" r="2.3" fill="#eef048" stroke="#3cc834" stroke-width="0.75"/>
<circle cx="618.5" cy="181.2" r="2.3" fill="#aee8f0" stroke="#3cc834" stroke-width="0.75"/>
<circle cx="624.7" cy="181.2" r="2.3" fill="#eef048" stroke="#3cc834" stroke-width="0.75"/>
</svg></body></html>
